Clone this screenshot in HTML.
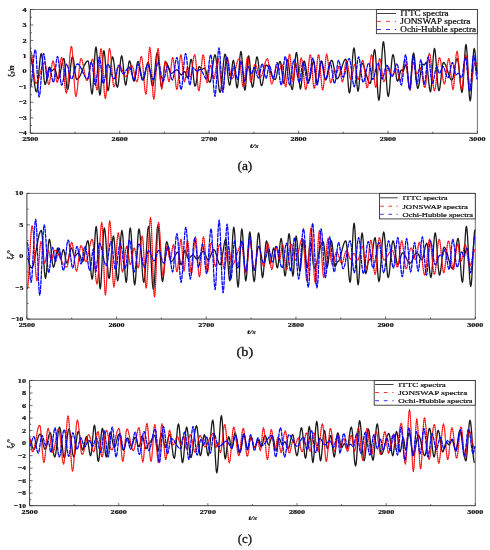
<!DOCTYPE html>
<html><head><meta charset="utf-8"><title>Figure</title>
<style>
html,body{margin:0;padding:0;background:#fff}
svg{display:block}
text{font-family:"Liberation Serif","DejaVu Serif",serif;fill:#111}
.tk{font-size:7px;font-weight:bold;stroke:#111;stroke-width:0.22px}
.al{font-size:6.1px;font-weight:bold;font-style:italic;stroke:#111;stroke-width:0.15px}
.lg{stroke:#111;stroke-width:0.22px}
.cap{font-size:12.8px;fill:#111;stroke:#111;stroke-width:0.3px}
</style></head><body>
<svg width="490" height="550" viewBox="0 0 490 550">
<rect width="490" height="550" fill="#fff"/>
<g fill="none" stroke-linejoin="round">
<path d="M30.3 56.9 L30.8 57.5 L31.3 59.3 L31.8 62.0 L32.4 65.6 L32.9 69.9 L33.4 74.4 L33.9 78.9 L34.4 83.1 L34.9 86.7 L35.4 89.5 L35.9 91.3 L36.5 91.9 L37.0 90.7 L37.5 87.4 L38.1 82.3 L38.6 76.0 L39.1 69.4 L39.7 63.1 L40.2 58.0 L40.8 54.7 L41.3 53.5 L41.8 55.1 L42.4 59.4 L42.9 65.6 L43.5 72.5 L44.0 78.7 L44.6 83.0 L45.1 84.5 L45.7 83.9 L46.2 82.0 L46.7 79.1 L47.3 75.8 L47.8 72.5 L48.4 69.6 L48.9 67.7 L49.4 67.1 L50.0 67.6 L50.5 69.0 L51.1 70.4 L51.7 71.0 L52.2 70.8 L52.8 70.2 L53.4 69.5 L53.9 69.0 L54.5 68.8 L55.0 69.3 L55.6 70.7 L56.1 72.7 L56.6 75.0 L57.1 77.0 L57.7 78.4 L58.2 78.9 L58.7 78.5 L59.2 77.3 L59.7 75.4 L60.3 73.0 L60.8 70.2 L61.3 67.3 L61.8 64.5 L62.3 62.1 L62.8 60.2 L63.3 59.0 L63.9 58.6 L64.4 60.1 L64.9 64.4 L65.4 70.7 L65.9 77.6 L66.4 83.8 L66.9 88.1 L67.5 89.6 L68.0 88.8 L68.5 86.5 L69.0 82.9 L69.5 78.3 L70.0 73.3 L70.5 68.2 L71.0 63.6 L71.5 60.0 L72.0 57.7 L72.5 56.9 L73.1 57.8 L73.6 60.2 L74.1 63.9 L74.6 68.2 L75.1 72.5 L75.7 76.2 L76.2 78.6 L76.7 79.5 L77.2 79.4 L77.7 79.1 L78.3 78.6 L78.8 78.0 L79.3 77.2 L79.8 76.3 L80.3 75.2 L80.8 74.0 L81.4 72.8 L81.9 71.5 L82.4 70.2 L82.9 68.8 L83.4 67.5 L83.9 66.3 L84.5 65.1 L85.0 64.1 L85.5 63.1 L86.0 62.3 L86.5 61.7 L87.0 61.2 L87.6 61.0 L88.1 60.9 L88.6 62.5 L89.2 67.1 L89.8 73.8 L90.3 81.2 L90.9 87.9 L91.5 92.5 L92.0 94.1 L92.6 91.8 L93.1 85.2 L93.7 75.7 L94.3 65.2 L94.8 55.7 L95.4 49.1 L96.0 46.8 L96.5 49.2 L97.1 55.9 L97.7 65.6 L98.2 76.4 L98.8 86.1 L99.3 92.8 L99.9 95.2 L100.5 93.0 L101.0 86.9 L101.6 77.9 L102.2 68.0 L102.7 59.1 L103.3 52.9 L103.9 50.7 L104.4 52.2 L104.9 56.6 L105.4 63.1 L105.9 70.7 L106.5 78.4 L107.0 84.9 L107.5 89.2 L108.0 90.7 L108.5 89.7 L109.0 86.8 L109.5 82.3 L110.0 76.8 L110.5 70.9 L111.0 65.4 L111.5 60.9 L112.0 57.9 L112.5 56.9 L113.1 57.8 L113.6 60.5 L114.2 64.5 L114.7 69.5 L115.2 74.8 L115.8 79.7 L116.3 83.8 L116.9 86.4 L117.4 87.3 L117.9 86.1 L118.5 82.7 L119.0 77.6 L119.5 71.6 L120.1 65.5 L120.6 60.4 L121.1 57.0 L121.7 55.8 L122.2 57.2 L122.8 61.3 L123.4 67.2 L123.9 73.7 L124.5 79.6 L125.1 83.6 L125.6 85.1 L126.2 83.9 L126.7 80.5 L127.3 75.7 L127.8 70.3 L128.4 65.4 L128.9 62.1 L129.4 60.9 L130.0 61.5 L130.5 63.2 L131.0 65.9 L131.5 69.2 L132.0 72.8 L132.5 76.1 L133.0 78.8 L133.5 80.5 L134.0 81.2 L134.5 80.4 L135.0 78.3 L135.5 75.1 L136.0 71.3 L136.5 67.5 L137.0 64.3 L137.5 62.2 L138.0 61.4 L138.5 61.9 L139.0 63.2 L139.5 65.3 L140.0 67.8 L140.5 70.7 L141.0 73.6 L141.5 76.2 L142.1 78.2 L142.6 79.6 L143.1 80.0 L143.6 79.6 L144.1 78.4 L144.6 76.4 L145.1 74.0 L145.6 71.3 L146.1 68.6 L146.6 66.2 L147.1 64.2 L147.6 63.0 L148.2 62.5 L148.7 63.3 L149.2 65.3 L149.7 68.5 L150.2 72.3 L150.7 76.4 L151.2 80.3 L151.7 83.5 L152.2 85.5 L152.7 86.2 L153.2 85.2 L153.7 82.3 L154.2 77.9 L154.7 72.5 L155.2 66.7 L155.7 61.3 L156.2 56.9 L156.7 54.0 L157.2 53.0 L157.7 54.0 L158.2 56.9 L158.7 61.4 L159.2 66.9 L159.7 72.8 L160.2 78.3 L160.7 82.8 L161.2 85.8 L161.7 86.8 L162.2 85.6 L162.8 82.1 L163.4 77.1 L163.9 71.6 L164.5 66.7 L165.1 63.2 L165.6 62.0 L166.1 62.2 L166.6 62.9 L167.2 63.9 L167.7 65.3 L168.2 66.8 L168.7 68.4 L169.2 70.0 L169.7 71.3 L170.2 72.4 L170.7 73.0 L171.3 73.3 L171.8 73.2 L172.3 73.0 L172.8 72.7 L173.3 72.3 L173.8 71.8 L174.3 71.3 L174.8 70.9 L175.4 70.5 L175.9 70.1 L176.4 69.9 L176.9 69.9 L177.4 70.0 L177.9 70.5 L178.4 71.1 L178.9 72.0 L179.4 72.9 L179.9 73.7 L180.4 74.4 L180.9 74.8 L181.4 75.0 L182.0 74.7 L182.5 74.1 L183.1 73.3 L183.7 72.4 L184.2 71.8 L184.8 71.6 L185.4 72.2 L185.9 73.7 L186.5 75.6 L187.0 77.2 L187.6 77.8 L188.1 76.8 L188.6 74.3 L189.2 70.5 L189.7 66.4 L190.2 62.7 L190.7 60.1 L191.2 59.2 L191.8 60.5 L192.3 64.3 L192.8 69.7 L193.4 75.7 L193.9 81.1 L194.5 84.9 L195.0 86.2 L195.6 85.5 L196.1 83.3 L196.6 80.1 L197.1 76.4 L197.6 72.6 L198.2 69.4 L198.7 67.2 L199.2 66.5 L199.8 66.8 L200.3 67.5 L200.9 68.3 L201.5 69.0 L202.0 69.3 L202.6 69.1 L203.1 68.7 L203.7 68.3 L204.3 68.2 L204.8 68.5 L205.3 69.3 L205.8 70.6 L206.3 72.3 L206.8 74.2 L207.3 76.2 L207.9 78.2 L208.4 79.8 L208.9 81.2 L209.4 82.0 L209.9 82.3 L210.4 81.6 L210.9 79.6 L211.4 76.6 L211.9 72.7 L212.4 68.5 L213.0 64.2 L213.5 60.4 L214.0 57.3 L214.5 55.3 L215.0 54.7 L215.5 55.6 L216.0 58.3 L216.5 62.4 L217.0 67.7 L217.5 73.5 L218.0 79.4 L218.5 84.6 L219.0 88.8 L219.6 91.5 L220.1 92.4 L220.6 91.5 L221.1 88.8 L221.6 84.5 L222.1 79.2 L222.6 73.3 L223.1 67.3 L223.6 62.0 L224.1 57.8 L224.6 55.0 L225.1 54.1 L225.6 55.0 L226.1 57.7 L226.6 61.8 L227.1 66.9 L227.6 72.3 L228.1 77.3 L228.6 81.5 L229.1 84.2 L229.6 85.1 L230.2 83.9 L230.7 80.4 L231.2 75.5 L231.8 69.9 L232.3 65.0 L232.8 61.5 L233.4 60.3 L233.9 61.7 L234.5 65.5 L235.0 71.0 L235.5 77.2 L236.1 82.7 L236.6 86.5 L237.2 87.9 L237.7 86.1 L238.3 81.0 L238.8 73.7 L239.3 65.5 L239.8 58.2 L240.4 53.1 L240.9 51.3 L241.5 53.2 L242.0 58.6 L242.6 66.4 L243.2 75.0 L243.7 82.8 L244.3 88.2 L244.9 90.2 L245.4 88.5 L245.9 83.7 L246.4 76.8 L247.0 69.1 L247.5 62.3 L248.0 57.5 L248.6 55.8 L249.1 57.3 L249.7 61.7 L250.3 68.1 L250.8 75.1 L251.4 81.4 L251.9 85.8 L252.5 87.3 L253.0 86.4 L253.5 83.8 L254.0 79.7 L254.5 74.8 L255.0 69.5 L255.5 64.5 L256.0 60.5 L256.5 57.8 L257.0 56.9 L257.5 57.8 L258.0 60.3 L258.5 64.1 L259.0 68.8 L259.5 73.8 L260.0 78.5 L260.5 82.3 L261.0 84.8 L261.5 85.7 L262.1 85.0 L262.6 83.2 L263.1 80.5 L263.6 77.1 L264.2 73.6 L264.7 70.2 L265.2 67.4 L265.7 65.7 L266.3 65.0 L266.8 65.2 L267.3 65.5 L267.8 66.1 L268.3 66.9 L268.8 67.9 L269.4 69.0 L269.9 70.3 L270.4 71.6 L270.9 72.9 L271.4 74.2 L272.0 75.5 L272.5 76.6 L273.0 77.6 L273.5 78.4 L274.0 79.0 L274.5 79.3 L275.1 79.5 L275.6 79.0 L276.1 77.7 L276.6 75.7 L277.1 73.2 L277.6 70.4 L278.1 67.7 L278.6 65.1 L279.1 63.1 L279.6 61.9 L280.1 61.4 L280.7 62.5 L281.2 65.6 L281.7 70.0 L282.3 74.9 L282.8 79.3 L283.3 82.3 L283.9 83.4 L284.4 82.2 L284.9 78.9 L285.4 74.2 L285.9 68.9 L286.4 64.2 L286.9 60.9 L287.5 59.7 L288.0 60.6 L288.5 63.2 L289.0 67.2 L289.6 72.1 L290.1 77.3 L290.6 82.1 L291.1 86.1 L291.7 88.7 L292.2 89.6 L292.7 88.2 L293.3 84.2 L293.8 78.1 L294.3 71.0 L294.9 63.9 L295.4 57.8 L295.9 53.8 L296.5 52.4 L297.0 54.2 L297.6 59.3 L298.2 66.6 L298.7 74.8 L299.3 82.1 L299.9 87.2 L300.4 89.0 L300.9 87.6 L301.5 83.7 L302.0 78.1 L302.5 71.8 L303.1 66.2 L303.6 62.3 L304.1 60.9 L304.6 61.5 L305.1 63.2 L305.6 65.9 L306.1 69.2 L306.6 72.8 L307.1 76.1 L307.6 78.8 L308.1 80.5 L308.6 81.2 L309.1 80.7 L309.7 79.3 L310.2 77.1 L310.7 74.3 L311.2 71.3 L311.7 68.2 L312.2 65.5 L312.7 63.3 L313.2 61.9 L313.7 61.4 L314.3 62.9 L314.8 66.9 L315.4 72.4 L316.0 77.9 L316.5 81.9 L317.1 83.4 L317.6 82.7 L318.1 80.8 L318.6 77.8 L319.1 74.1 L319.6 70.2 L320.1 66.5 L320.6 63.5 L321.1 61.5 L321.6 60.9 L322.2 61.8 L322.7 64.5 L323.3 68.3 L323.9 72.6 L324.4 76.4 L325.0 79.1 L325.6 80.0 L326.1 79.7 L326.6 78.7 L327.1 77.1 L327.6 75.1 L328.1 72.7 L328.6 70.2 L329.2 67.6 L329.7 65.2 L330.2 63.2 L330.7 61.6 L331.2 60.6 L331.8 60.3 L332.3 60.7 L332.8 62.1 L333.3 64.1 L333.8 66.7 L334.3 69.6 L334.8 72.5 L335.3 75.1 L335.8 77.1 L336.3 78.4 L336.8 78.9 L337.3 78.8 L337.8 78.3 L338.3 77.6 L338.8 76.6 L339.3 75.4 L339.8 74.0 L340.3 72.4 L340.8 70.7 L341.3 69.0 L341.8 67.3 L342.3 65.7 L342.8 64.1 L343.3 62.7 L343.8 61.5 L344.3 60.5 L344.8 59.8 L345.3 59.3 L345.8 59.2 L346.4 60.8 L346.9 65.5 L347.4 72.3 L347.9 79.8 L348.4 86.6 L348.9 91.3 L349.4 93.0 L350.0 91.6 L350.5 87.7 L351.0 81.7 L351.5 74.4 L352.0 66.5 L352.5 59.2 L353.0 53.2 L353.5 49.2 L354.0 47.9 L354.5 49.5 L355.0 54.2 L355.5 61.3 L356.0 69.6 L356.5 77.9 L357.0 84.9 L357.5 89.6 L358.0 91.3 L358.5 89.9 L359.0 86.0 L359.5 80.3 L360.1 74.1 L360.6 68.4 L361.1 64.5 L361.6 63.1 L362.1 63.3 L362.6 63.8 L363.1 64.6 L363.6 65.8 L364.1 67.1 L364.6 68.7 L365.1 70.5 L365.6 72.3 L366.1 74.2 L366.7 76.0 L367.2 77.8 L367.7 79.4 L368.2 80.8 L368.7 81.9 L369.2 82.7 L369.7 83.2 L370.2 83.4 L370.7 82.4 L371.2 79.4 L371.7 74.9 L372.2 69.4 L372.7 63.6 L373.2 58.0 L373.7 53.5 L374.2 50.6 L374.7 49.6 L375.2 51.5 L375.7 57.0 L376.3 65.2 L376.8 74.9 L377.3 84.7 L377.8 92.9 L378.3 98.4 L378.9 100.3 L379.4 98.6 L379.9 93.5 L380.4 85.7 L380.9 76.1 L381.4 65.9 L381.9 56.3 L382.4 48.5 L382.9 43.5 L383.4 41.7 L383.9 43.3 L384.4 48.1 L385.0 55.4 L385.5 64.3 L386.1 73.8 L386.6 82.7 L387.1 90.0 L387.7 94.7 L388.2 96.4 L388.7 95.1 L389.3 91.5 L389.8 85.9 L390.3 79.1 L390.8 71.9 L391.4 65.1 L391.9 59.5 L392.4 55.9 L392.9 54.7 L393.5 55.5 L394.0 57.8 L394.5 61.3 L395.0 65.6 L395.5 70.2 L396.0 74.5 L396.5 78.1 L397.0 80.4 L397.5 81.2 L398.0 80.6 L398.6 79.0 L399.1 76.8 L399.7 74.3 L400.3 72.0 L400.8 70.4 L401.4 69.9 L402.0 70.1 L402.5 70.5 L403.1 70.7 L403.7 70.1 L404.2 68.6 L404.8 66.8 L405.3 65.4 L405.9 64.8 L406.4 66.0 L407.0 69.3 L407.5 74.0 L408.0 79.3 L408.6 84.0 L409.1 87.3 L409.6 88.5 L410.2 86.7 L410.8 81.8 L411.3 74.7 L411.9 66.8 L412.4 59.7 L413.0 54.7 L413.6 53.0 L414.1 54.3 L414.6 58.2 L415.1 63.9 L415.6 70.7 L416.2 77.5 L416.7 83.3 L417.2 87.1 L417.7 88.5 L418.3 87.7 L418.8 85.6 L419.4 82.4 L419.9 78.5 L420.4 74.3 L421.0 70.3 L421.5 67.1 L422.0 65.0 L422.6 64.2 L423.1 64.4 L423.7 64.8 L424.3 65.0 L424.8 64.4 L425.4 63.2 L426.0 62.5 L426.5 63.4 L427.0 66.0 L427.5 69.9 L428.0 74.7 L428.5 79.7 L429.0 84.5 L429.5 88.4 L430.0 91.0 L430.5 91.9 L431.0 89.7 L431.6 83.7 L432.2 75.0 L432.7 65.3 L433.3 56.6 L433.9 50.6 L434.4 48.5 L434.9 49.7 L435.4 53.4 L435.9 59.0 L436.4 65.9 L436.9 73.3 L437.4 80.2 L437.9 85.8 L438.4 89.5 L438.9 90.7 L439.4 89.9 L439.9 87.4 L440.4 83.7 L440.9 79.1 L441.4 74.2 L441.9 69.6 L442.4 65.8 L442.9 63.4 L443.4 62.5 L444.0 62.7 L444.5 63.2 L445.0 64.0 L445.6 65.1 L446.1 66.4 L446.6 67.9 L447.1 69.6 L447.7 71.3 L448.2 73.0 L448.7 74.6 L449.3 76.1 L449.8 77.5 L450.3 78.5 L450.8 79.4 L451.4 79.9 L451.9 80.0 L452.4 79.5 L453.0 78.0 L453.5 75.6 L454.0 72.6 L454.5 69.3 L455.1 66.0 L455.6 63.0 L456.1 60.6 L456.7 59.1 L457.2 58.6 L457.7 59.6 L458.3 62.6 L458.8 67.1 L459.3 72.6 L459.9 78.4 L460.4 84.0 L461.0 88.5 L461.5 91.4 L462.0 92.4 L462.6 90.0 L463.2 83.4 L463.7 73.8 L464.3 63.1 L464.9 53.5 L465.4 46.9 L466.0 44.5 L466.5 46.7 L467.0 52.8 L467.6 61.9 L468.1 72.7 L468.6 83.5 L469.1 92.6 L469.6 98.7 L470.2 100.9 L470.7 98.9 L471.2 93.2 L471.7 84.7 L472.2 74.7 L472.7 64.6 L473.2 56.1 L473.7 50.5 L474.2 48.5 L474.8 50.2 L475.3 54.8 L475.8 61.1 L476.3 67.5 L476.9 72.1 L477.4 73.8" stroke="#1a1a1a" stroke-width="1.3"/>
<path d="M30.5 50.7 L31.0 51.5 L31.6 53.8 L32.1 57.4 L32.6 62.0 L33.2 67.1 L33.7 72.1 L34.3 76.7 L34.8 80.3 L35.3 82.6 L35.9 83.4 L36.4 83.2 L36.9 82.7 L37.4 81.8 L38.0 80.7 L38.5 79.3 L39.0 77.6 L39.5 75.8 L40.0 73.9 L40.5 72.0 L41.1 70.1 L41.6 68.3 L42.1 66.7 L42.6 65.3 L43.1 64.1 L43.7 63.3 L44.2 62.7 L44.7 62.5 L45.2 63.4 L45.7 65.8 L46.3 69.3 L46.8 73.5 L47.3 77.7 L47.8 81.3 L48.3 83.7 L48.9 84.5 L49.4 83.6 L49.9 81.1 L50.4 77.2 L50.9 72.7 L51.5 68.2 L52.0 64.3 L52.5 61.8 L53.0 60.9 L53.5 61.7 L54.0 64.0 L54.6 67.5 L55.1 71.6 L55.6 75.7 L56.1 79.1 L56.6 81.5 L57.1 82.3 L57.6 81.5 L58.1 79.4 L58.6 76.1 L59.1 72.0 L59.6 67.7 L60.1 63.7 L60.6 60.4 L61.1 58.2 L61.6 57.5 L62.1 58.5 L62.7 61.6 L63.2 66.3 L63.7 72.1 L64.2 78.3 L64.8 84.1 L65.3 88.8 L65.8 91.9 L66.3 93.0 L66.8 91.8 L67.3 88.5 L67.9 83.3 L68.4 76.8 L68.9 69.6 L69.4 62.4 L69.9 55.8 L70.4 50.7 L70.9 47.3 L71.4 46.2 L71.9 47.7 L72.4 52.1 L72.9 58.7 L73.4 66.9 L73.9 75.6 L74.4 83.8 L74.9 90.5 L75.4 94.9 L75.9 96.4 L76.4 95.4 L76.9 92.8 L77.4 88.6 L77.9 83.3 L78.4 77.5 L79.0 71.6 L79.5 66.4 L80.0 62.2 L80.5 59.5 L81.0 58.6 L81.5 59.0 L82.1 60.3 L82.6 62.4 L83.2 65.0 L83.7 68.0 L84.2 71.2 L84.8 74.2 L85.3 76.8 L85.9 78.8 L86.4 80.1 L87.0 80.6 L87.5 80.2 L88.0 78.9 L88.5 76.9 L89.0 74.3 L89.5 71.4 L90.0 68.4 L90.5 65.4 L91.0 62.9 L91.6 60.9 L92.1 59.6 L92.6 59.2 L93.1 60.1 L93.6 62.8 L94.1 66.9 L94.6 72.0 L95.1 77.4 L95.6 82.4 L96.1 86.5 L96.6 89.2 L97.1 90.2 L97.7 88.1 L98.2 82.3 L98.8 74.0 L99.3 64.7 L99.9 56.3 L100.5 50.5 L101.0 48.5 L101.6 50.4 L102.1 55.8 L102.6 63.9 L103.2 73.5 L103.7 83.1 L104.2 91.3 L104.8 96.7 L105.3 98.6 L105.8 96.7 L106.4 91.3 L106.9 83.1 L107.4 73.5 L107.9 63.9 L108.4 55.8 L109.0 50.4 L109.5 48.5 L110.0 49.6 L110.5 52.9 L111.0 58.0 L111.5 64.3 L112.0 71.0 L112.5 77.2 L113.0 82.3 L113.5 85.6 L114.0 86.8 L114.5 86.3 L115.0 84.7 L115.5 82.3 L116.0 79.2 L116.5 75.8 L117.0 72.4 L117.6 69.3 L118.1 66.9 L118.6 65.3 L119.1 64.8 L119.6 65.0 L120.1 65.5 L120.6 66.3 L121.2 67.4 L121.7 68.6 L122.2 70.0 L122.7 71.4 L123.2 72.8 L123.8 74.1 L124.3 75.2 L124.8 76.0 L125.3 76.5 L125.8 76.6 L126.4 76.4 L126.9 75.7 L127.4 74.7 L128.0 73.3 L128.5 71.8 L129.0 70.2 L129.6 68.7 L130.1 67.3 L130.6 66.3 L131.2 65.6 L131.7 65.4 L132.2 65.8 L132.7 66.9 L133.3 68.7 L133.8 71.0 L134.3 73.5 L134.8 76.1 L135.3 78.3 L135.9 80.1 L136.4 81.3 L136.9 81.7 L137.5 80.7 L138.0 78.0 L138.6 73.9 L139.1 69.0 L139.7 64.2 L140.3 60.1 L140.8 57.3 L141.4 56.4 L141.9 57.5 L142.4 60.8 L142.9 65.8 L143.4 72.0 L143.9 78.5 L144.4 84.7 L144.9 89.7 L145.4 93.0 L145.9 94.1 L146.5 91.8 L147.0 85.3 L147.6 75.9 L148.1 65.5 L148.7 56.1 L149.3 49.6 L149.8 47.3 L150.4 49.9 L151.0 57.1 L151.5 67.5 L152.1 79.0 L152.7 89.4 L153.2 96.6 L153.8 99.2 L154.3 97.3 L154.9 91.8 L155.4 83.5 L155.9 73.8 L156.5 64.1 L157.0 55.9 L157.5 50.4 L158.1 48.5 L158.6 50.5 L159.1 56.1 L159.6 64.2 L160.1 73.3 L160.6 81.4 L161.2 87.0 L161.7 89.0 L162.2 87.6 L162.7 83.7 L163.2 78.1 L163.7 71.8 L164.3 66.2 L164.8 62.3 L165.3 60.9 L165.8 61.9 L166.3 64.8 L166.9 69.0 L167.4 73.6 L167.9 77.8 L168.5 80.7 L169.0 81.7 L169.5 80.5 L170.1 77.1 L170.6 72.3 L171.1 66.9 L171.7 62.0 L172.2 58.7 L172.7 57.5 L173.2 58.7 L173.8 62.2 L174.3 67.4 L174.8 73.5 L175.3 79.7 L175.9 84.9 L176.4 88.4 L176.9 89.6 L177.5 87.9 L178.0 83.0 L178.6 76.0 L179.2 68.2 L179.7 61.2 L180.3 56.4 L180.8 54.7 L181.4 56.0 L181.9 59.8 L182.4 65.2 L182.9 71.2 L183.4 76.6 L183.9 80.4 L184.4 81.7 L185.0 80.7 L185.5 78.0 L186.0 74.4 L186.6 70.7 L187.1 68.0 L187.6 67.1 L188.2 68.5 L188.9 72.1 L189.5 75.7 L190.1 77.2 L190.6 76.5 L191.1 74.6 L191.6 71.6 L192.1 67.9 L192.6 64.0 L193.2 60.3 L193.7 57.3 L194.2 55.3 L194.7 54.7 L195.2 56.0 L195.7 59.9 L196.3 65.8 L196.8 72.7 L197.3 79.6 L197.8 85.4 L198.3 89.4 L198.9 90.7 L199.4 89.4 L199.9 85.4 L200.5 79.6 L201.0 72.7 L201.5 65.8 L202.1 59.9 L202.6 56.0 L203.2 54.7 L203.7 56.1 L204.3 60.0 L204.8 65.6 L205.4 71.9 L206.0 77.5 L206.5 81.4 L207.1 82.8 L207.7 81.7 L208.2 78.5 L208.8 74.1 L209.3 69.7 L209.9 66.5 L210.5 65.4 L211.0 66.3 L211.6 68.8 L212.2 72.1 L212.7 75.5 L213.3 78.0 L213.9 78.9 L214.4 78.1 L214.9 75.9 L215.4 72.6 L215.9 68.8 L216.5 64.9 L217.0 61.6 L217.5 59.4 L218.0 58.6 L218.5 59.5 L219.0 62.2 L219.5 66.4 L220.0 71.4 L220.5 76.8 L221.0 81.9 L221.5 86.0 L222.0 88.7 L222.5 89.6 L223.1 88.4 L223.6 84.8 L224.1 79.5 L224.7 73.3 L225.2 67.0 L225.8 61.7 L226.3 58.2 L226.8 56.9 L227.3 57.4 L227.8 59.0 L228.3 61.4 L228.9 64.5 L229.4 67.9 L229.9 71.3 L230.4 74.4 L230.9 76.8 L231.4 78.4 L231.9 78.9 L232.4 78.6 L232.9 77.9 L233.5 76.7 L234.0 75.1 L234.5 73.2 L235.0 71.0 L235.6 68.8 L236.1 66.5 L236.6 64.3 L237.1 62.4 L237.7 60.8 L238.2 59.6 L238.7 58.9 L239.2 58.6 L239.8 60.0 L240.3 63.9 L240.9 69.6 L241.5 75.8 L242.0 81.5 L242.6 85.4 L243.2 86.8 L243.7 85.9 L244.2 83.3 L244.7 79.3 L245.2 74.4 L245.7 69.3 L246.2 64.4 L246.7 60.4 L247.2 57.8 L247.7 56.9 L248.2 58.6 L248.7 63.3 L249.2 69.6 L249.8 75.9 L250.3 80.6 L250.8 82.3 L251.3 81.6 L251.9 79.6 L252.4 76.7 L252.9 73.3 L253.4 69.8 L253.9 66.9 L254.5 64.9 L255.0 64.2 L255.5 64.6 L256.1 65.5 L256.6 66.9 L257.2 68.7 L257.7 70.7 L258.2 72.7 L258.8 74.5 L259.3 76.0 L259.9 76.9 L260.4 77.2 L260.9 76.9 L261.5 76.1 L262.0 74.9 L262.6 73.2 L263.1 71.2 L263.6 69.0 L264.2 66.8 L264.7 64.6 L265.2 62.6 L265.8 60.9 L266.3 59.7 L266.9 58.9 L267.4 58.6 L267.9 59.6 L268.5 62.3 L269.0 66.4 L269.5 71.3 L270.1 76.1 L270.6 80.3 L271.1 83.0 L271.7 84.0 L272.2 83.6 L272.7 82.4 L273.2 80.5 L273.7 78.1 L274.2 75.5 L274.7 72.9 L275.2 70.5 L275.7 68.7 L276.2 67.5 L276.8 67.1 L277.3 67.6 L277.9 68.8 L278.4 69.9 L279.0 70.4 L279.6 69.8 L280.1 68.3 L280.7 66.4 L281.3 64.8 L281.8 64.2 L282.4 65.4 L282.9 68.5 L283.5 73.0 L284.1 78.0 L284.6 82.5 L285.2 85.7 L285.8 86.8 L286.3 85.2 L286.8 80.6 L287.4 74.1 L287.9 66.8 L288.4 60.2 L289.0 55.7 L289.5 54.1 L290.0 55.5 L290.5 59.3 L291.0 64.8 L291.6 71.0 L292.1 76.5 L292.6 80.3 L293.1 81.7 L293.7 79.9 L294.2 75.3 L294.8 69.5 L295.3 64.9 L295.9 63.1 L296.5 65.2 L297.0 70.2 L297.6 75.1 L298.2 77.2 L298.7 75.9 L299.2 72.4 L299.7 67.6 L300.2 62.8 L300.7 59.3 L301.2 58.0 L301.7 59.0 L302.2 61.7 L302.7 65.9 L303.3 71.1 L303.8 76.6 L304.3 81.7 L304.8 85.9 L305.3 88.7 L305.8 89.6 L306.3 88.6 L306.8 85.5 L307.3 80.9 L307.8 75.2 L308.3 69.1 L308.8 63.4 L309.3 58.7 L309.8 55.7 L310.3 54.7 L310.9 56.3 L311.5 61.0 L312.0 67.8 L312.6 75.3 L313.1 82.1 L313.7 86.8 L314.3 88.5 L314.8 87.2 L315.3 83.5 L315.9 78.0 L316.4 71.6 L317.0 65.1 L317.5 59.6 L318.0 55.9 L318.6 54.7 L319.1 56.0 L319.6 59.9 L320.1 65.6 L320.6 72.4 L321.2 79.2 L321.7 85.0 L322.2 88.8 L322.7 90.2 L323.3 88.4 L323.9 83.4 L324.4 76.1 L325.0 68.1 L325.6 60.9 L326.1 55.9 L326.7 54.1 L327.2 55.5 L327.8 59.5 L328.4 65.3 L328.9 71.7 L329.5 77.4 L330.1 81.4 L330.6 82.8 L331.2 82.2 L331.7 80.4 L332.3 77.8 L332.9 74.9 L333.4 72.3 L334.0 70.5 L334.6 69.9 L335.1 70.3 L335.7 71.3 L336.3 72.3 L336.8 72.7 L337.4 71.7 L337.9 69.3 L338.5 66.9 L339.1 65.9 L339.6 67.0 L340.2 69.9 L340.8 73.8 L341.3 77.8 L341.9 80.7 L342.5 81.7 L343.0 80.7 L343.6 77.9 L344.1 73.8 L344.7 69.3 L345.3 65.2 L345.8 62.4 L346.4 61.4 L346.9 62.0 L347.4 63.5 L347.9 65.9 L348.4 68.9 L348.9 72.0 L349.4 74.9 L349.9 77.3 L350.4 78.9 L350.9 79.5 L351.5 78.7 L352.0 76.6 L352.6 73.5 L353.2 70.2 L353.7 67.1 L354.3 65.0 L354.9 64.2 L355.4 65.3 L356.0 68.0 L356.5 71.8 L357.1 75.7 L357.7 78.4 L358.2 79.5 L358.7 78.9 L359.2 77.2 L359.7 74.7 L360.2 71.5 L360.7 68.2 L361.2 65.1 L361.7 62.5 L362.2 60.9 L362.7 60.3 L363.2 61.1 L363.7 63.5 L364.2 67.2 L364.7 71.7 L365.2 76.5 L365.7 81.0 L366.2 84.7 L366.7 87.1 L367.2 87.9 L367.8 86.6 L368.3 83.0 L368.8 77.6 L369.4 71.3 L369.9 64.9 L370.5 59.5 L371.0 55.9 L371.5 54.7 L372.1 55.9 L372.6 59.4 L373.1 64.8 L373.7 71.0 L374.2 77.3 L374.7 82.6 L375.3 86.1 L375.8 87.3 L376.4 85.9 L376.9 81.9 L377.5 76.2 L378.0 69.8 L378.6 64.0 L379.1 60.0 L379.6 58.6 L380.2 59.5 L380.7 62.0 L381.3 65.7 L381.8 70.2 L382.3 74.6 L382.9 78.3 L383.4 80.8 L383.9 81.7 L384.4 81.3 L384.9 80.0 L385.4 78.0 L385.9 75.7 L386.4 73.1 L386.9 70.7 L387.4 68.8 L387.9 67.5 L388.4 67.1 L389.0 67.5 L389.6 68.8 L390.1 70.6 L390.7 72.6 L391.3 74.4 L391.8 75.6 L392.4 76.1 L393.0 75.7 L393.5 74.7 L394.1 73.2 L394.6 71.6 L395.2 70.1 L395.8 69.1 L396.3 68.8 L396.9 69.3 L397.5 71.0 L398.0 73.4 L398.6 76.0 L399.2 78.4 L399.7 80.0 L400.3 80.6 L400.8 80.0 L401.4 78.1 L401.9 75.4 L402.4 72.0 L403.0 68.3 L403.5 64.9 L404.1 62.2 L404.6 60.4 L405.1 59.7 L405.7 60.6 L406.2 63.3 L406.8 67.3 L407.3 72.3 L407.9 77.6 L408.4 82.6 L409.0 86.6 L409.5 89.3 L410.1 90.2 L410.7 87.5 L411.3 80.6 L411.8 72.1 L412.4 65.2 L413.0 62.5 L413.6 63.1 L414.1 64.7 L414.7 66.9 L415.3 69.4 L415.8 71.7 L416.4 73.3 L416.9 73.8 L417.5 73.4 L418.1 72.3 L418.6 70.7 L419.2 69.2 L419.8 68.0 L420.3 67.6 L420.8 68.2 L421.3 69.9 L421.8 72.6 L422.3 75.8 L422.8 79.2 L423.3 82.4 L423.8 85.0 L424.3 86.8 L424.8 87.3 L425.3 86.3 L425.8 83.4 L426.3 78.9 L426.8 73.4 L427.3 67.5 L427.8 62.0 L428.3 57.5 L428.8 54.5 L429.4 53.5 L429.9 54.4 L430.4 57.1 L430.9 61.2 L431.4 66.4 L431.9 72.1 L432.4 77.9 L432.9 83.1 L433.4 87.2 L433.9 89.8 L434.4 90.7 L434.9 89.9 L435.4 87.6 L435.9 83.9 L436.4 79.2 L437.0 74.1 L437.5 69.0 L438.0 64.3 L438.5 60.6 L439.0 58.3 L439.5 57.5 L440.0 58.3 L440.6 60.6 L441.1 64.1 L441.6 68.4 L442.2 73.0 L442.7 77.3 L443.3 80.9 L443.8 83.2 L444.3 84.0 L444.8 83.2 L445.3 81.0 L445.8 77.6 L446.3 73.5 L446.8 69.1 L447.3 64.9 L447.8 61.6 L448.3 59.4 L448.9 58.6 L449.4 59.8 L449.9 63.1 L450.4 68.2 L450.9 74.1 L451.5 80.0 L452.0 85.1 L452.5 88.4 L453.0 89.6 L453.6 87.7 L454.1 82.4 L454.7 74.7 L455.3 66.2 L455.8 58.5 L456.4 53.2 L457.0 51.3 L457.5 52.4 L458.0 55.8 L458.5 60.9 L459.1 67.1 L459.6 73.8 L460.1 80.0 L460.6 85.1 L461.2 88.5 L461.7 89.6 L462.2 88.3 L462.7 84.5 L463.2 78.8 L463.7 72.1 L464.2 65.4 L464.7 59.8 L465.3 56.0 L465.8 54.7 L466.3 55.9 L466.9 59.4 L467.4 64.8 L468.0 71.0 L468.5 77.3 L469.1 82.6 L469.6 86.1 L470.2 87.3 L470.7 86.6 L471.2 84.4 L471.8 81.1 L472.3 77.1 L472.9 72.8 L473.4 68.8 L473.9 65.5 L474.5 63.3 L475.0 62.5 L475.6 62.8 L476.2 63.4 L476.8 64.0 L477.4 64.2" stroke="#f00" stroke-width="1.1" opacity="0.45"/>
<path d="M30.5 50.7 L31.0 51.5 L31.6 53.8 L32.1 57.4 L32.6 62.0 L33.2 67.1 L33.7 72.1 L34.3 76.7 L34.8 80.3 L35.3 82.6 L35.9 83.4 L36.4 83.2 L36.9 82.7 L37.4 81.8 L38.0 80.7 L38.5 79.3 L39.0 77.6 L39.5 75.8 L40.0 73.9 L40.5 72.0 L41.1 70.1 L41.6 68.3 L42.1 66.7 L42.6 65.3 L43.1 64.1 L43.7 63.3 L44.2 62.7 L44.7 62.5 L45.2 63.4 L45.7 65.8 L46.3 69.3 L46.8 73.5 L47.3 77.7 L47.8 81.3 L48.3 83.7 L48.9 84.5 L49.4 83.6 L49.9 81.1 L50.4 77.2 L50.9 72.7 L51.5 68.2 L52.0 64.3 L52.5 61.8 L53.0 60.9 L53.5 61.7 L54.0 64.0 L54.6 67.5 L55.1 71.6 L55.6 75.7 L56.1 79.1 L56.6 81.5 L57.1 82.3 L57.6 81.5 L58.1 79.4 L58.6 76.1 L59.1 72.0 L59.6 67.7 L60.1 63.7 L60.6 60.4 L61.1 58.2 L61.6 57.5 L62.1 58.5 L62.7 61.6 L63.2 66.3 L63.7 72.1 L64.2 78.3 L64.8 84.1 L65.3 88.8 L65.8 91.9 L66.3 93.0 L66.8 91.8 L67.3 88.5 L67.9 83.3 L68.4 76.8 L68.9 69.6 L69.4 62.4 L69.9 55.8 L70.4 50.7 L70.9 47.3 L71.4 46.2 L71.9 47.7 L72.4 52.1 L72.9 58.7 L73.4 66.9 L73.9 75.6 L74.4 83.8 L74.9 90.5 L75.4 94.9 L75.9 96.4 L76.4 95.4 L76.9 92.8 L77.4 88.6 L77.9 83.3 L78.4 77.5 L79.0 71.6 L79.5 66.4 L80.0 62.2 L80.5 59.5 L81.0 58.6 L81.5 59.0 L82.1 60.3 L82.6 62.4 L83.2 65.0 L83.7 68.0 L84.2 71.2 L84.8 74.2 L85.3 76.8 L85.9 78.8 L86.4 80.1 L87.0 80.6 L87.5 80.2 L88.0 78.9 L88.5 76.9 L89.0 74.3 L89.5 71.4 L90.0 68.4 L90.5 65.4 L91.0 62.9 L91.6 60.9 L92.1 59.6 L92.6 59.2 L93.1 60.1 L93.6 62.8 L94.1 66.9 L94.6 72.0 L95.1 77.4 L95.6 82.4 L96.1 86.5 L96.6 89.2 L97.1 90.2 L97.7 88.1 L98.2 82.3 L98.8 74.0 L99.3 64.7 L99.9 56.3 L100.5 50.5 L101.0 48.5 L101.6 50.4 L102.1 55.8 L102.6 63.9 L103.2 73.5 L103.7 83.1 L104.2 91.3 L104.8 96.7 L105.3 98.6 L105.8 96.7 L106.4 91.3 L106.9 83.1 L107.4 73.5 L107.9 63.9 L108.4 55.8 L109.0 50.4 L109.5 48.5 L110.0 49.6 L110.5 52.9 L111.0 58.0 L111.5 64.3 L112.0 71.0 L112.5 77.2 L113.0 82.3 L113.5 85.6 L114.0 86.8 L114.5 86.3 L115.0 84.7 L115.5 82.3 L116.0 79.2 L116.5 75.8 L117.0 72.4 L117.6 69.3 L118.1 66.9 L118.6 65.3 L119.1 64.8 L119.6 65.0 L120.1 65.5 L120.6 66.3 L121.2 67.4 L121.7 68.6 L122.2 70.0 L122.7 71.4 L123.2 72.8 L123.8 74.1 L124.3 75.2 L124.8 76.0 L125.3 76.5 L125.8 76.6 L126.4 76.4 L126.9 75.7 L127.4 74.7 L128.0 73.3 L128.5 71.8 L129.0 70.2 L129.6 68.7 L130.1 67.3 L130.6 66.3 L131.2 65.6 L131.7 65.4 L132.2 65.8 L132.7 66.9 L133.3 68.7 L133.8 71.0 L134.3 73.5 L134.8 76.1 L135.3 78.3 L135.9 80.1 L136.4 81.3 L136.9 81.7 L137.5 80.7 L138.0 78.0 L138.6 73.9 L139.1 69.0 L139.7 64.2 L140.3 60.1 L140.8 57.3 L141.4 56.4 L141.9 57.5 L142.4 60.8 L142.9 65.8 L143.4 72.0 L143.9 78.5 L144.4 84.7 L144.9 89.7 L145.4 93.0 L145.9 94.1 L146.5 91.8 L147.0 85.3 L147.6 75.9 L148.1 65.5 L148.7 56.1 L149.3 49.6 L149.8 47.3 L150.4 49.9 L151.0 57.1 L151.5 67.5 L152.1 79.0 L152.7 89.4 L153.2 96.6 L153.8 99.2 L154.3 97.3 L154.9 91.8 L155.4 83.5 L155.9 73.8 L156.5 64.1 L157.0 55.9 L157.5 50.4 L158.1 48.5 L158.6 50.5 L159.1 56.1 L159.6 64.2 L160.1 73.3 L160.6 81.4 L161.2 87.0 L161.7 89.0 L162.2 87.6 L162.7 83.7 L163.2 78.1 L163.7 71.8 L164.3 66.2 L164.8 62.3 L165.3 60.9 L165.8 61.9 L166.3 64.8 L166.9 69.0 L167.4 73.6 L167.9 77.8 L168.5 80.7 L169.0 81.7 L169.5 80.5 L170.1 77.1 L170.6 72.3 L171.1 66.9 L171.7 62.0 L172.2 58.7 L172.7 57.5 L173.2 58.7 L173.8 62.2 L174.3 67.4 L174.8 73.5 L175.3 79.7 L175.9 84.9 L176.4 88.4 L176.9 89.6 L177.5 87.9 L178.0 83.0 L178.6 76.0 L179.2 68.2 L179.7 61.2 L180.3 56.4 L180.8 54.7 L181.4 56.0 L181.9 59.8 L182.4 65.2 L182.9 71.2 L183.4 76.6 L183.9 80.4 L184.4 81.7 L185.0 80.7 L185.5 78.0 L186.0 74.4 L186.6 70.7 L187.1 68.0 L187.6 67.1 L188.2 68.5 L188.9 72.1 L189.5 75.7 L190.1 77.2 L190.6 76.5 L191.1 74.6 L191.6 71.6 L192.1 67.9 L192.6 64.0 L193.2 60.3 L193.7 57.3 L194.2 55.3 L194.7 54.7 L195.2 56.0 L195.7 59.9 L196.3 65.8 L196.8 72.7 L197.3 79.6 L197.8 85.4 L198.3 89.4 L198.9 90.7 L199.4 89.4 L199.9 85.4 L200.5 79.6 L201.0 72.7 L201.5 65.8 L202.1 59.9 L202.6 56.0 L203.2 54.7 L203.7 56.1 L204.3 60.0 L204.8 65.6 L205.4 71.9 L206.0 77.5 L206.5 81.4 L207.1 82.8 L207.7 81.7 L208.2 78.5 L208.8 74.1 L209.3 69.7 L209.9 66.5 L210.5 65.4 L211.0 66.3 L211.6 68.8 L212.2 72.1 L212.7 75.5 L213.3 78.0 L213.9 78.9 L214.4 78.1 L214.9 75.9 L215.4 72.6 L215.9 68.8 L216.5 64.9 L217.0 61.6 L217.5 59.4 L218.0 58.6 L218.5 59.5 L219.0 62.2 L219.5 66.4 L220.0 71.4 L220.5 76.8 L221.0 81.9 L221.5 86.0 L222.0 88.7 L222.5 89.6 L223.1 88.4 L223.6 84.8 L224.1 79.5 L224.7 73.3 L225.2 67.0 L225.8 61.7 L226.3 58.2 L226.8 56.9 L227.3 57.4 L227.8 59.0 L228.3 61.4 L228.9 64.5 L229.4 67.9 L229.9 71.3 L230.4 74.4 L230.9 76.8 L231.4 78.4 L231.9 78.9 L232.4 78.6 L232.9 77.9 L233.5 76.7 L234.0 75.1 L234.5 73.2 L235.0 71.0 L235.6 68.8 L236.1 66.5 L236.6 64.3 L237.1 62.4 L237.7 60.8 L238.2 59.6 L238.7 58.9 L239.2 58.6 L239.8 60.0 L240.3 63.9 L240.9 69.6 L241.5 75.8 L242.0 81.5 L242.6 85.4 L243.2 86.8 L243.7 85.9 L244.2 83.3 L244.7 79.3 L245.2 74.4 L245.7 69.3 L246.2 64.4 L246.7 60.4 L247.2 57.8 L247.7 56.9 L248.2 58.6 L248.7 63.3 L249.2 69.6 L249.8 75.9 L250.3 80.6 L250.8 82.3 L251.3 81.6 L251.9 79.6 L252.4 76.7 L252.9 73.3 L253.4 69.8 L253.9 66.9 L254.5 64.9 L255.0 64.2 L255.5 64.6 L256.1 65.5 L256.6 66.9 L257.2 68.7 L257.7 70.7 L258.2 72.7 L258.8 74.5 L259.3 76.0 L259.9 76.9 L260.4 77.2 L260.9 76.9 L261.5 76.1 L262.0 74.9 L262.6 73.2 L263.1 71.2 L263.6 69.0 L264.2 66.8 L264.7 64.6 L265.2 62.6 L265.8 60.9 L266.3 59.7 L266.9 58.9 L267.4 58.6 L267.9 59.6 L268.5 62.3 L269.0 66.4 L269.5 71.3 L270.1 76.1 L270.6 80.3 L271.1 83.0 L271.7 84.0 L272.2 83.6 L272.7 82.4 L273.2 80.5 L273.7 78.1 L274.2 75.5 L274.7 72.9 L275.2 70.5 L275.7 68.7 L276.2 67.5 L276.8 67.1 L277.3 67.6 L277.9 68.8 L278.4 69.9 L279.0 70.4 L279.6 69.8 L280.1 68.3 L280.7 66.4 L281.3 64.8 L281.8 64.2 L282.4 65.4 L282.9 68.5 L283.5 73.0 L284.1 78.0 L284.6 82.5 L285.2 85.7 L285.8 86.8 L286.3 85.2 L286.8 80.6 L287.4 74.1 L287.9 66.8 L288.4 60.2 L289.0 55.7 L289.5 54.1 L290.0 55.5 L290.5 59.3 L291.0 64.8 L291.6 71.0 L292.1 76.5 L292.6 80.3 L293.1 81.7 L293.7 79.9 L294.2 75.3 L294.8 69.5 L295.3 64.9 L295.9 63.1 L296.5 65.2 L297.0 70.2 L297.6 75.1 L298.2 77.2 L298.7 75.9 L299.2 72.4 L299.7 67.6 L300.2 62.8 L300.7 59.3 L301.2 58.0 L301.7 59.0 L302.2 61.7 L302.7 65.9 L303.3 71.1 L303.8 76.6 L304.3 81.7 L304.8 85.9 L305.3 88.7 L305.8 89.6 L306.3 88.6 L306.8 85.5 L307.3 80.9 L307.8 75.2 L308.3 69.1 L308.8 63.4 L309.3 58.7 L309.8 55.7 L310.3 54.7 L310.9 56.3 L311.5 61.0 L312.0 67.8 L312.6 75.3 L313.1 82.1 L313.7 86.8 L314.3 88.5 L314.8 87.2 L315.3 83.5 L315.9 78.0 L316.4 71.6 L317.0 65.1 L317.5 59.6 L318.0 55.9 L318.6 54.7 L319.1 56.0 L319.6 59.9 L320.1 65.6 L320.6 72.4 L321.2 79.2 L321.7 85.0 L322.2 88.8 L322.7 90.2 L323.3 88.4 L323.9 83.4 L324.4 76.1 L325.0 68.1 L325.6 60.9 L326.1 55.9 L326.7 54.1 L327.2 55.5 L327.8 59.5 L328.4 65.3 L328.9 71.7 L329.5 77.4 L330.1 81.4 L330.6 82.8 L331.2 82.2 L331.7 80.4 L332.3 77.8 L332.9 74.9 L333.4 72.3 L334.0 70.5 L334.6 69.9 L335.1 70.3 L335.7 71.3 L336.3 72.3 L336.8 72.7 L337.4 71.7 L337.9 69.3 L338.5 66.9 L339.1 65.9 L339.6 67.0 L340.2 69.9 L340.8 73.8 L341.3 77.8 L341.9 80.7 L342.5 81.7 L343.0 80.7 L343.6 77.9 L344.1 73.8 L344.7 69.3 L345.3 65.2 L345.8 62.4 L346.4 61.4 L346.9 62.0 L347.4 63.5 L347.9 65.9 L348.4 68.9 L348.9 72.0 L349.4 74.9 L349.9 77.3 L350.4 78.9 L350.9 79.5 L351.5 78.7 L352.0 76.6 L352.6 73.5 L353.2 70.2 L353.7 67.1 L354.3 65.0 L354.9 64.2 L355.4 65.3 L356.0 68.0 L356.5 71.8 L357.1 75.7 L357.7 78.4 L358.2 79.5 L358.7 78.9 L359.2 77.2 L359.7 74.7 L360.2 71.5 L360.7 68.2 L361.2 65.1 L361.7 62.5 L362.2 60.9 L362.7 60.3 L363.2 61.1 L363.7 63.5 L364.2 67.2 L364.7 71.7 L365.2 76.5 L365.7 81.0 L366.2 84.7 L366.7 87.1 L367.2 87.9 L367.8 86.6 L368.3 83.0 L368.8 77.6 L369.4 71.3 L369.9 64.9 L370.5 59.5 L371.0 55.9 L371.5 54.7 L372.1 55.9 L372.6 59.4 L373.1 64.8 L373.7 71.0 L374.2 77.3 L374.7 82.6 L375.3 86.1 L375.8 87.3 L376.4 85.9 L376.9 81.9 L377.5 76.2 L378.0 69.8 L378.6 64.0 L379.1 60.0 L379.6 58.6 L380.2 59.5 L380.7 62.0 L381.3 65.7 L381.8 70.2 L382.3 74.6 L382.9 78.3 L383.4 80.8 L383.9 81.7 L384.4 81.3 L384.9 80.0 L385.4 78.0 L385.9 75.7 L386.4 73.1 L386.9 70.7 L387.4 68.8 L387.9 67.5 L388.4 67.1 L389.0 67.5 L389.6 68.8 L390.1 70.6 L390.7 72.6 L391.3 74.4 L391.8 75.6 L392.4 76.1 L393.0 75.7 L393.5 74.7 L394.1 73.2 L394.6 71.6 L395.2 70.1 L395.8 69.1 L396.3 68.8 L396.9 69.3 L397.5 71.0 L398.0 73.4 L398.6 76.0 L399.2 78.4 L399.7 80.0 L400.3 80.6 L400.8 80.0 L401.4 78.1 L401.9 75.4 L402.4 72.0 L403.0 68.3 L403.5 64.9 L404.1 62.2 L404.6 60.4 L405.1 59.7 L405.7 60.6 L406.2 63.3 L406.8 67.3 L407.3 72.3 L407.9 77.6 L408.4 82.6 L409.0 86.6 L409.5 89.3 L410.1 90.2 L410.7 87.5 L411.3 80.6 L411.8 72.1 L412.4 65.2 L413.0 62.5 L413.6 63.1 L414.1 64.7 L414.7 66.9 L415.3 69.4 L415.8 71.7 L416.4 73.3 L416.9 73.8 L417.5 73.4 L418.1 72.3 L418.6 70.7 L419.2 69.2 L419.8 68.0 L420.3 67.6 L420.8 68.2 L421.3 69.9 L421.8 72.6 L422.3 75.8 L422.8 79.2 L423.3 82.4 L423.8 85.0 L424.3 86.8 L424.8 87.3 L425.3 86.3 L425.8 83.4 L426.3 78.9 L426.8 73.4 L427.3 67.5 L427.8 62.0 L428.3 57.5 L428.8 54.5 L429.4 53.5 L429.9 54.4 L430.4 57.1 L430.9 61.2 L431.4 66.4 L431.9 72.1 L432.4 77.9 L432.9 83.1 L433.4 87.2 L433.9 89.8 L434.4 90.7 L434.9 89.9 L435.4 87.6 L435.9 83.9 L436.4 79.2 L437.0 74.1 L437.5 69.0 L438.0 64.3 L438.5 60.6 L439.0 58.3 L439.5 57.5 L440.0 58.3 L440.6 60.6 L441.1 64.1 L441.6 68.4 L442.2 73.0 L442.7 77.3 L443.3 80.9 L443.8 83.2 L444.3 84.0 L444.8 83.2 L445.3 81.0 L445.8 77.6 L446.3 73.5 L446.8 69.1 L447.3 64.9 L447.8 61.6 L448.3 59.4 L448.9 58.6 L449.4 59.8 L449.9 63.1 L450.4 68.2 L450.9 74.1 L451.5 80.0 L452.0 85.1 L452.5 88.4 L453.0 89.6 L453.6 87.7 L454.1 82.4 L454.7 74.7 L455.3 66.2 L455.8 58.5 L456.4 53.2 L457.0 51.3 L457.5 52.4 L458.0 55.8 L458.5 60.9 L459.1 67.1 L459.6 73.8 L460.1 80.0 L460.6 85.1 L461.2 88.5 L461.7 89.6 L462.2 88.3 L462.7 84.5 L463.2 78.8 L463.7 72.1 L464.2 65.4 L464.7 59.8 L465.3 56.0 L465.8 54.7 L466.3 55.9 L466.9 59.4 L467.4 64.8 L468.0 71.0 L468.5 77.3 L469.1 82.6 L469.6 86.1 L470.2 87.3 L470.7 86.6 L471.2 84.4 L471.8 81.1 L472.3 77.1 L472.9 72.8 L473.4 68.8 L473.9 65.5 L474.5 63.3 L475.0 62.5 L475.6 62.8 L476.2 63.4 L476.8 64.0 L477.4 64.2" stroke="#f00" stroke-width="1.1" stroke-dasharray="1.5 0.5"/>
<path d="M30.3 87.3 L30.8 86.4 L31.3 83.7 L31.8 79.6 L32.3 74.3 L32.8 68.5 L33.3 62.6 L33.8 57.4 L34.3 53.2 L34.8 50.5 L35.3 49.6 L35.9 51.9 L36.4 58.5 L36.9 68.0 L37.5 78.5 L38.0 88.0 L38.5 94.6 L39.0 96.9 L39.6 95.6 L40.1 91.9 L40.6 86.1 L41.1 79.0 L41.6 71.5 L42.1 64.4 L42.6 58.6 L43.1 54.8 L43.6 53.5 L44.1 54.8 L44.7 58.3 L45.2 63.4 L45.7 69.0 L46.3 74.1 L46.8 77.6 L47.4 78.9 L48.0 77.3 L48.5 73.5 L49.1 69.7 L49.6 68.2 L50.2 68.9 L50.7 70.8 L51.2 73.7 L51.8 76.8 L52.3 79.6 L52.8 81.6 L53.4 82.3 L53.9 81.3 L54.4 78.5 L54.9 74.3 L55.5 69.3 L56.0 64.4 L56.5 60.1 L57.0 57.3 L57.5 56.4 L58.0 57.4 L58.6 60.6 L59.1 65.2 L59.6 70.7 L60.1 76.2 L60.6 80.9 L61.1 84.0 L61.6 85.1 L62.2 84.5 L62.7 82.7 L63.3 79.9 L63.8 76.5 L64.4 72.9 L64.9 69.5 L65.5 66.7 L66.0 64.9 L66.6 64.2 L67.1 64.7 L67.6 66.0 L68.2 67.9 L68.7 70.3 L69.2 72.8 L69.8 75.2 L70.3 77.2 L70.9 78.5 L71.4 78.9 L71.9 78.6 L72.5 77.7 L73.0 76.3 L73.6 74.5 L74.1 72.5 L74.7 70.3 L75.2 68.3 L75.7 66.5 L76.3 65.1 L76.8 64.2 L77.4 63.9 L77.9 64.0 L78.4 64.3 L78.9 64.7 L79.4 65.3 L79.9 66.1 L80.4 67.0 L80.9 68.0 L81.4 69.1 L81.9 70.2 L82.4 71.4 L83.0 72.6 L83.5 73.7 L84.0 74.8 L84.5 75.8 L85.0 76.7 L85.5 77.5 L86.0 78.1 L86.5 78.5 L87.0 78.8 L87.5 78.9 L88.1 78.1 L88.6 75.7 L89.2 72.3 L89.8 68.6 L90.3 65.2 L90.9 62.8 L91.5 62.0 L92.0 63.1 L92.6 66.3 L93.1 71.0 L93.7 76.1 L94.3 80.7 L94.8 84.0 L95.4 85.1 L96.0 83.7 L96.5 79.8 L97.1 74.1 L97.7 67.9 L98.2 62.2 L98.8 58.3 L99.3 56.9 L99.9 58.2 L100.5 61.9 L101.0 67.2 L101.6 73.1 L102.2 78.4 L102.7 82.1 L103.3 83.4 L103.8 82.8 L104.3 81.2 L104.8 78.6 L105.3 75.5 L105.8 72.2 L106.3 69.0 L106.8 66.5 L107.3 64.8 L107.8 64.2 L108.3 64.5 L108.8 65.2 L109.3 66.4 L109.9 67.9 L110.4 69.7 L110.9 71.6 L111.4 73.5 L111.9 75.2 L112.5 76.8 L113.0 77.9 L113.5 78.7 L114.0 78.9 L114.5 78.5 L115.1 77.3 L115.6 75.5 L116.2 73.3 L116.7 71.0 L117.2 68.8 L117.8 67.0 L118.3 65.8 L118.8 65.4 L119.4 65.7 L119.9 66.6 L120.4 68.0 L120.9 69.6 L121.5 71.2 L122.0 72.6 L122.5 73.5 L123.0 73.8 L123.5 73.7 L124.1 73.4 L124.6 72.8 L125.1 72.1 L125.6 71.3 L126.1 70.4 L126.6 69.6 L127.2 68.8 L127.7 68.0 L128.2 67.5 L128.7 67.2 L129.2 67.1 L129.7 67.4 L130.2 68.3 L130.7 69.7 L131.3 71.5 L131.8 73.5 L132.3 75.5 L132.8 77.3 L133.3 78.8 L133.8 79.7 L134.3 80.0 L134.8 79.2 L135.4 77.0 L135.9 73.9 L136.4 70.4 L136.9 67.2 L137.5 65.0 L138.0 64.2 L138.5 64.7 L139.0 66.1 L139.5 68.2 L140.0 70.8 L140.5 73.5 L141.0 76.1 L141.5 78.2 L142.0 79.5 L142.5 80.0 L143.0 79.6 L143.5 78.6 L144.0 76.9 L144.5 74.8 L145.0 72.4 L145.6 70.1 L146.1 67.9 L146.6 66.3 L147.1 65.2 L147.6 64.8 L148.1 65.1 L148.6 66.0 L149.1 67.3 L149.6 69.1 L150.1 71.1 L150.7 73.2 L151.2 75.2 L151.7 76.9 L152.2 78.3 L152.7 79.2 L153.2 79.5 L153.7 79.0 L154.2 77.8 L154.7 75.9 L155.2 73.4 L155.8 70.7 L156.3 68.0 L156.8 65.6 L157.3 63.6 L157.8 62.4 L158.3 62.0 L158.8 62.6 L159.3 64.2 L159.9 66.8 L160.4 69.9 L160.9 73.2 L161.4 76.4 L162.0 78.9 L162.5 80.6 L163.0 81.2 L163.6 80.7 L164.1 79.4 L164.6 77.3 L165.2 74.9 L165.7 72.2 L166.3 69.7 L166.8 67.7 L167.3 66.4 L167.9 65.9 L168.4 66.4 L168.9 67.6 L169.4 69.5 L169.9 71.8 L170.4 74.2 L170.9 76.5 L171.4 78.4 L171.9 79.6 L172.4 80.0 L172.9 79.3 L173.4 77.4 L173.9 74.4 L174.4 70.7 L174.9 66.8 L175.4 63.1 L175.9 60.1 L176.4 58.1 L176.9 57.5 L177.4 58.7 L177.9 62.2 L178.5 67.4 L179.0 73.5 L179.5 79.7 L180.0 84.9 L180.5 88.4 L181.1 89.6 L181.6 88.5 L182.1 85.4 L182.6 80.6 L183.1 74.7 L183.6 68.4 L184.1 62.6 L184.6 57.8 L185.1 54.6 L185.6 53.5 L186.1 54.7 L186.7 58.2 L187.2 63.3 L187.7 69.3 L188.3 75.4 L188.8 80.5 L189.3 83.9 L189.9 85.1 L190.4 83.9 L190.9 80.7 L191.4 76.4 L192.0 72.0 L192.5 68.8 L193.0 67.6 L193.6 67.8 L194.1 68.3 L194.7 68.9 L195.3 69.7 L195.8 70.4 L196.4 70.8 L196.9 71.0 L197.5 70.9 L198.1 70.6 L198.6 70.3 L199.2 69.9 L199.8 69.6 L200.3 69.5 L200.8 69.7 L201.4 70.2 L201.9 70.9 L202.4 71.9 L202.9 73.0 L203.4 74.2 L203.9 75.4 L204.5 76.6 L205.0 77.5 L205.5 78.3 L206.0 78.7 L206.5 78.9 L207.1 78.0 L207.6 75.4 L208.1 71.4 L208.7 66.8 L209.2 62.1 L209.7 58.2 L210.3 55.6 L210.8 54.7 L211.3 56.2 L211.9 60.8 L212.4 67.5 L212.9 75.5 L213.4 83.5 L213.9 90.3 L214.5 94.8 L215.0 96.4 L215.5 94.0 L216.1 87.2 L216.7 77.5 L217.2 66.7 L217.8 57.0 L218.4 50.3 L218.9 47.9 L219.5 50.1 L220.1 56.3 L220.6 65.2 L221.2 75.1 L221.8 84.0 L222.3 90.2 L222.9 92.4 L223.4 90.7 L223.9 85.7 L224.5 78.6 L225.0 70.7 L225.5 63.6 L226.1 58.7 L226.6 56.9 L227.1 57.7 L227.6 60.1 L228.2 63.7 L228.7 67.9 L229.2 72.1 L229.7 75.7 L230.2 78.1 L230.8 78.9 L231.3 78.0 L231.9 75.7 L232.5 72.4 L233.0 69.2 L233.6 66.8 L234.2 65.9 L234.7 66.8 L235.3 69.3 L235.8 72.7 L236.4 76.1 L237.0 78.6 L237.5 79.5 L238.1 78.2 L238.7 74.8 L239.2 70.2 L239.8 65.5 L240.3 62.1 L240.9 60.9 L241.4 61.9 L242.0 64.7 L242.5 68.7 L243.0 73.3 L243.6 77.3 L244.1 80.1 L244.6 81.2 L245.2 80.2 L245.8 77.5 L246.3 73.8 L246.9 70.2 L247.4 67.5 L248.0 66.5 L248.6 67.0 L249.1 68.3 L249.7 70.2 L250.3 72.0 L250.8 73.3 L251.4 73.8 L251.9 73.2 L252.5 71.7 L253.1 69.8 L253.6 68.2 L254.2 67.6 L254.7 67.9 L255.2 68.9 L255.7 70.3 L256.2 72.0 L256.7 73.9 L257.2 75.7 L257.7 77.1 L258.2 78.0 L258.7 78.3 L259.3 77.3 L259.8 74.7 L260.4 71.0 L261.0 67.3 L261.5 64.7 L262.1 63.7 L262.7 64.4 L263.2 66.4 L263.8 69.4 L264.3 72.6 L264.9 75.6 L265.5 77.6 L266.0 78.3 L266.6 77.5 L267.2 75.1 L267.7 71.9 L268.3 68.6 L268.9 66.2 L269.4 65.4 L270.0 66.0 L270.5 67.9 L271.1 70.6 L271.7 73.6 L272.2 76.4 L272.8 78.2 L273.4 78.9 L273.9 78.1 L274.4 75.8 L275.0 72.5 L275.5 68.9 L276.0 65.6 L276.6 63.4 L277.1 62.5 L277.6 63.4 L278.1 65.9 L278.7 69.5 L279.2 73.8 L279.7 78.1 L280.2 81.8 L280.7 84.2 L281.3 85.1 L281.8 83.7 L282.4 79.7 L282.9 73.9 L283.5 67.5 L284.1 61.8 L284.6 57.8 L285.2 56.4 L285.7 57.2 L286.2 59.7 L286.7 63.5 L287.2 68.2 L287.7 73.2 L288.2 77.9 L288.7 81.7 L289.2 84.2 L289.7 85.1 L290.2 84.1 L290.8 81.4 L291.3 77.3 L291.9 72.4 L292.4 67.6 L292.9 63.4 L293.5 60.7 L294.0 59.7 L294.5 60.3 L295.1 61.9 L295.6 64.4 L296.1 67.5 L296.6 71.0 L297.2 74.5 L297.7 77.6 L298.2 80.1 L298.8 81.7 L299.3 82.3 L299.8 81.3 L300.4 78.6 L300.9 74.6 L301.4 70.2 L301.9 66.3 L302.5 63.5 L303.0 62.5 L303.5 63.1 L304.0 64.5 L304.5 66.8 L305.0 69.8 L305.5 73.0 L306.0 76.2 L306.5 79.1 L307.1 81.4 L307.6 82.9 L308.1 83.4 L308.6 82.6 L309.1 80.4 L309.7 77.1 L310.2 72.9 L310.8 68.5 L311.3 64.4 L311.8 61.0 L312.4 58.8 L312.9 58.0 L313.4 59.1 L314.0 62.0 L314.5 66.4 L315.0 71.6 L315.5 76.7 L316.0 81.1 L316.6 84.1 L317.1 85.1 L317.7 83.9 L318.2 80.6 L318.8 75.9 L319.3 70.6 L319.9 65.9 L320.5 62.6 L321.0 61.4 L321.5 61.9 L322.0 63.5 L322.5 65.8 L323.0 68.6 L323.5 71.7 L324.0 74.5 L324.5 76.9 L325.0 78.4 L325.6 78.9 L326.1 78.4 L326.6 77.0 L327.1 74.8 L327.6 72.1 L328.1 69.3 L328.6 66.6 L329.1 64.5 L329.6 63.0 L330.1 62.5 L330.6 63.2 L331.1 65.0 L331.6 67.8 L332.1 71.2 L332.6 74.8 L333.1 78.2 L333.6 81.0 L334.1 82.8 L334.6 83.4 L335.1 82.3 L335.7 79.0 L336.3 74.4 L336.8 69.3 L337.4 64.6 L337.9 61.4 L338.5 60.3 L339.0 60.8 L339.5 62.3 L340.0 64.5 L340.5 67.3 L341.0 70.2 L341.5 73.0 L342.0 75.2 L342.5 76.7 L343.0 77.2 L343.5 76.9 L344.1 76.0 L344.6 74.5 L345.1 72.5 L345.6 70.3 L346.1 67.9 L346.6 65.5 L347.2 63.2 L347.7 61.3 L348.2 59.8 L348.7 58.9 L349.2 58.6 L349.7 59.3 L350.2 61.3 L350.7 64.4 L351.3 68.3 L351.8 72.7 L352.3 77.1 L352.8 81.0 L353.3 84.1 L353.8 86.1 L354.3 86.8 L354.8 85.7 L355.4 82.4 L355.9 77.6 L356.4 71.9 L357.0 66.1 L357.5 61.3 L358.0 58.0 L358.6 56.9 L359.1 57.7 L359.6 59.9 L360.1 63.3 L360.6 67.4 L361.1 71.8 L361.6 75.9 L362.1 79.3 L362.6 81.5 L363.1 82.3 L363.6 81.9 L364.1 80.8 L364.6 79.0 L365.1 76.7 L365.6 74.1 L366.1 71.3 L366.7 68.7 L367.2 66.4 L367.7 64.6 L368.2 63.5 L368.7 63.1 L369.3 63.9 L369.8 66.2 L370.4 69.5 L371.0 73.1 L371.5 76.4 L372.1 78.7 L372.7 79.5 L373.2 79.1 L373.7 77.9 L374.3 76.1 L374.8 73.8 L375.4 71.3 L375.9 68.8 L376.4 66.5 L377.0 64.7 L377.5 63.5 L378.1 63.1 L378.6 63.7 L379.1 65.4 L379.6 68.0 L380.2 71.0 L380.7 74.0 L381.2 76.6 L381.7 78.3 L382.2 78.9 L382.7 78.5 L383.2 77.3 L383.7 75.5 L384.2 73.3 L384.7 71.0 L385.2 68.8 L385.7 67.0 L386.2 65.8 L386.8 65.4 L387.3 65.6 L387.8 66.4 L388.3 67.7 L388.8 69.3 L389.3 71.0 L389.8 72.7 L390.3 74.3 L390.8 75.6 L391.3 76.4 L391.8 76.6 L392.3 76.3 L392.8 75.4 L393.3 74.0 L393.9 72.2 L394.4 70.2 L394.9 68.2 L395.4 66.4 L395.9 64.9 L396.4 64.0 L396.9 63.7 L397.4 64.3 L397.9 66.2 L398.4 69.0 L398.9 72.5 L399.4 76.2 L399.9 79.7 L400.4 82.6 L400.9 84.5 L401.4 85.1 L401.9 83.9 L402.4 80.6 L403.0 75.7 L403.5 69.9 L404.0 64.1 L404.5 59.1 L405.1 55.8 L405.6 54.7 L406.1 56.0 L406.6 59.8 L407.2 65.4 L407.7 72.1 L408.3 78.8 L408.8 84.5 L409.3 88.3 L409.9 89.6 L410.4 87.3 L410.9 81.2 L411.4 72.7 L412.0 64.2 L412.5 58.0 L413.0 55.8 L413.6 57.2 L414.1 61.1 L414.7 66.7 L415.3 73.0 L415.8 78.7 L416.4 82.6 L416.9 84.0 L417.5 82.8 L418.1 79.4 L418.6 74.5 L419.2 69.2 L419.8 64.3 L420.3 60.9 L420.9 59.7 L421.5 61.4 L422.0 65.9 L422.6 72.1 L423.1 78.3 L423.7 82.9 L424.3 84.5 L424.8 83.2 L425.4 79.3 L426.0 73.8 L426.5 67.6 L427.1 62.1 L427.7 58.3 L428.2 56.9 L428.7 57.9 L429.3 60.8 L429.8 65.1 L430.3 70.2 L430.8 75.2 L431.3 79.5 L431.9 82.4 L432.4 83.4 L432.9 82.8 L433.5 81.0 L434.0 78.4 L434.5 75.2 L435.1 72.1 L435.6 69.5 L436.1 67.7 L436.7 67.1 L437.2 67.7 L437.8 69.2 L438.4 71.1 L438.9 72.7 L439.5 73.3 L440.1 72.8 L440.6 71.6 L441.2 69.9 L441.8 68.2 L442.3 66.9 L442.9 66.5 L443.4 66.8 L443.9 67.6 L444.4 68.8 L444.9 70.4 L445.4 72.1 L445.9 73.9 L446.4 75.4 L446.9 76.7 L447.4 77.5 L447.9 77.8 L448.5 77.3 L449.0 76.0 L449.5 74.0 L450.0 71.5 L450.5 68.8 L451.0 66.4 L451.5 64.3 L452.0 63.0 L452.5 62.5 L453.0 63.4 L453.6 65.6 L454.1 68.8 L454.7 71.8 L455.3 74.1 L455.8 75.0 L456.4 74.7 L457.0 74.1 L457.5 73.5 L458.1 73.3 L458.7 73.6 L459.2 74.4 L459.8 75.5 L460.4 76.6 L460.9 77.5 L461.5 77.8 L462.0 76.8 L462.6 73.9 L463.2 69.9 L463.7 65.4 L464.3 61.3 L464.9 58.5 L465.4 57.5 L466.0 58.8 L466.5 62.4 L467.0 67.9 L467.6 74.4 L468.1 80.9 L468.6 86.3 L469.2 90.0 L469.7 91.3 L470.3 89.5 L470.8 84.5 L471.4 77.3 L472.0 69.2 L472.5 62.0 L473.1 57.0 L473.7 55.2 L474.2 56.4 L474.7 59.8 L475.3 64.6 L475.8 70.0 L476.3 74.9 L476.9 78.3 L477.4 79.5" stroke="#00f" stroke-width="1.1" opacity="0.45"/>
<path d="M30.3 87.3 L30.8 86.4 L31.3 83.7 L31.8 79.6 L32.3 74.3 L32.8 68.5 L33.3 62.6 L33.8 57.4 L34.3 53.2 L34.8 50.5 L35.3 49.6 L35.9 51.9 L36.4 58.5 L36.9 68.0 L37.5 78.5 L38.0 88.0 L38.5 94.6 L39.0 96.9 L39.6 95.6 L40.1 91.9 L40.6 86.1 L41.1 79.0 L41.6 71.5 L42.1 64.4 L42.6 58.6 L43.1 54.8 L43.6 53.5 L44.1 54.8 L44.7 58.3 L45.2 63.4 L45.7 69.0 L46.3 74.1 L46.8 77.6 L47.4 78.9 L48.0 77.3 L48.5 73.5 L49.1 69.7 L49.6 68.2 L50.2 68.9 L50.7 70.8 L51.2 73.7 L51.8 76.8 L52.3 79.6 L52.8 81.6 L53.4 82.3 L53.9 81.3 L54.4 78.5 L54.9 74.3 L55.5 69.3 L56.0 64.4 L56.5 60.1 L57.0 57.3 L57.5 56.4 L58.0 57.4 L58.6 60.6 L59.1 65.2 L59.6 70.7 L60.1 76.2 L60.6 80.9 L61.1 84.0 L61.6 85.1 L62.2 84.5 L62.7 82.7 L63.3 79.9 L63.8 76.5 L64.4 72.9 L64.9 69.5 L65.5 66.7 L66.0 64.9 L66.6 64.2 L67.1 64.7 L67.6 66.0 L68.2 67.9 L68.7 70.3 L69.2 72.8 L69.8 75.2 L70.3 77.2 L70.9 78.5 L71.4 78.9 L71.9 78.6 L72.5 77.7 L73.0 76.3 L73.6 74.5 L74.1 72.5 L74.7 70.3 L75.2 68.3 L75.7 66.5 L76.3 65.1 L76.8 64.2 L77.4 63.9 L77.9 64.0 L78.4 64.3 L78.9 64.7 L79.4 65.3 L79.9 66.1 L80.4 67.0 L80.9 68.0 L81.4 69.1 L81.9 70.2 L82.4 71.4 L83.0 72.6 L83.5 73.7 L84.0 74.8 L84.5 75.8 L85.0 76.7 L85.5 77.5 L86.0 78.1 L86.5 78.5 L87.0 78.8 L87.5 78.9 L88.1 78.1 L88.6 75.7 L89.2 72.3 L89.8 68.6 L90.3 65.2 L90.9 62.8 L91.5 62.0 L92.0 63.1 L92.6 66.3 L93.1 71.0 L93.7 76.1 L94.3 80.7 L94.8 84.0 L95.4 85.1 L96.0 83.7 L96.5 79.8 L97.1 74.1 L97.7 67.9 L98.2 62.2 L98.8 58.3 L99.3 56.9 L99.9 58.2 L100.5 61.9 L101.0 67.2 L101.6 73.1 L102.2 78.4 L102.7 82.1 L103.3 83.4 L103.8 82.8 L104.3 81.2 L104.8 78.6 L105.3 75.5 L105.8 72.2 L106.3 69.0 L106.8 66.5 L107.3 64.8 L107.8 64.2 L108.3 64.5 L108.8 65.2 L109.3 66.4 L109.9 67.9 L110.4 69.7 L110.9 71.6 L111.4 73.5 L111.9 75.2 L112.5 76.8 L113.0 77.9 L113.5 78.7 L114.0 78.9 L114.5 78.5 L115.1 77.3 L115.6 75.5 L116.2 73.3 L116.7 71.0 L117.2 68.8 L117.8 67.0 L118.3 65.8 L118.8 65.4 L119.4 65.7 L119.9 66.6 L120.4 68.0 L120.9 69.6 L121.5 71.2 L122.0 72.6 L122.5 73.5 L123.0 73.8 L123.5 73.7 L124.1 73.4 L124.6 72.8 L125.1 72.1 L125.6 71.3 L126.1 70.4 L126.6 69.6 L127.2 68.8 L127.7 68.0 L128.2 67.5 L128.7 67.2 L129.2 67.1 L129.7 67.4 L130.2 68.3 L130.7 69.7 L131.3 71.5 L131.8 73.5 L132.3 75.5 L132.8 77.3 L133.3 78.8 L133.8 79.7 L134.3 80.0 L134.8 79.2 L135.4 77.0 L135.9 73.9 L136.4 70.4 L136.9 67.2 L137.5 65.0 L138.0 64.2 L138.5 64.7 L139.0 66.1 L139.5 68.2 L140.0 70.8 L140.5 73.5 L141.0 76.1 L141.5 78.2 L142.0 79.5 L142.5 80.0 L143.0 79.6 L143.5 78.6 L144.0 76.9 L144.5 74.8 L145.0 72.4 L145.6 70.1 L146.1 67.9 L146.6 66.3 L147.1 65.2 L147.6 64.8 L148.1 65.1 L148.6 66.0 L149.1 67.3 L149.6 69.1 L150.1 71.1 L150.7 73.2 L151.2 75.2 L151.7 76.9 L152.2 78.3 L152.7 79.2 L153.2 79.5 L153.7 79.0 L154.2 77.8 L154.7 75.9 L155.2 73.4 L155.8 70.7 L156.3 68.0 L156.8 65.6 L157.3 63.6 L157.8 62.4 L158.3 62.0 L158.8 62.6 L159.3 64.2 L159.9 66.8 L160.4 69.9 L160.9 73.2 L161.4 76.4 L162.0 78.9 L162.5 80.6 L163.0 81.2 L163.6 80.7 L164.1 79.4 L164.6 77.3 L165.2 74.9 L165.7 72.2 L166.3 69.7 L166.8 67.7 L167.3 66.4 L167.9 65.9 L168.4 66.4 L168.9 67.6 L169.4 69.5 L169.9 71.8 L170.4 74.2 L170.9 76.5 L171.4 78.4 L171.9 79.6 L172.4 80.0 L172.9 79.3 L173.4 77.4 L173.9 74.4 L174.4 70.7 L174.9 66.8 L175.4 63.1 L175.9 60.1 L176.4 58.1 L176.9 57.5 L177.4 58.7 L177.9 62.2 L178.5 67.4 L179.0 73.5 L179.5 79.7 L180.0 84.9 L180.5 88.4 L181.1 89.6 L181.6 88.5 L182.1 85.4 L182.6 80.6 L183.1 74.7 L183.6 68.4 L184.1 62.6 L184.6 57.8 L185.1 54.6 L185.6 53.5 L186.1 54.7 L186.7 58.2 L187.2 63.3 L187.7 69.3 L188.3 75.4 L188.8 80.5 L189.3 83.9 L189.9 85.1 L190.4 83.9 L190.9 80.7 L191.4 76.4 L192.0 72.0 L192.5 68.8 L193.0 67.6 L193.6 67.8 L194.1 68.3 L194.7 68.9 L195.3 69.7 L195.8 70.4 L196.4 70.8 L196.9 71.0 L197.5 70.9 L198.1 70.6 L198.6 70.3 L199.2 69.9 L199.8 69.6 L200.3 69.5 L200.8 69.7 L201.4 70.2 L201.9 70.9 L202.4 71.9 L202.9 73.0 L203.4 74.2 L203.9 75.4 L204.5 76.6 L205.0 77.5 L205.5 78.3 L206.0 78.7 L206.5 78.9 L207.1 78.0 L207.6 75.4 L208.1 71.4 L208.7 66.8 L209.2 62.1 L209.7 58.2 L210.3 55.6 L210.8 54.7 L211.3 56.2 L211.9 60.8 L212.4 67.5 L212.9 75.5 L213.4 83.5 L213.9 90.3 L214.5 94.8 L215.0 96.4 L215.5 94.0 L216.1 87.2 L216.7 77.5 L217.2 66.7 L217.8 57.0 L218.4 50.3 L218.9 47.9 L219.5 50.1 L220.1 56.3 L220.6 65.2 L221.2 75.1 L221.8 84.0 L222.3 90.2 L222.9 92.4 L223.4 90.7 L223.9 85.7 L224.5 78.6 L225.0 70.7 L225.5 63.6 L226.1 58.7 L226.6 56.9 L227.1 57.7 L227.6 60.1 L228.2 63.7 L228.7 67.9 L229.2 72.1 L229.7 75.7 L230.2 78.1 L230.8 78.9 L231.3 78.0 L231.9 75.7 L232.5 72.4 L233.0 69.2 L233.6 66.8 L234.2 65.9 L234.7 66.8 L235.3 69.3 L235.8 72.7 L236.4 76.1 L237.0 78.6 L237.5 79.5 L238.1 78.2 L238.7 74.8 L239.2 70.2 L239.8 65.5 L240.3 62.1 L240.9 60.9 L241.4 61.9 L242.0 64.7 L242.5 68.7 L243.0 73.3 L243.6 77.3 L244.1 80.1 L244.6 81.2 L245.2 80.2 L245.8 77.5 L246.3 73.8 L246.9 70.2 L247.4 67.5 L248.0 66.5 L248.6 67.0 L249.1 68.3 L249.7 70.2 L250.3 72.0 L250.8 73.3 L251.4 73.8 L251.9 73.2 L252.5 71.7 L253.1 69.8 L253.6 68.2 L254.2 67.6 L254.7 67.9 L255.2 68.9 L255.7 70.3 L256.2 72.0 L256.7 73.9 L257.2 75.7 L257.7 77.1 L258.2 78.0 L258.7 78.3 L259.3 77.3 L259.8 74.7 L260.4 71.0 L261.0 67.3 L261.5 64.7 L262.1 63.7 L262.7 64.4 L263.2 66.4 L263.8 69.4 L264.3 72.6 L264.9 75.6 L265.5 77.6 L266.0 78.3 L266.6 77.5 L267.2 75.1 L267.7 71.9 L268.3 68.6 L268.9 66.2 L269.4 65.4 L270.0 66.0 L270.5 67.9 L271.1 70.6 L271.7 73.6 L272.2 76.4 L272.8 78.2 L273.4 78.9 L273.9 78.1 L274.4 75.8 L275.0 72.5 L275.5 68.9 L276.0 65.6 L276.6 63.4 L277.1 62.5 L277.6 63.4 L278.1 65.9 L278.7 69.5 L279.2 73.8 L279.7 78.1 L280.2 81.8 L280.7 84.2 L281.3 85.1 L281.8 83.7 L282.4 79.7 L282.9 73.9 L283.5 67.5 L284.1 61.8 L284.6 57.8 L285.2 56.4 L285.7 57.2 L286.2 59.7 L286.7 63.5 L287.2 68.2 L287.7 73.2 L288.2 77.9 L288.7 81.7 L289.2 84.2 L289.7 85.1 L290.2 84.1 L290.8 81.4 L291.3 77.3 L291.9 72.4 L292.4 67.6 L292.9 63.4 L293.5 60.7 L294.0 59.7 L294.5 60.3 L295.1 61.9 L295.6 64.4 L296.1 67.5 L296.6 71.0 L297.2 74.5 L297.7 77.6 L298.2 80.1 L298.8 81.7 L299.3 82.3 L299.8 81.3 L300.4 78.6 L300.9 74.6 L301.4 70.2 L301.9 66.3 L302.5 63.5 L303.0 62.5 L303.5 63.1 L304.0 64.5 L304.5 66.8 L305.0 69.8 L305.5 73.0 L306.0 76.2 L306.5 79.1 L307.1 81.4 L307.6 82.9 L308.1 83.4 L308.6 82.6 L309.1 80.4 L309.7 77.1 L310.2 72.9 L310.8 68.5 L311.3 64.4 L311.8 61.0 L312.4 58.8 L312.9 58.0 L313.4 59.1 L314.0 62.0 L314.5 66.4 L315.0 71.6 L315.5 76.7 L316.0 81.1 L316.6 84.1 L317.1 85.1 L317.7 83.9 L318.2 80.6 L318.8 75.9 L319.3 70.6 L319.9 65.9 L320.5 62.6 L321.0 61.4 L321.5 61.9 L322.0 63.5 L322.5 65.8 L323.0 68.6 L323.5 71.7 L324.0 74.5 L324.5 76.9 L325.0 78.4 L325.6 78.9 L326.1 78.4 L326.6 77.0 L327.1 74.8 L327.6 72.1 L328.1 69.3 L328.6 66.6 L329.1 64.5 L329.6 63.0 L330.1 62.5 L330.6 63.2 L331.1 65.0 L331.6 67.8 L332.1 71.2 L332.6 74.8 L333.1 78.2 L333.6 81.0 L334.1 82.8 L334.6 83.4 L335.1 82.3 L335.7 79.0 L336.3 74.4 L336.8 69.3 L337.4 64.6 L337.9 61.4 L338.5 60.3 L339.0 60.8 L339.5 62.3 L340.0 64.5 L340.5 67.3 L341.0 70.2 L341.5 73.0 L342.0 75.2 L342.5 76.7 L343.0 77.2 L343.5 76.9 L344.1 76.0 L344.6 74.5 L345.1 72.5 L345.6 70.3 L346.1 67.9 L346.6 65.5 L347.2 63.2 L347.7 61.3 L348.2 59.8 L348.7 58.9 L349.2 58.6 L349.7 59.3 L350.2 61.3 L350.7 64.4 L351.3 68.3 L351.8 72.7 L352.3 77.1 L352.8 81.0 L353.3 84.1 L353.8 86.1 L354.3 86.8 L354.8 85.7 L355.4 82.4 L355.9 77.6 L356.4 71.9 L357.0 66.1 L357.5 61.3 L358.0 58.0 L358.6 56.9 L359.1 57.7 L359.6 59.9 L360.1 63.3 L360.6 67.4 L361.1 71.8 L361.6 75.9 L362.1 79.3 L362.6 81.5 L363.1 82.3 L363.6 81.9 L364.1 80.8 L364.6 79.0 L365.1 76.7 L365.6 74.1 L366.1 71.3 L366.7 68.7 L367.2 66.4 L367.7 64.6 L368.2 63.5 L368.7 63.1 L369.3 63.9 L369.8 66.2 L370.4 69.5 L371.0 73.1 L371.5 76.4 L372.1 78.7 L372.7 79.5 L373.2 79.1 L373.7 77.9 L374.3 76.1 L374.8 73.8 L375.4 71.3 L375.9 68.8 L376.4 66.5 L377.0 64.7 L377.5 63.5 L378.1 63.1 L378.6 63.7 L379.1 65.4 L379.6 68.0 L380.2 71.0 L380.7 74.0 L381.2 76.6 L381.7 78.3 L382.2 78.9 L382.7 78.5 L383.2 77.3 L383.7 75.5 L384.2 73.3 L384.7 71.0 L385.2 68.8 L385.7 67.0 L386.2 65.8 L386.8 65.4 L387.3 65.6 L387.8 66.4 L388.3 67.7 L388.8 69.3 L389.3 71.0 L389.8 72.7 L390.3 74.3 L390.8 75.6 L391.3 76.4 L391.8 76.6 L392.3 76.3 L392.8 75.4 L393.3 74.0 L393.9 72.2 L394.4 70.2 L394.9 68.2 L395.4 66.4 L395.9 64.9 L396.4 64.0 L396.9 63.7 L397.4 64.3 L397.9 66.2 L398.4 69.0 L398.9 72.5 L399.4 76.2 L399.9 79.7 L400.4 82.6 L400.9 84.5 L401.4 85.1 L401.9 83.9 L402.4 80.6 L403.0 75.7 L403.5 69.9 L404.0 64.1 L404.5 59.1 L405.1 55.8 L405.6 54.7 L406.1 56.0 L406.6 59.8 L407.2 65.4 L407.7 72.1 L408.3 78.8 L408.8 84.5 L409.3 88.3 L409.9 89.6 L410.4 87.3 L410.9 81.2 L411.4 72.7 L412.0 64.2 L412.5 58.0 L413.0 55.8 L413.6 57.2 L414.1 61.1 L414.7 66.7 L415.3 73.0 L415.8 78.7 L416.4 82.6 L416.9 84.0 L417.5 82.8 L418.1 79.4 L418.6 74.5 L419.2 69.2 L419.8 64.3 L420.3 60.9 L420.9 59.7 L421.5 61.4 L422.0 65.9 L422.6 72.1 L423.1 78.3 L423.7 82.9 L424.3 84.5 L424.8 83.2 L425.4 79.3 L426.0 73.8 L426.5 67.6 L427.1 62.1 L427.7 58.3 L428.2 56.9 L428.7 57.9 L429.3 60.8 L429.8 65.1 L430.3 70.2 L430.8 75.2 L431.3 79.5 L431.9 82.4 L432.4 83.4 L432.9 82.8 L433.5 81.0 L434.0 78.4 L434.5 75.2 L435.1 72.1 L435.6 69.5 L436.1 67.7 L436.7 67.1 L437.2 67.7 L437.8 69.2 L438.4 71.1 L438.9 72.7 L439.5 73.3 L440.1 72.8 L440.6 71.6 L441.2 69.9 L441.8 68.2 L442.3 66.9 L442.9 66.5 L443.4 66.8 L443.9 67.6 L444.4 68.8 L444.9 70.4 L445.4 72.1 L445.9 73.9 L446.4 75.4 L446.9 76.7 L447.4 77.5 L447.9 77.8 L448.5 77.3 L449.0 76.0 L449.5 74.0 L450.0 71.5 L450.5 68.8 L451.0 66.4 L451.5 64.3 L452.0 63.0 L452.5 62.5 L453.0 63.4 L453.6 65.6 L454.1 68.8 L454.7 71.8 L455.3 74.1 L455.8 75.0 L456.4 74.7 L457.0 74.1 L457.5 73.5 L458.1 73.3 L458.7 73.6 L459.2 74.4 L459.8 75.5 L460.4 76.6 L460.9 77.5 L461.5 77.8 L462.0 76.8 L462.6 73.9 L463.2 69.9 L463.7 65.4 L464.3 61.3 L464.9 58.5 L465.4 57.5 L466.0 58.8 L466.5 62.4 L467.0 67.9 L467.6 74.4 L468.1 80.9 L468.6 86.3 L469.2 90.0 L469.7 91.3 L470.3 89.5 L470.8 84.5 L471.4 77.3 L472.0 69.2 L472.5 62.0 L473.1 57.0 L473.7 55.2 L474.2 56.4 L474.7 59.8 L475.3 64.6 L475.8 70.0 L476.3 74.9 L476.9 78.3 L477.4 79.5" stroke="#00f" stroke-width="1.1" stroke-dasharray="3.8 1.1"/>
</g>
<path d="M30.3 9.2V133.3H477.4" fill="none" stroke="#333" stroke-width="0.95"/>
<path d="M30.3 9.5H477.4V133.3" fill="none" stroke="#333" stroke-width="0.7"/>
<text x="18.9" y="135.35" class="tk" textLength="7.8" lengthAdjust="spacingAndGlyphs">−4</text>
<text x="18.9" y="119.88" class="tk" textLength="7.8" lengthAdjust="spacingAndGlyphs">−3</text>
<text x="18.9" y="104.4" class="tk" textLength="7.8" lengthAdjust="spacingAndGlyphs">−2</text>
<text x="18.9" y="88.92" class="tk" textLength="7.8" lengthAdjust="spacingAndGlyphs">−1</text>
<text x="22.6" y="73.45" class="tk" textLength="4.1" lengthAdjust="spacingAndGlyphs">0</text>
<text x="22.6" y="57.98" class="tk" textLength="4.1" lengthAdjust="spacingAndGlyphs">1</text>
<text x="22.6" y="42.5" class="tk" textLength="4.1" lengthAdjust="spacingAndGlyphs">2</text>
<text x="22.6" y="27.02" class="tk" textLength="4.1" lengthAdjust="spacingAndGlyphs">3</text>
<text x="22.6" y="11.55" class="tk" textLength="4.1" lengthAdjust="spacingAndGlyphs">4</text>
<text x="30.3" y="141.2" text-anchor="middle" class="tk" textLength="16.2" lengthAdjust="spacingAndGlyphs">2500</text>
<text x="119.72" y="141.2" text-anchor="middle" class="tk" textLength="16.2" lengthAdjust="spacingAndGlyphs">2600</text>
<text x="209.14" y="141.2" text-anchor="middle" class="tk" textLength="16.2" lengthAdjust="spacingAndGlyphs">2700</text>
<text x="298.56" y="141.2" text-anchor="middle" class="tk" textLength="16.2" lengthAdjust="spacingAndGlyphs">2800</text>
<text x="387.98" y="141.2" text-anchor="middle" class="tk" textLength="16.2" lengthAdjust="spacingAndGlyphs">2900</text>
<text x="477.4" y="141.2" text-anchor="middle" class="tk" textLength="16.2" lengthAdjust="spacingAndGlyphs">3000</text>
<path d="M30.3 133.3 h3.0M30.3 117.83 h3.0M30.3 102.35 h3.0M30.3 86.88 h3.0M30.3 71.4 h3.0M30.3 55.93 h3.0M30.3 40.45 h3.0M30.3 24.97 h3.0M30.3 9.5 h3.0M30.3 125.56 h1.7M30.3 110.09 h1.7M30.3 94.61 h1.7M30.3 79.14 h1.7M30.3 63.66 h1.7M30.3 48.19 h1.7M30.3 32.71 h1.7M30.3 17.24 h1.7M30.3 133.3 v-2.6M75.01 133.3 v-1.6M119.72 133.3 v-2.6M164.43 133.3 v-1.6M209.14 133.3 v-2.6M253.85 133.3 v-1.6M298.56 133.3 v-2.6M343.27 133.3 v-1.6M387.98 133.3 v-2.6M432.69 133.3 v-1.6M477.4 133.3 v-2.6" stroke="#333" stroke-width="0.7" fill="none"/>
<text x="249.95" y="147.9" class="al" textLength="8.6" lengthAdjust="spacingAndGlyphs">t/s</text>
<text transform="translate(13.7 71.2) rotate(-90) scale(1 1.25)" text-anchor="middle" class="al">ξ<tspan dy="1.3" font-size="4.6px">3</tspan><tspan dy="-1.3">/m</tspan></text>
<rect x="376.4" y="9.5" width="101" height="24.2" fill="#fff" stroke="#333" stroke-width="0.9"/>
<path d="M377.1 13.5 H396" stroke="#111" stroke-width="0.8"/>
<text x="400.3" y="16" class="lg" font-size="7.2px" textLength="48.3" lengthAdjust="spacingAndGlyphs">ITTC spectra</text>
<path d="M377.1 21.4 H396" stroke="#f00" stroke-width="0.8" stroke-dasharray="3.97 4.91 3.97 4.82 1.23 30"/>
<text x="400.3" y="23.9" class="lg" font-size="7.2px" textLength="70.2" lengthAdjust="spacingAndGlyphs">JONSWAP spectra</text>
<path d="M377.1 29.5 H396" stroke="#00f" stroke-width="0.8" stroke-dasharray="3.97 4.91 3.97 4.82 1.23 30"/>
<text x="400.3" y="32" class="lg" font-size="7.2px" textLength="75.7" lengthAdjust="spacingAndGlyphs">Ochi-Hubble spectra</text>
<text x="237.45" y="169.6" class="cap" textLength="14.9" lengthAdjust="spacingAndGlyphs">(a)</text>
<g fill="none" stroke-linejoin="round">
<path d="M27.2 258.4 L27.8 258.8 L28.3 259.8 L28.8 261.4 L29.3 263.2 L29.8 265.0 L30.4 266.6 L30.9 267.6 L31.4 268.0 L31.9 267.7 L32.4 267.0 L33.0 265.7 L33.5 264.0 L34.0 261.9 L34.5 259.5 L35.1 256.8 L35.6 253.8 L36.1 250.8 L36.6 247.6 L37.1 244.6 L37.7 241.6 L38.2 238.9 L38.7 236.5 L39.2 234.4 L39.8 232.7 L40.3 231.4 L40.8 230.7 L41.3 230.4 L41.8 232.2 L42.4 237.4 L42.9 245.2 L43.4 254.4 L43.9 263.6 L44.4 271.4 L45.0 276.6 L45.5 278.4 L46.0 276.5 L46.6 271.0 L47.1 263.2 L47.7 254.4 L48.2 246.6 L48.8 241.1 L49.3 239.2 L49.8 240.3 L50.4 243.3 L50.9 247.8 L51.4 253.2 L51.9 258.6 L52.4 263.1 L53.0 266.1 L53.5 267.2 L54.0 266.5 L54.6 264.4 L55.1 261.3 L55.6 257.6 L56.2 253.9 L56.7 250.8 L57.3 248.7 L57.8 248.0 L58.3 249.0 L58.9 251.6 L59.4 254.8 L60.0 257.4 L60.5 258.4 L61.1 257.6 L61.7 255.4 L62.2 252.6 L62.8 250.4 L63.4 249.6 L63.9 250.3 L64.4 252.2 L64.9 254.9 L65.4 257.9 L65.9 260.6 L66.4 262.5 L66.9 263.2 L67.5 262.6 L68.0 261.0 L68.6 258.5 L69.2 255.6 L69.7 252.7 L70.3 250.2 L70.8 248.6 L71.4 248.0 L71.9 248.5 L72.5 250.0 L73.0 252.0 L73.5 254.0 L74.1 255.5 L74.6 256.0 L75.1 255.9 L75.6 255.5 L76.1 255.0 L76.6 254.4 L77.1 253.8 L77.6 253.3 L78.1 252.9 L78.6 252.8 L79.1 253.1 L79.6 254.1 L80.1 255.5 L80.6 257.2 L81.1 258.9 L81.6 260.3 L82.1 261.3 L82.6 261.6 L83.1 261.1 L83.7 259.6 L84.2 257.3 L84.7 254.4 L85.2 251.2 L85.8 248.0 L86.3 245.1 L86.8 242.8 L87.4 241.3 L87.9 240.8 L88.4 242.3 L89.0 246.4 L89.5 252.7 L90.0 260.0 L90.6 267.3 L91.1 273.6 L91.7 277.7 L92.2 279.2 L92.7 277.2 L93.2 271.5 L93.7 262.9 L94.2 252.8 L94.7 242.7 L95.2 234.1 L95.7 228.4 L96.2 226.4 L96.7 228.8 L97.2 235.5 L97.7 245.7 L98.2 257.6 L98.7 269.5 L99.2 279.7 L99.7 286.4 L100.2 288.8 L100.7 286.5 L101.2 279.9 L101.7 270.0 L102.2 258.4 L102.8 246.8 L103.3 236.9 L103.8 230.3 L104.3 228.0 L104.8 229.5 L105.3 233.9 L105.9 240.6 L106.4 248.8 L106.9 257.6 L107.5 265.8 L108.0 272.5 L108.5 276.9 L109.1 278.4 L109.6 276.8 L110.2 272.2 L110.7 265.3 L111.2 257.2 L111.8 249.1 L112.3 242.2 L112.9 237.6 L113.4 236.0 L113.9 237.7 L114.5 242.6 L115.0 249.8 L115.6 258.4 L116.1 267.0 L116.6 274.2 L117.2 279.1 L117.7 280.8 L118.2 278.9 L118.8 273.4 L119.3 265.2 L119.8 255.6 L120.3 246.0 L120.8 237.8 L121.4 232.3 L121.9 230.4 L122.4 232.4 L123.0 238.0 L123.5 246.5 L124.0 256.4 L124.6 266.3 L125.1 274.8 L125.7 280.4 L126.2 282.4 L126.8 279.7 L127.3 272.2 L127.9 261.3 L128.5 249.1 L129.1 238.2 L129.6 230.7 L130.2 228.0 L130.8 230.2 L131.3 236.3 L131.9 245.5 L132.4 256.4 L133.0 267.3 L133.6 276.5 L134.1 282.6 L134.7 284.8 L135.2 282.7 L135.8 276.6 L136.3 267.5 L136.8 256.8 L137.4 246.1 L137.9 237.0 L138.5 230.9 L139.0 228.8 L139.5 230.4 L140.1 235.1 L140.6 242.2 L141.1 250.9 L141.7 260.3 L142.2 269.0 L142.7 276.1 L143.3 280.8 L143.8 282.4 L144.3 280.7 L144.9 275.8 L145.4 268.4 L145.9 259.3 L146.5 249.5 L147.0 240.4 L147.5 233.0 L148.1 228.1 L148.6 226.4 L149.1 228.3 L149.7 233.8 L150.2 242.2 L150.7 252.5 L151.3 263.5 L151.8 273.8 L152.3 282.2 L152.9 287.7 L153.4 289.6 L154.0 287.2 L154.5 280.2 L155.1 269.8 L155.6 257.6 L156.2 245.4 L156.8 235.0 L157.3 228.0 L157.9 225.6 L158.4 227.3 L158.9 232.2 L159.4 239.6 L159.9 248.7 L160.5 258.5 L161.0 267.6 L161.5 275.0 L162.0 279.9 L162.5 281.6 L163.0 280.1 L163.6 275.7 L164.1 269.3 L164.6 261.6 L165.1 253.9 L165.6 247.5 L166.2 243.1 L166.7 241.6 L167.2 242.4 L167.8 244.5 L168.3 247.8 L168.8 251.6 L169.4 255.4 L169.9 258.7 L170.5 260.8 L171.0 261.6 L171.5 261.5 L172.0 261.1 L172.5 260.6 L173.1 259.8 L173.6 258.9 L174.1 257.9 L174.6 256.8 L175.1 255.7 L175.6 254.7 L176.1 253.8 L176.7 253.0 L177.2 252.5 L177.7 252.1 L178.2 252.0 L178.8 253.2 L179.3 256.4 L179.9 260.4 L180.4 263.6 L181.0 264.8 L181.5 264.3 L182.0 262.7 L182.5 260.4 L183.0 257.6 L183.5 254.8 L184.0 252.5 L184.5 250.9 L185.0 250.4 L185.5 250.9 L186.1 252.4 L186.6 254.4 L187.1 256.4 L187.7 257.9 L188.2 258.4 L188.7 258.3 L189.3 258.0 L189.8 257.6 L190.3 257.1 L190.9 256.5 L191.4 256.0 L191.9 255.6 L192.5 255.3 L193.0 255.2 L193.5 255.4 L194.0 255.8 L194.5 256.4 L195.0 257.2 L195.5 258.0 L196.0 258.6 L196.5 259.0 L197.0 259.2 L197.5 259.1 L198.1 258.7 L198.6 258.0 L199.1 257.2 L199.7 256.2 L200.2 255.2 L200.7 254.2 L201.3 253.2 L201.8 252.4 L202.3 251.7 L202.9 251.3 L203.4 251.2 L203.9 251.5 L204.5 252.2 L205.0 253.4 L205.5 254.8 L206.1 256.4 L206.6 257.8 L207.1 259.0 L207.7 259.7 L208.2 260.0 L208.7 259.8 L209.2 259.2 L209.7 258.2 L210.2 257.0 L210.7 255.5 L211.3 254.1 L211.8 252.6 L212.3 251.4 L212.8 250.4 L213.3 249.8 L213.8 249.6 L214.3 249.9 L214.9 250.6 L215.4 251.8 L215.9 253.4 L216.5 255.2 L217.0 257.2 L217.5 259.2 L218.1 261.0 L218.6 262.6 L219.1 263.8 L219.7 264.5 L220.2 264.8 L220.7 264.3 L221.2 262.8 L221.7 260.4 L222.2 257.3 L222.7 253.8 L223.3 250.2 L223.8 246.7 L224.3 243.6 L224.8 241.2 L225.3 239.7 L225.8 239.2 L226.3 240.8 L226.8 245.3 L227.3 252.0 L227.8 260.0 L228.3 268.0 L228.8 274.7 L229.3 279.2 L229.8 280.8 L230.3 278.8 L230.8 273.0 L231.3 264.3 L231.8 254.0 L232.3 243.7 L232.8 235.0 L233.3 229.2 L233.8 227.2 L234.3 229.5 L234.9 236.0 L235.4 245.7 L236.0 257.2 L236.5 268.7 L237.0 278.4 L237.6 284.9 L238.1 287.2 L238.6 284.3 L239.2 276.2 L239.7 264.5 L240.2 251.5 L240.7 239.8 L241.3 231.7 L241.8 228.8 L242.3 230.8 L242.8 236.4 L243.3 244.9 L243.8 254.8 L244.3 264.7 L244.8 273.2 L245.3 278.8 L245.8 280.8 L246.3 278.9 L246.8 273.7 L247.3 265.7 L247.8 256.4 L248.3 247.1 L248.8 239.1 L249.3 233.9 L249.8 232.0 L250.3 233.9 L250.9 239.3 L251.4 247.3 L252.0 256.8 L252.5 266.3 L253.0 274.3 L253.6 279.7 L254.1 281.6 L254.7 279.7 L255.2 274.5 L255.8 266.5 L256.4 257.2 L256.9 247.9 L257.5 239.9 L258.0 234.7 L258.6 232.8 L259.2 235.0 L259.7 241.2 L260.3 250.2 L260.8 260.2 L261.4 269.2 L262.0 275.4 L262.5 277.6 L263.0 276.2 L263.5 272.2 L264.0 266.2 L264.5 259.2 L265.0 252.2 L265.5 246.2 L266.0 242.2 L266.5 240.8 L267.0 241.9 L267.6 245.2 L268.1 249.8 L268.6 255.0 L269.1 259.6 L269.7 262.9 L270.2 264.0 L270.7 263.2 L271.2 261.0 L271.7 257.8 L272.2 254.2 L272.7 251.0 L273.2 248.8 L273.7 248.0 L274.2 249.0 L274.8 251.8 L275.3 255.8 L275.8 260.2 L276.3 264.2 L276.9 267.0 L277.4 268.0 L277.9 266.5 L278.5 262.4 L279.0 256.5 L279.5 249.9 L280.0 244.0 L280.6 239.9 L281.1 238.4 L281.6 239.8 L282.1 243.9 L282.6 250.0 L283.1 257.2 L283.6 264.4 L284.1 270.5 L284.6 274.6 L285.1 276.0 L285.6 274.4 L286.1 269.8 L286.6 262.9 L287.1 254.8 L287.6 246.7 L288.1 239.8 L288.6 235.2 L289.1 233.6 L289.6 235.7 L290.2 241.6 L290.7 250.1 L291.3 259.5 L291.8 268.0 L292.4 273.9 L292.9 276.0 L293.5 273.3 L294.0 266.0 L294.5 256.0 L295.1 246.0 L295.6 238.7 L296.1 236.0 L296.6 237.7 L297.2 242.6 L297.7 249.7 L298.2 257.5 L298.7 264.6 L299.3 269.5 L299.8 271.2 L300.3 269.7 L300.9 265.3 L301.4 259.1 L301.9 252.1 L302.4 245.9 L303.0 241.5 L303.5 240.0 L304.0 241.4 L304.5 245.3 L305.0 250.9 L305.5 257.1 L306.0 262.7 L306.5 266.6 L307.0 268.0 L307.5 266.7 L308.0 263.2 L308.5 258.0 L309.0 252.4 L309.5 247.2 L310.0 243.7 L310.5 242.4 L311.0 243.7 L311.6 247.2 L312.1 252.4 L312.6 258.0 L313.1 263.2 L313.7 266.7 L314.2 268.0 L314.7 267.8 L315.2 267.1 L315.8 266.0 L316.3 264.6 L316.8 262.8 L317.3 260.7 L317.8 258.4 L318.3 256.0 L318.9 253.6 L319.4 251.2 L319.9 248.9 L320.4 246.8 L320.9 245.0 L321.4 243.6 L322.0 242.5 L322.5 241.8 L323.0 241.6 L323.5 242.6 L324.0 245.3 L324.5 249.5 L325.0 254.4 L325.5 259.3 L326.0 263.5 L326.5 266.2 L327.0 267.2 L327.5 266.2 L328.1 263.3 L328.6 259.1 L329.2 254.0 L329.7 248.9 L330.2 244.7 L330.8 241.8 L331.3 240.8 L331.8 242.1 L332.4 245.6 L332.9 250.8 L333.4 256.4 L333.9 261.6 L334.5 265.1 L335.0 266.4 L335.6 265.9 L336.1 264.7 L336.7 263.3 L337.2 262.1 L337.8 261.6 L338.3 261.4 L338.8 260.8 L339.3 259.8 L339.8 258.6 L340.3 257.0 L340.8 255.2 L341.3 253.2 L341.8 251.2 L342.3 249.2 L342.8 247.2 L343.3 245.4 L343.8 243.8 L344.3 242.6 L344.8 241.6 L345.3 241.0 L345.8 240.8 L346.3 242.4 L346.9 246.9 L347.4 253.6 L348.0 261.6 L348.5 269.6 L349.0 276.3 L349.6 280.8 L350.1 282.4 L350.6 280.1 L351.1 273.7 L351.6 264.1 L352.1 252.8 L352.6 241.5 L353.1 231.9 L353.6 225.5 L354.1 223.2 L354.6 225.5 L355.1 232.2 L355.6 242.2 L356.1 254.0 L356.6 265.8 L357.1 275.8 L357.6 282.5 L358.1 284.8 L358.6 282.8 L359.1 277.2 L359.6 268.7 L360.1 258.8 L360.6 248.9 L361.1 240.4 L361.6 234.8 L362.1 232.8 L362.6 234.8 L363.2 240.5 L363.7 248.7 L364.2 257.7 L364.7 265.9 L365.3 271.6 L365.8 273.6 L366.3 272.7 L366.9 270.2 L367.4 266.8 L367.9 263.4 L368.5 260.9 L369.0 260.0 L369.6 259.7 L370.3 259.0 L370.9 258.7 L371.4 257.9 L372.0 255.6 L372.5 252.2 L373.0 248.2 L373.5 244.1 L374.0 240.7 L374.6 238.4 L375.1 237.6 L375.6 239.8 L376.2 245.9 L376.7 254.7 L377.3 264.5 L377.8 273.3 L378.4 279.4 L378.9 281.6 L379.5 280.1 L380.0 275.8 L380.5 269.2 L381.1 261.1 L381.6 252.5 L382.1 244.4 L382.7 237.8 L383.2 233.5 L383.7 232.0 L384.3 233.7 L384.8 238.7 L385.4 246.1 L386.0 254.8 L386.5 263.5 L387.1 270.9 L387.6 275.9 L388.2 277.6 L388.7 276.5 L389.3 273.3 L389.8 268.4 L390.3 262.4 L390.9 256.0 L391.4 250.0 L391.9 245.1 L392.5 241.9 L393.0 240.8 L393.5 241.5 L394.1 243.6 L394.6 246.8 L395.1 250.7 L395.7 254.9 L396.2 258.8 L396.7 262.0 L397.3 264.1 L397.8 264.8 L398.3 264.4 L398.9 263.4 L399.4 261.8 L399.9 259.8 L400.5 257.8 L401.0 255.8 L401.5 254.2 L402.1 253.2 L402.6 252.8 L403.1 252.9 L403.6 253.3 L404.1 253.9 L404.7 254.8 L405.2 255.7 L405.7 256.8 L406.2 258.0 L406.7 259.2 L407.2 260.3 L407.7 261.2 L408.3 262.1 L408.8 262.7 L409.3 263.1 L409.8 263.2 L410.3 263.1 L410.8 262.7 L411.3 262.1 L411.8 261.2 L412.3 260.3 L412.8 259.2 L413.3 258.0 L413.8 256.8 L414.3 255.7 L414.8 254.8 L415.3 253.9 L415.8 253.3 L416.3 252.9 L416.8 252.8 L417.3 253.0 L417.8 253.5 L418.3 254.2 L418.8 255.2 L419.4 256.2 L419.9 257.3 L420.4 258.3 L420.9 259.0 L421.4 259.5 L421.9 259.7 L422.5 259.2 L423.0 257.8 L423.5 255.6 L424.1 252.9 L424.6 250.0 L425.1 247.3 L425.7 245.1 L426.2 243.7 L426.7 243.2 L427.2 244.5 L427.8 248.2 L428.3 253.8 L428.8 260.4 L429.3 267.0 L429.8 272.6 L430.4 276.3 L430.9 277.6 L431.4 275.9 L432.0 271.0 L432.5 263.8 L433.0 255.2 L433.6 246.6 L434.1 239.4 L434.7 234.5 L435.2 232.8 L435.7 234.4 L436.3 239.0 L436.8 245.9 L437.4 254.0 L437.9 262.1 L438.4 269.0 L439.0 273.6 L439.5 275.2 L440.1 274.1 L440.6 271.1 L441.2 266.6 L441.8 261.2 L442.3 255.8 L442.9 251.3 L443.4 248.3 L444.0 247.2 L444.5 247.4 L445.0 247.9 L445.6 248.8 L446.1 250.0 L446.6 251.5 L447.1 253.2 L447.6 255.0 L448.1 257.0 L448.7 259.0 L449.2 261.0 L449.7 262.8 L450.2 264.5 L450.7 266.0 L451.2 267.2 L451.8 268.1 L452.3 268.6 L452.8 268.8 L453.3 268.1 L453.9 265.9 L454.4 262.5 L454.9 258.3 L455.4 253.6 L456.0 248.9 L456.5 244.7 L457.0 241.3 L457.6 239.1 L458.1 238.4 L458.6 240.1 L459.2 244.8 L459.7 252.0 L460.2 260.4 L460.8 268.8 L461.3 276.0 L461.9 280.7 L462.4 282.4 L462.9 280.3 L463.4 274.2 L463.9 265.1 L464.4 254.4 L464.9 243.7 L465.4 234.6 L465.9 228.5 L466.4 226.4 L466.9 228.7 L467.5 235.2 L468.0 244.9 L468.6 256.4 L469.1 267.9 L469.6 277.6 L470.2 284.1 L470.7 286.4 L471.3 284.2 L471.8 278.1 L472.3 268.9 L472.9 258.0 L473.4 247.1 L474.0 237.9 L474.5 231.8 L475.0 229.6" stroke="#1a1a1a" stroke-width="1.3"/>
<path d="M27.2 288.8 L27.8 286.9 L28.3 281.4 L28.9 273.0 L29.4 262.7 L30.0 251.7 L30.5 241.4 L31.1 233.0 L31.6 227.5 L32.2 225.6 L32.7 227.3 L33.3 232.1 L33.8 239.4 L34.3 248.4 L34.9 258.0 L35.4 267.0 L35.9 274.3 L36.5 279.1 L37.0 280.8 L37.5 279.3 L38.0 275.1 L38.5 268.7 L39.0 261.2 L39.5 253.7 L40.0 247.3 L40.5 243.1 L41.0 241.6 L41.5 242.7 L42.0 245.7 L42.5 250.0 L43.0 254.8 L43.5 259.1 L44.0 262.1 L44.5 263.2 L45.0 262.6 L45.6 260.8 L46.1 258.2 L46.6 255.4 L47.1 252.8 L47.7 251.0 L48.2 250.4 L48.7 251.0 L49.3 252.8 L49.8 255.2 L50.3 257.6 L50.9 259.4 L51.4 260.0 L51.9 259.4 L52.5 257.6 L53.0 255.2 L53.5 252.8 L54.1 251.0 L54.6 250.4 L55.1 250.5 L55.6 250.7 L56.2 251.1 L56.7 251.6 L57.2 252.3 L57.7 253.1 L58.3 254.0 L58.8 254.9 L59.3 256.0 L59.8 257.1 L60.3 258.2 L60.9 259.4 L61.4 260.5 L61.9 261.6 L62.4 262.7 L62.9 263.6 L63.5 264.5 L64.0 265.3 L64.5 266.0 L65.0 266.5 L65.6 266.9 L66.1 267.1 L66.6 267.2 L67.1 266.6 L67.6 264.8 L68.1 262.1 L68.6 258.6 L69.2 254.8 L69.7 251.0 L70.2 247.5 L70.7 244.8 L71.2 243.0 L71.7 242.4 L72.3 243.3 L72.8 245.8 L73.3 249.6 L73.9 254.3 L74.4 259.3 L74.9 264.0 L75.5 267.8 L76.0 270.3 L76.5 271.2 L77.1 270.2 L77.6 267.5 L78.2 263.3 L78.8 258.4 L79.3 253.5 L79.9 249.3 L80.4 246.6 L81.0 245.6 L81.5 246.1 L82.1 247.5 L82.6 249.6 L83.1 252.2 L83.7 255.0 L84.2 257.6 L84.7 259.7 L85.3 261.1 L85.8 261.6 L86.3 261.2 L86.9 260.1 L87.4 258.3 L87.9 256.0 L88.5 253.3 L89.0 250.4 L89.5 247.5 L90.1 244.8 L90.6 242.5 L91.1 240.7 L91.7 239.6 L92.2 239.2 L92.7 240.6 L93.3 244.4 L93.8 250.4 L94.3 257.7 L94.9 265.5 L95.4 272.8 L95.9 278.8 L96.5 282.6 L97.0 284.0 L97.5 282.1 L98.1 276.8 L98.6 268.6 L99.1 258.5 L99.7 247.9 L100.2 237.8 L100.7 229.6 L101.3 224.3 L101.8 222.4 L102.3 226.0 L102.8 236.1 L103.3 250.7 L103.9 266.9 L104.4 281.5 L104.9 291.6 L105.4 295.2 L105.9 292.4 L106.5 284.3 L107.0 272.2 L107.6 258.0 L108.1 243.8 L108.6 231.7 L109.2 223.6 L109.7 220.8 L110.2 223.3 L110.8 230.5 L111.3 241.3 L111.8 254.0 L112.3 266.7 L112.8 277.5 L113.4 284.7 L113.9 287.2 L114.4 285.1 L115.0 279.2 L115.5 270.4 L116.0 260.0 L116.6 249.6 L117.1 240.8 L117.7 234.9 L118.2 232.8 L118.7 234.3 L119.3 238.5 L119.8 244.9 L120.4 252.4 L120.9 259.9 L121.4 266.3 L122.0 270.5 L122.5 272.0 L123.0 271.0 L123.6 268.3 L124.1 264.1 L124.6 259.2 L125.1 254.3 L125.6 250.1 L126.2 247.4 L126.7 246.4 L127.2 247.3 L127.8 249.9 L128.3 253.6 L128.9 257.6 L129.4 261.3 L130.0 263.9 L130.5 264.8 L131.0 264.0 L131.6 261.6 L132.1 258.3 L132.6 254.5 L133.1 251.2 L133.7 248.8 L134.2 248.0 L134.7 248.8 L135.2 250.9 L135.7 254.2 L136.2 258.0 L136.7 261.8 L137.2 265.1 L137.7 267.2 L138.2 268.0 L138.7 266.8 L139.2 263.3 L139.7 258.1 L140.2 252.0 L140.7 245.9 L141.2 240.7 L141.7 237.2 L142.2 236.0 L142.7 238.0 L143.2 243.6 L143.7 252.1 L144.2 262.0 L144.7 271.9 L145.2 280.4 L145.7 286.0 L146.2 288.0 L146.7 285.3 L147.3 277.7 L147.8 266.3 L148.4 252.8 L148.9 239.3 L149.4 227.9 L150.0 220.3 L150.5 217.6 L151.0 220.6 L151.5 229.2 L152.0 242.0 L152.5 257.2 L153.0 272.4 L153.5 285.2 L154.0 293.8 L154.5 296.8 L155.0 294.0 L155.5 285.9 L156.0 273.8 L156.5 259.6 L157.0 245.4 L157.5 233.3 L158.0 225.2 L158.5 222.4 L159.1 224.4 L159.6 230.2 L160.2 238.9 L160.8 249.2 L161.3 259.5 L161.9 268.2 L162.4 274.0 L163.0 276.0 L163.5 274.9 L164.0 271.7 L164.5 266.9 L165.0 261.2 L165.5 255.5 L166.0 250.7 L166.5 247.5 L167.0 246.4 L167.5 247.3 L168.1 249.8 L168.6 253.2 L169.1 256.6 L169.7 259.1 L170.2 260.0 L170.7 259.0 L171.3 256.2 L171.8 252.4 L172.3 248.6 L172.9 245.8 L173.4 244.8 L173.9 246.1 L174.4 249.9 L174.9 255.4 L175.4 261.4 L175.9 266.9 L176.4 270.7 L176.9 272.0 L177.4 270.8 L177.9 267.2 L178.4 261.9 L179.0 255.6 L179.5 249.3 L180.0 244.0 L180.5 240.4 L181.0 239.2 L181.6 242.3 L182.2 250.3 L182.7 260.1 L183.3 268.1 L183.9 271.2 L184.4 269.7 L184.9 265.5 L185.4 259.4 L185.9 252.6 L186.4 246.5 L186.9 242.3 L187.4 240.8 L187.9 242.0 L188.4 245.6 L188.9 250.9 L189.4 257.2 L189.9 263.5 L190.4 268.8 L190.9 272.4 L191.4 273.6 L191.9 272.2 L192.4 268.2 L192.9 262.2 L193.4 255.2 L193.9 248.2 L194.4 242.2 L194.9 238.2 L195.4 236.8 L195.9 238.3 L196.4 242.7 L196.9 249.1 L197.4 256.8 L197.9 264.5 L198.4 270.9 L198.9 275.3 L199.4 276.8 L199.9 275.3 L200.4 270.9 L200.9 264.5 L201.4 256.8 L201.9 249.1 L202.4 242.7 L202.9 238.3 L203.4 236.8 L203.9 238.1 L204.4 242.0 L204.9 247.7 L205.4 254.4 L205.9 261.1 L206.4 266.8 L206.9 270.7 L207.4 272.0 L207.9 270.9 L208.4 267.7 L208.9 262.9 L209.4 257.2 L209.9 251.5 L210.4 246.7 L210.9 243.5 L211.4 242.4 L211.9 243.3 L212.4 245.9 L212.9 249.8 L213.4 254.4 L213.9 259.0 L214.4 262.9 L214.9 265.5 L215.4 266.4 L215.9 265.5 L216.5 263.1 L217.0 259.5 L217.6 255.2 L218.1 250.9 L218.6 247.3 L219.2 244.9 L219.7 244.0 L220.3 244.9 L220.8 247.6 L221.4 251.7 L222.0 256.4 L222.5 261.1 L223.1 265.2 L223.6 267.9 L224.2 268.8 L224.7 267.9 L225.2 265.5 L225.7 261.9 L226.2 257.6 L226.7 253.3 L227.2 249.7 L227.7 247.3 L228.2 246.4 L228.7 247.1 L229.2 249.1 L229.7 252.1 L230.2 255.6 L230.7 259.1 L231.2 262.1 L231.7 264.1 L232.2 264.8 L232.7 264.6 L233.2 264.2 L233.7 263.5 L234.3 262.5 L234.8 261.2 L235.3 259.8 L235.8 258.2 L236.3 256.5 L236.8 254.8 L237.4 253.1 L237.9 251.4 L238.4 249.8 L238.9 248.4 L239.4 247.1 L239.9 246.1 L240.4 245.4 L241.0 245.0 L241.5 244.8 L242.0 245.9 L242.6 248.9 L243.1 253.4 L243.6 258.8 L244.2 264.2 L244.7 268.7 L245.3 271.7 L245.8 272.8 L246.3 271.6 L246.9 268.2 L247.4 263.2 L248.0 257.2 L248.5 251.2 L249.0 246.2 L249.6 242.8 L250.1 241.6 L250.6 242.7 L251.1 245.8 L251.6 250.5 L252.1 256.0 L252.6 261.5 L253.1 266.2 L253.6 269.3 L254.1 270.4 L254.7 269.5 L255.2 266.9 L255.8 263.0 L256.4 258.4 L256.9 253.8 L257.5 249.9 L258.0 247.3 L258.6 246.4 L259.1 246.9 L259.6 248.3 L260.2 250.5 L260.7 253.3 L261.2 256.4 L261.7 259.5 L262.2 262.3 L262.8 264.5 L263.3 265.9 L263.8 266.4 L264.3 265.5 L264.8 263.0 L265.3 259.2 L265.8 254.8 L266.3 250.4 L266.8 246.6 L267.3 244.1 L267.8 243.2 L268.3 244.2 L268.8 247.1 L269.3 251.3 L269.8 256.4 L270.3 261.5 L270.8 265.7 L271.3 268.6 L271.8 269.6 L272.3 268.7 L272.8 266.2 L273.3 262.4 L273.8 258.0 L274.3 253.6 L274.8 249.8 L275.3 247.3 L275.8 246.4 L276.3 247.1 L276.9 249.0 L277.4 251.7 L277.9 254.7 L278.4 257.4 L279.0 259.3 L279.5 260.0 L280.0 259.0 L280.5 256.2 L281.1 252.4 L281.6 248.6 L282.1 245.8 L282.7 244.8 L283.2 246.0 L283.8 249.5 L284.3 254.4 L284.9 260.0 L285.4 264.9 L286.0 268.4 L286.5 269.6 L287.1 268.6 L287.6 265.9 L288.2 261.7 L288.8 256.8 L289.3 251.9 L289.9 247.7 L290.4 245.0 L291.0 244.0 L291.6 244.6 L292.1 246.3 L292.7 248.9 L293.2 252.0 L293.8 255.1 L294.4 257.7 L294.9 259.4 L295.5 260.0 L296.0 259.7 L296.5 258.9 L297.0 257.6 L297.5 255.9 L298.0 253.9 L298.5 251.6 L299.0 249.2 L299.5 246.8 L300.0 244.5 L300.5 242.5 L301.0 240.8 L301.5 239.5 L302.0 238.7 L302.5 238.4 L303.1 240.0 L303.6 244.6 L304.2 251.5 L304.8 259.6 L305.3 267.7 L305.9 274.6 L306.4 279.2 L307.0 280.8 L307.5 278.8 L308.0 273.1 L308.5 264.5 L309.0 254.4 L309.5 244.3 L310.0 235.7 L310.5 230.0 L311.0 228.0 L311.5 230.1 L312.1 236.1 L312.6 245.0 L313.2 255.6 L313.7 266.2 L314.2 275.1 L314.8 281.1 L315.3 283.2 L315.8 281.2 L316.4 275.5 L316.9 266.9 L317.4 256.8 L317.9 246.7 L318.4 238.1 L319.0 232.4 L319.5 230.4 L320.0 232.2 L320.6 237.3 L321.1 245.0 L321.6 254.0 L322.2 263.0 L322.7 270.7 L323.3 275.8 L323.8 277.6 L324.3 276.1 L324.9 271.9 L325.4 265.5 L326.0 258.0 L326.5 250.5 L327.0 244.1 L327.6 239.9 L328.1 238.4 L328.6 239.4 L329.2 242.3 L329.7 246.5 L330.2 251.6 L330.7 256.7 L331.2 260.9 L331.8 263.8 L332.3 264.8 L332.8 264.3 L333.4 262.9 L333.9 260.8 L334.4 258.4 L335.0 256.0 L335.5 253.9 L336.1 252.5 L336.6 252.0 L337.1 252.3 L337.6 253.1 L338.2 254.3 L338.7 255.9 L339.2 257.6 L339.7 259.3 L340.2 260.9 L340.8 262.1 L341.3 262.9 L341.8 263.2 L342.3 262.8 L342.9 261.7 L343.4 260.0 L343.9 257.9 L344.5 255.7 L345.0 253.6 L345.5 251.9 L346.1 250.8 L346.6 250.4 L347.1 250.7 L347.6 251.7 L348.1 253.1 L348.6 254.8 L349.1 256.5 L349.6 257.9 L350.1 258.9 L350.6 259.2 L351.1 258.8 L351.7 257.8 L352.2 256.4 L352.7 255.0 L353.3 254.0 L353.8 253.6 L354.3 253.8 L354.8 254.5 L355.3 255.6 L355.8 256.8 L356.3 258.0 L356.8 259.1 L357.3 259.8 L357.8 260.0 L358.4 259.5 L358.9 258.0 L359.5 255.8 L360.0 253.2 L360.6 250.6 L361.2 248.4 L361.7 246.9 L362.3 246.4 L362.8 247.2 L363.4 249.6 L363.9 253.1 L364.4 257.2 L365.0 261.3 L365.5 264.8 L366.1 267.2 L366.6 268.0 L367.1 266.9 L367.7 263.9 L368.2 259.4 L368.8 254.0 L369.3 248.6 L369.8 244.1 L370.4 241.1 L370.9 240.0 L371.4 241.3 L372.0 245.0 L372.5 250.6 L373.0 257.2 L373.5 263.8 L374.0 269.4 L374.6 273.1 L375.1 274.4 L375.6 273.0 L376.2 269.0 L376.7 263.0 L377.2 256.0 L377.8 249.0 L378.3 243.0 L378.9 239.0 L379.4 237.6 L379.9 238.5 L380.5 240.9 L381.0 244.5 L381.6 248.8 L382.1 253.1 L382.6 256.7 L383.2 259.1 L383.7 260.0 L384.2 259.9 L384.8 259.6 L385.3 259.2 L385.8 258.6 L386.4 257.9 L386.9 257.0 L387.4 256.1 L388.0 255.2 L388.5 254.3 L389.0 253.4 L389.6 252.5 L390.1 251.8 L390.6 251.2 L391.1 250.8 L391.7 250.5 L392.2 250.4 L392.7 250.8 L393.3 252.0 L393.8 253.9 L394.3 256.2 L394.8 258.8 L395.4 261.4 L395.9 263.7 L396.4 265.6 L397.0 266.8 L397.5 267.2 L398.0 266.2 L398.6 263.3 L399.1 259.1 L399.6 254.0 L400.2 248.9 L400.7 244.7 L401.3 241.8 L401.8 240.8 L402.3 241.9 L402.9 244.9 L403.4 249.4 L404.0 254.8 L404.5 260.2 L405.0 264.7 L405.6 267.7 L406.1 268.8 L406.7 268.2 L407.2 266.4 L407.7 263.6 L408.3 260.2 L408.8 256.6 L409.3 253.2 L409.9 250.4 L410.4 248.6 L410.9 248.0 L411.4 248.3 L411.9 249.1 L412.4 250.5 L413.0 252.1 L413.5 254.0 L414.0 255.9 L414.5 257.5 L415.0 258.9 L415.5 259.7 L416.0 260.0 L416.5 258.8 L417.1 255.6 L417.6 251.2 L418.1 246.8 L418.7 243.6 L419.2 242.4 L419.7 243.1 L420.2 245.0 L420.7 248.1 L421.2 252.0 L421.7 256.5 L422.3 261.1 L422.8 265.6 L423.3 269.5 L423.8 272.6 L424.3 274.5 L424.8 275.2 L425.3 274.1 L425.9 271.0 L426.4 266.2 L426.9 260.3 L427.5 254.1 L428.0 248.2 L428.5 243.4 L429.1 240.3 L429.6 239.2 L430.1 240.3 L430.7 243.3 L431.2 248.0 L431.7 253.7 L432.3 259.9 L432.8 265.6 L433.3 270.3 L433.9 273.3 L434.4 274.4 L434.9 273.3 L435.5 270.3 L436.0 265.6 L436.5 259.9 L437.1 253.7 L437.6 248.0 L438.1 243.3 L438.7 240.3 L439.2 239.2 L439.8 240.5 L440.3 244.1 L440.9 249.6 L441.4 256.0 L442.0 262.4 L442.6 267.9 L443.1 271.5 L443.7 272.8 L444.2 271.8 L444.7 269.1 L445.3 264.8 L445.8 259.6 L446.3 254.0 L446.9 248.8 L447.4 244.5 L447.9 241.8 L448.5 240.8 L449.0 241.7 L449.5 244.2 L450.1 248.0 L450.6 252.7 L451.1 257.7 L451.7 262.4 L452.2 266.2 L452.7 268.7 L453.3 269.6 L453.8 268.6 L454.4 265.9 L454.9 261.7 L455.4 256.8 L456.0 251.9 L456.5 247.7 L457.1 245.0 L457.6 244.0 L458.1 245.2 L458.7 248.4 L459.2 252.8 L459.7 257.2 L460.3 260.4 L460.8 261.6 L461.3 261.0 L461.9 259.1 L462.4 256.4 L463.0 253.2 L463.5 250.0 L464.0 247.3 L464.6 245.4 L465.1 244.8 L465.7 245.6 L466.2 248.0 L466.8 251.5 L467.4 255.6 L467.9 259.7 L468.5 263.2 L469.0 265.6 L469.6 266.4 L470.1 266.0 L470.7 264.8 L471.2 262.9 L471.8 260.6 L472.3 258.0 L472.9 255.4 L473.4 253.1 L474.0 251.2 L474.5 250.0 L475.0 249.6" stroke="#f00" stroke-width="1.1" opacity="0.45"/>
<path d="M27.2 288.8 L27.8 286.9 L28.3 281.4 L28.9 273.0 L29.4 262.7 L30.0 251.7 L30.5 241.4 L31.1 233.0 L31.6 227.5 L32.2 225.6 L32.7 227.3 L33.3 232.1 L33.8 239.4 L34.3 248.4 L34.9 258.0 L35.4 267.0 L35.9 274.3 L36.5 279.1 L37.0 280.8 L37.5 279.3 L38.0 275.1 L38.5 268.7 L39.0 261.2 L39.5 253.7 L40.0 247.3 L40.5 243.1 L41.0 241.6 L41.5 242.7 L42.0 245.7 L42.5 250.0 L43.0 254.8 L43.5 259.1 L44.0 262.1 L44.5 263.2 L45.0 262.6 L45.6 260.8 L46.1 258.2 L46.6 255.4 L47.1 252.8 L47.7 251.0 L48.2 250.4 L48.7 251.0 L49.3 252.8 L49.8 255.2 L50.3 257.6 L50.9 259.4 L51.4 260.0 L51.9 259.4 L52.5 257.6 L53.0 255.2 L53.5 252.8 L54.1 251.0 L54.6 250.4 L55.1 250.5 L55.6 250.7 L56.2 251.1 L56.7 251.6 L57.2 252.3 L57.7 253.1 L58.3 254.0 L58.8 254.9 L59.3 256.0 L59.8 257.1 L60.3 258.2 L60.9 259.4 L61.4 260.5 L61.9 261.6 L62.4 262.7 L62.9 263.6 L63.5 264.5 L64.0 265.3 L64.5 266.0 L65.0 266.5 L65.6 266.9 L66.1 267.1 L66.6 267.2 L67.1 266.6 L67.6 264.8 L68.1 262.1 L68.6 258.6 L69.2 254.8 L69.7 251.0 L70.2 247.5 L70.7 244.8 L71.2 243.0 L71.7 242.4 L72.3 243.3 L72.8 245.8 L73.3 249.6 L73.9 254.3 L74.4 259.3 L74.9 264.0 L75.5 267.8 L76.0 270.3 L76.5 271.2 L77.1 270.2 L77.6 267.5 L78.2 263.3 L78.8 258.4 L79.3 253.5 L79.9 249.3 L80.4 246.6 L81.0 245.6 L81.5 246.1 L82.1 247.5 L82.6 249.6 L83.1 252.2 L83.7 255.0 L84.2 257.6 L84.7 259.7 L85.3 261.1 L85.8 261.6 L86.3 261.2 L86.9 260.1 L87.4 258.3 L87.9 256.0 L88.5 253.3 L89.0 250.4 L89.5 247.5 L90.1 244.8 L90.6 242.5 L91.1 240.7 L91.7 239.6 L92.2 239.2 L92.7 240.6 L93.3 244.4 L93.8 250.4 L94.3 257.7 L94.9 265.5 L95.4 272.8 L95.9 278.8 L96.5 282.6 L97.0 284.0 L97.5 282.1 L98.1 276.8 L98.6 268.6 L99.1 258.5 L99.7 247.9 L100.2 237.8 L100.7 229.6 L101.3 224.3 L101.8 222.4 L102.3 226.0 L102.8 236.1 L103.3 250.7 L103.9 266.9 L104.4 281.5 L104.9 291.6 L105.4 295.2 L105.9 292.4 L106.5 284.3 L107.0 272.2 L107.6 258.0 L108.1 243.8 L108.6 231.7 L109.2 223.6 L109.7 220.8 L110.2 223.3 L110.8 230.5 L111.3 241.3 L111.8 254.0 L112.3 266.7 L112.8 277.5 L113.4 284.7 L113.9 287.2 L114.4 285.1 L115.0 279.2 L115.5 270.4 L116.0 260.0 L116.6 249.6 L117.1 240.8 L117.7 234.9 L118.2 232.8 L118.7 234.3 L119.3 238.5 L119.8 244.9 L120.4 252.4 L120.9 259.9 L121.4 266.3 L122.0 270.5 L122.5 272.0 L123.0 271.0 L123.6 268.3 L124.1 264.1 L124.6 259.2 L125.1 254.3 L125.6 250.1 L126.2 247.4 L126.7 246.4 L127.2 247.3 L127.8 249.9 L128.3 253.6 L128.9 257.6 L129.4 261.3 L130.0 263.9 L130.5 264.8 L131.0 264.0 L131.6 261.6 L132.1 258.3 L132.6 254.5 L133.1 251.2 L133.7 248.8 L134.2 248.0 L134.7 248.8 L135.2 250.9 L135.7 254.2 L136.2 258.0 L136.7 261.8 L137.2 265.1 L137.7 267.2 L138.2 268.0 L138.7 266.8 L139.2 263.3 L139.7 258.1 L140.2 252.0 L140.7 245.9 L141.2 240.7 L141.7 237.2 L142.2 236.0 L142.7 238.0 L143.2 243.6 L143.7 252.1 L144.2 262.0 L144.7 271.9 L145.2 280.4 L145.7 286.0 L146.2 288.0 L146.7 285.3 L147.3 277.7 L147.8 266.3 L148.4 252.8 L148.9 239.3 L149.4 227.9 L150.0 220.3 L150.5 217.6 L151.0 220.6 L151.5 229.2 L152.0 242.0 L152.5 257.2 L153.0 272.4 L153.5 285.2 L154.0 293.8 L154.5 296.8 L155.0 294.0 L155.5 285.9 L156.0 273.8 L156.5 259.6 L157.0 245.4 L157.5 233.3 L158.0 225.2 L158.5 222.4 L159.1 224.4 L159.6 230.2 L160.2 238.9 L160.8 249.2 L161.3 259.5 L161.9 268.2 L162.4 274.0 L163.0 276.0 L163.5 274.9 L164.0 271.7 L164.5 266.9 L165.0 261.2 L165.5 255.5 L166.0 250.7 L166.5 247.5 L167.0 246.4 L167.5 247.3 L168.1 249.8 L168.6 253.2 L169.1 256.6 L169.7 259.1 L170.2 260.0 L170.7 259.0 L171.3 256.2 L171.8 252.4 L172.3 248.6 L172.9 245.8 L173.4 244.8 L173.9 246.1 L174.4 249.9 L174.9 255.4 L175.4 261.4 L175.9 266.9 L176.4 270.7 L176.9 272.0 L177.4 270.8 L177.9 267.2 L178.4 261.9 L179.0 255.6 L179.5 249.3 L180.0 244.0 L180.5 240.4 L181.0 239.2 L181.6 242.3 L182.2 250.3 L182.7 260.1 L183.3 268.1 L183.9 271.2 L184.4 269.7 L184.9 265.5 L185.4 259.4 L185.9 252.6 L186.4 246.5 L186.9 242.3 L187.4 240.8 L187.9 242.0 L188.4 245.6 L188.9 250.9 L189.4 257.2 L189.9 263.5 L190.4 268.8 L190.9 272.4 L191.4 273.6 L191.9 272.2 L192.4 268.2 L192.9 262.2 L193.4 255.2 L193.9 248.2 L194.4 242.2 L194.9 238.2 L195.4 236.8 L195.9 238.3 L196.4 242.7 L196.9 249.1 L197.4 256.8 L197.9 264.5 L198.4 270.9 L198.9 275.3 L199.4 276.8 L199.9 275.3 L200.4 270.9 L200.9 264.5 L201.4 256.8 L201.9 249.1 L202.4 242.7 L202.9 238.3 L203.4 236.8 L203.9 238.1 L204.4 242.0 L204.9 247.7 L205.4 254.4 L205.9 261.1 L206.4 266.8 L206.9 270.7 L207.4 272.0 L207.9 270.9 L208.4 267.7 L208.9 262.9 L209.4 257.2 L209.9 251.5 L210.4 246.7 L210.9 243.5 L211.4 242.4 L211.9 243.3 L212.4 245.9 L212.9 249.8 L213.4 254.4 L213.9 259.0 L214.4 262.9 L214.9 265.5 L215.4 266.4 L215.9 265.5 L216.5 263.1 L217.0 259.5 L217.6 255.2 L218.1 250.9 L218.6 247.3 L219.2 244.9 L219.7 244.0 L220.3 244.9 L220.8 247.6 L221.4 251.7 L222.0 256.4 L222.5 261.1 L223.1 265.2 L223.6 267.9 L224.2 268.8 L224.7 267.9 L225.2 265.5 L225.7 261.9 L226.2 257.6 L226.7 253.3 L227.2 249.7 L227.7 247.3 L228.2 246.4 L228.7 247.1 L229.2 249.1 L229.7 252.1 L230.2 255.6 L230.7 259.1 L231.2 262.1 L231.7 264.1 L232.2 264.8 L232.7 264.6 L233.2 264.2 L233.7 263.5 L234.3 262.5 L234.8 261.2 L235.3 259.8 L235.8 258.2 L236.3 256.5 L236.8 254.8 L237.4 253.1 L237.9 251.4 L238.4 249.8 L238.9 248.4 L239.4 247.1 L239.9 246.1 L240.4 245.4 L241.0 245.0 L241.5 244.8 L242.0 245.9 L242.6 248.9 L243.1 253.4 L243.6 258.8 L244.2 264.2 L244.7 268.7 L245.3 271.7 L245.8 272.8 L246.3 271.6 L246.9 268.2 L247.4 263.2 L248.0 257.2 L248.5 251.2 L249.0 246.2 L249.6 242.8 L250.1 241.6 L250.6 242.7 L251.1 245.8 L251.6 250.5 L252.1 256.0 L252.6 261.5 L253.1 266.2 L253.6 269.3 L254.1 270.4 L254.7 269.5 L255.2 266.9 L255.8 263.0 L256.4 258.4 L256.9 253.8 L257.5 249.9 L258.0 247.3 L258.6 246.4 L259.1 246.9 L259.6 248.3 L260.2 250.5 L260.7 253.3 L261.2 256.4 L261.7 259.5 L262.2 262.3 L262.8 264.5 L263.3 265.9 L263.8 266.4 L264.3 265.5 L264.8 263.0 L265.3 259.2 L265.8 254.8 L266.3 250.4 L266.8 246.6 L267.3 244.1 L267.8 243.2 L268.3 244.2 L268.8 247.1 L269.3 251.3 L269.8 256.4 L270.3 261.5 L270.8 265.7 L271.3 268.6 L271.8 269.6 L272.3 268.7 L272.8 266.2 L273.3 262.4 L273.8 258.0 L274.3 253.6 L274.8 249.8 L275.3 247.3 L275.8 246.4 L276.3 247.1 L276.9 249.0 L277.4 251.7 L277.9 254.7 L278.4 257.4 L279.0 259.3 L279.5 260.0 L280.0 259.0 L280.5 256.2 L281.1 252.4 L281.6 248.6 L282.1 245.8 L282.7 244.8 L283.2 246.0 L283.8 249.5 L284.3 254.4 L284.9 260.0 L285.4 264.9 L286.0 268.4 L286.5 269.6 L287.1 268.6 L287.6 265.9 L288.2 261.7 L288.8 256.8 L289.3 251.9 L289.9 247.7 L290.4 245.0 L291.0 244.0 L291.6 244.6 L292.1 246.3 L292.7 248.9 L293.2 252.0 L293.8 255.1 L294.4 257.7 L294.9 259.4 L295.5 260.0 L296.0 259.7 L296.5 258.9 L297.0 257.6 L297.5 255.9 L298.0 253.9 L298.5 251.6 L299.0 249.2 L299.5 246.8 L300.0 244.5 L300.5 242.5 L301.0 240.8 L301.5 239.5 L302.0 238.7 L302.5 238.4 L303.1 240.0 L303.6 244.6 L304.2 251.5 L304.8 259.6 L305.3 267.7 L305.9 274.6 L306.4 279.2 L307.0 280.8 L307.5 278.8 L308.0 273.1 L308.5 264.5 L309.0 254.4 L309.5 244.3 L310.0 235.7 L310.5 230.0 L311.0 228.0 L311.5 230.1 L312.1 236.1 L312.6 245.0 L313.2 255.6 L313.7 266.2 L314.2 275.1 L314.8 281.1 L315.3 283.2 L315.8 281.2 L316.4 275.5 L316.9 266.9 L317.4 256.8 L317.9 246.7 L318.4 238.1 L319.0 232.4 L319.5 230.4 L320.0 232.2 L320.6 237.3 L321.1 245.0 L321.6 254.0 L322.2 263.0 L322.7 270.7 L323.3 275.8 L323.8 277.6 L324.3 276.1 L324.9 271.9 L325.4 265.5 L326.0 258.0 L326.5 250.5 L327.0 244.1 L327.6 239.9 L328.1 238.4 L328.6 239.4 L329.2 242.3 L329.7 246.5 L330.2 251.6 L330.7 256.7 L331.2 260.9 L331.8 263.8 L332.3 264.8 L332.8 264.3 L333.4 262.9 L333.9 260.8 L334.4 258.4 L335.0 256.0 L335.5 253.9 L336.1 252.5 L336.6 252.0 L337.1 252.3 L337.6 253.1 L338.2 254.3 L338.7 255.9 L339.2 257.6 L339.7 259.3 L340.2 260.9 L340.8 262.1 L341.3 262.9 L341.8 263.2 L342.3 262.8 L342.9 261.7 L343.4 260.0 L343.9 257.9 L344.5 255.7 L345.0 253.6 L345.5 251.9 L346.1 250.8 L346.6 250.4 L347.1 250.7 L347.6 251.7 L348.1 253.1 L348.6 254.8 L349.1 256.5 L349.6 257.9 L350.1 258.9 L350.6 259.2 L351.1 258.8 L351.7 257.8 L352.2 256.4 L352.7 255.0 L353.3 254.0 L353.8 253.6 L354.3 253.8 L354.8 254.5 L355.3 255.6 L355.8 256.8 L356.3 258.0 L356.8 259.1 L357.3 259.8 L357.8 260.0 L358.4 259.5 L358.9 258.0 L359.5 255.8 L360.0 253.2 L360.6 250.6 L361.2 248.4 L361.7 246.9 L362.3 246.4 L362.8 247.2 L363.4 249.6 L363.9 253.1 L364.4 257.2 L365.0 261.3 L365.5 264.8 L366.1 267.2 L366.6 268.0 L367.1 266.9 L367.7 263.9 L368.2 259.4 L368.8 254.0 L369.3 248.6 L369.8 244.1 L370.4 241.1 L370.9 240.0 L371.4 241.3 L372.0 245.0 L372.5 250.6 L373.0 257.2 L373.5 263.8 L374.0 269.4 L374.6 273.1 L375.1 274.4 L375.6 273.0 L376.2 269.0 L376.7 263.0 L377.2 256.0 L377.8 249.0 L378.3 243.0 L378.9 239.0 L379.4 237.6 L379.9 238.5 L380.5 240.9 L381.0 244.5 L381.6 248.8 L382.1 253.1 L382.6 256.7 L383.2 259.1 L383.7 260.0 L384.2 259.9 L384.8 259.6 L385.3 259.2 L385.8 258.6 L386.4 257.9 L386.9 257.0 L387.4 256.1 L388.0 255.2 L388.5 254.3 L389.0 253.4 L389.6 252.5 L390.1 251.8 L390.6 251.2 L391.1 250.8 L391.7 250.5 L392.2 250.4 L392.7 250.8 L393.3 252.0 L393.8 253.9 L394.3 256.2 L394.8 258.8 L395.4 261.4 L395.9 263.7 L396.4 265.6 L397.0 266.8 L397.5 267.2 L398.0 266.2 L398.6 263.3 L399.1 259.1 L399.6 254.0 L400.2 248.9 L400.7 244.7 L401.3 241.8 L401.8 240.8 L402.3 241.9 L402.9 244.9 L403.4 249.4 L404.0 254.8 L404.5 260.2 L405.0 264.7 L405.6 267.7 L406.1 268.8 L406.7 268.2 L407.2 266.4 L407.7 263.6 L408.3 260.2 L408.8 256.6 L409.3 253.2 L409.9 250.4 L410.4 248.6 L410.9 248.0 L411.4 248.3 L411.9 249.1 L412.4 250.5 L413.0 252.1 L413.5 254.0 L414.0 255.9 L414.5 257.5 L415.0 258.9 L415.5 259.7 L416.0 260.0 L416.5 258.8 L417.1 255.6 L417.6 251.2 L418.1 246.8 L418.7 243.6 L419.2 242.4 L419.7 243.1 L420.2 245.0 L420.7 248.1 L421.2 252.0 L421.7 256.5 L422.3 261.1 L422.8 265.6 L423.3 269.5 L423.8 272.6 L424.3 274.5 L424.8 275.2 L425.3 274.1 L425.9 271.0 L426.4 266.2 L426.9 260.3 L427.5 254.1 L428.0 248.2 L428.5 243.4 L429.1 240.3 L429.6 239.2 L430.1 240.3 L430.7 243.3 L431.2 248.0 L431.7 253.7 L432.3 259.9 L432.8 265.6 L433.3 270.3 L433.9 273.3 L434.4 274.4 L434.9 273.3 L435.5 270.3 L436.0 265.6 L436.5 259.9 L437.1 253.7 L437.6 248.0 L438.1 243.3 L438.7 240.3 L439.2 239.2 L439.8 240.5 L440.3 244.1 L440.9 249.6 L441.4 256.0 L442.0 262.4 L442.6 267.9 L443.1 271.5 L443.7 272.8 L444.2 271.8 L444.7 269.1 L445.3 264.8 L445.8 259.6 L446.3 254.0 L446.9 248.8 L447.4 244.5 L447.9 241.8 L448.5 240.8 L449.0 241.7 L449.5 244.2 L450.1 248.0 L450.6 252.7 L451.1 257.7 L451.7 262.4 L452.2 266.2 L452.7 268.7 L453.3 269.6 L453.8 268.6 L454.4 265.9 L454.9 261.7 L455.4 256.8 L456.0 251.9 L456.5 247.7 L457.1 245.0 L457.6 244.0 L458.1 245.2 L458.7 248.4 L459.2 252.8 L459.7 257.2 L460.3 260.4 L460.8 261.6 L461.3 261.0 L461.9 259.1 L462.4 256.4 L463.0 253.2 L463.5 250.0 L464.0 247.3 L464.6 245.4 L465.1 244.8 L465.7 245.6 L466.2 248.0 L466.8 251.5 L467.4 255.6 L467.9 259.7 L468.5 263.2 L469.0 265.6 L469.6 266.4 L470.1 266.0 L470.7 264.8 L471.2 262.9 L471.8 260.6 L472.3 258.0 L472.9 255.4 L473.4 253.1 L474.0 251.2 L474.5 250.0 L475.0 249.6" stroke="#f00" stroke-width="1.1" stroke-dasharray="1.5 0.5"/>
<path d="M27.2 242.4 L27.8 244.4 L28.3 249.9 L28.9 257.9 L29.4 266.9 L30.0 274.9 L30.5 280.4 L31.1 282.4 L31.6 280.5 L32.1 275.0 L32.6 266.6 L33.1 256.3 L33.7 245.3 L34.2 235.0 L34.7 226.6 L35.2 221.1 L35.7 219.2 L36.2 222.1 L36.7 230.3 L37.2 242.7 L37.7 257.2 L38.2 271.7 L38.7 284.1 L39.2 292.3 L39.7 295.2 L40.3 292.5 L40.8 284.9 L41.4 273.5 L42.0 260.0 L42.5 246.5 L43.1 235.1 L43.6 227.5 L44.2 224.8 L44.8 226.6 L45.3 231.8 L45.9 239.6 L46.4 248.8 L47.0 258.0 L47.6 265.8 L48.1 271.0 L48.7 272.8 L49.2 271.5 L49.8 268.0 L50.3 262.8 L50.9 257.2 L51.4 252.0 L52.0 248.5 L52.5 247.2 L53.1 248.6 L53.7 252.2 L54.2 256.6 L54.8 260.2 L55.4 261.6 L55.9 260.9 L56.4 259.0 L56.9 256.3 L57.4 253.3 L57.9 250.6 L58.4 248.7 L58.9 248.0 L59.5 248.9 L60.0 251.3 L60.6 254.9 L61.2 259.2 L61.7 263.5 L62.3 267.1 L62.8 269.5 L63.4 270.4 L63.9 269.5 L64.5 266.8 L65.0 262.8 L65.5 257.8 L66.1 252.6 L66.6 247.6 L67.1 243.6 L67.7 240.9 L68.2 240.0 L68.8 241.1 L69.3 244.1 L69.9 248.6 L70.4 254.0 L71.0 259.4 L71.6 263.9 L72.1 266.9 L72.7 268.0 L73.2 267.2 L73.8 264.8 L74.3 261.3 L74.8 257.2 L75.4 253.1 L75.9 249.6 L76.5 247.2 L77.0 246.4 L77.5 247.1 L78.0 249.0 L78.5 251.8 L79.0 255.2 L79.5 258.6 L80.0 261.4 L80.5 263.3 L81.0 264.0 L81.5 263.3 L82.0 261.4 L82.5 258.6 L83.0 255.2 L83.5 251.8 L84.0 249.0 L84.5 247.1 L85.0 246.4 L85.5 247.1 L86.1 249.2 L86.6 252.4 L87.1 256.3 L87.7 260.5 L88.2 264.4 L88.7 267.6 L89.3 269.7 L89.8 270.4 L90.3 269.3 L90.9 266.3 L91.4 262.0 L91.9 257.2 L92.4 252.9 L93.0 249.9 L93.5 248.8 L94.0 252.2 L94.6 260.4 L95.2 268.6 L95.7 272.0 L96.2 270.6 L96.8 266.6 L97.3 260.8 L97.8 254.4 L98.3 248.6 L98.9 244.6 L99.4 243.2 L99.9 243.5 L100.4 244.5 L101.0 246.0 L101.5 248.0 L102.0 250.4 L102.5 253.0 L103.1 255.8 L103.6 258.4 L104.1 260.8 L104.6 262.8 L105.2 264.3 L105.7 265.3 L106.2 265.6 L106.7 264.9 L107.3 262.8 L107.8 259.6 L108.3 255.7 L108.9 251.5 L109.4 247.6 L109.9 244.4 L110.5 242.3 L111.0 241.6 L111.6 242.7 L112.1 245.7 L112.7 250.2 L113.2 255.6 L113.8 261.0 L114.4 265.5 L114.9 268.5 L115.5 269.6 L116.0 268.8 L116.5 266.5 L117.1 263.0 L117.6 258.7 L118.1 254.1 L118.7 249.8 L119.2 246.3 L119.7 244.0 L120.3 243.2 L120.8 244.0 L121.3 246.2 L121.9 249.6 L122.4 253.8 L122.9 258.2 L123.5 262.4 L124.0 265.8 L124.5 268.0 L125.1 268.8 L125.6 267.7 L126.2 264.6 L126.7 259.9 L127.2 254.4 L127.8 248.9 L128.3 244.2 L128.9 241.1 L129.4 240.0 L129.9 241.0 L130.5 243.7 L131.0 248.0 L131.5 253.2 L132.1 258.8 L132.6 264.0 L133.1 268.3 L133.7 271.0 L134.2 272.0 L134.7 271.2 L135.3 268.7 L135.8 265.0 L136.3 260.4 L136.9 255.6 L137.4 251.0 L137.9 247.3 L138.5 244.8 L139.0 244.0 L139.5 244.6 L140.1 246.2 L140.6 248.8 L141.1 252.0 L141.6 255.6 L142.2 259.2 L142.7 262.4 L143.2 265.0 L143.8 266.6 L144.3 267.2 L144.8 266.6 L145.4 264.7 L145.9 262.0 L146.4 258.8 L147.0 255.6 L147.5 252.9 L148.1 251.0 L148.6 250.4 L149.1 250.6 L149.6 251.2 L150.1 252.2 L150.6 253.4 L151.1 254.9 L151.7 256.3 L152.2 257.8 L152.7 259.0 L153.2 260.0 L153.7 260.6 L154.2 260.8 L154.8 260.4 L155.3 259.3 L155.9 257.6 L156.4 255.6 L157.0 253.6 L157.6 251.9 L158.1 250.8 L158.7 250.4 L159.2 250.7 L159.7 251.6 L160.2 253.0 L160.7 254.8 L161.2 256.8 L161.8 258.8 L162.3 260.6 L162.8 262.0 L163.3 262.9 L163.8 263.2 L164.4 262.6 L164.9 260.7 L165.5 258.0 L166.0 254.8 L166.6 251.6 L167.2 248.9 L167.7 247.0 L168.3 246.4 L168.8 247.4 L169.4 250.1 L169.9 254.3 L170.4 259.2 L171.0 264.1 L171.5 268.3 L172.1 271.0 L172.6 272.0 L173.1 270.5 L173.7 266.4 L174.2 260.1 L174.8 252.8 L175.3 245.5 L175.8 239.2 L176.4 235.1 L176.9 233.6 L177.4 235.5 L178.0 240.7 L178.5 248.7 L179.0 258.0 L179.5 267.3 L180.0 275.3 L180.6 280.5 L181.1 282.4 L181.6 280.7 L182.1 275.9 L182.7 268.6 L183.2 259.6 L183.7 250.0 L184.2 241.0 L184.8 233.7 L185.3 228.9 L185.8 227.2 L186.4 229.2 L186.9 234.8 L187.5 243.3 L188.0 253.2 L188.6 263.1 L189.2 271.6 L189.7 277.2 L190.3 279.2 L190.8 277.6 L191.4 273.2 L191.9 266.6 L192.4 258.8 L193.0 251.0 L193.5 244.4 L194.1 240.0 L194.6 238.4 L195.1 239.5 L195.6 242.6 L196.1 247.3 L196.6 252.8 L197.1 258.3 L197.6 263.0 L198.1 266.1 L198.6 267.2 L199.1 266.3 L199.6 263.8 L200.1 260.0 L200.6 255.6 L201.1 251.2 L201.6 247.4 L202.1 244.9 L202.6 244.0 L203.1 245.1 L203.6 248.3 L204.1 253.1 L204.6 258.8 L205.1 264.5 L205.6 269.3 L206.1 272.5 L206.6 273.6 L207.2 271.9 L207.7 267.0 L208.3 259.8 L208.8 251.2 L209.4 242.6 L210.0 235.4 L210.5 230.5 L211.1 228.8 L211.6 231.1 L212.1 237.7 L212.6 247.6 L213.1 259.2 L213.6 270.8 L214.1 280.7 L214.6 287.3 L215.1 289.6 L215.6 287.0 L216.1 279.4 L216.6 268.1 L217.1 254.8 L217.6 241.5 L218.1 230.2 L218.6 222.6 L219.1 220.0 L219.6 222.8 L220.1 230.7 L220.6 242.5 L221.1 256.4 L221.6 270.3 L222.1 282.1 L222.6 290.0 L223.1 292.8 L223.6 290.2 L224.1 282.7 L224.6 271.6 L225.1 258.4 L225.6 245.2 L226.1 234.1 L226.6 226.6 L227.1 224.0 L227.6 226.7 L228.2 234.4 L228.7 245.5 L229.3 257.7 L229.8 268.8 L230.4 276.5 L230.9 279.2 L231.4 277.3 L232.0 272.0 L232.5 264.3 L233.0 255.7 L233.5 248.0 L234.1 242.7 L234.6 240.8 L235.1 242.6 L235.7 247.6 L236.2 254.4 L236.7 261.2 L237.3 266.2 L237.8 268.0 L238.3 267.0 L238.8 264.0 L239.3 259.6 L239.8 254.4 L240.3 249.2 L240.8 244.8 L241.3 241.8 L241.8 240.8 L242.3 242.0 L242.8 245.3 L243.3 250.2 L243.8 256.0 L244.3 261.8 L244.8 266.7 L245.3 270.0 L245.8 271.2 L246.3 269.9 L246.8 266.2 L247.3 260.6 L247.8 254.0 L248.3 247.4 L248.8 241.8 L249.3 238.1 L249.8 236.8 L250.3 238.1 L250.9 241.7 L251.4 247.2 L252.0 253.6 L252.5 260.0 L253.0 265.5 L253.6 269.1 L254.1 270.4 L254.7 269.5 L255.2 266.9 L255.8 263.0 L256.4 258.4 L256.9 253.8 L257.5 249.9 L258.0 247.3 L258.6 246.4 L259.1 246.8 L259.6 248.0 L260.2 249.9 L260.7 252.2 L261.2 254.8 L261.7 257.4 L262.2 259.7 L262.8 261.6 L263.3 262.8 L263.8 263.2 L264.3 262.8 L264.9 261.5 L265.4 259.6 L265.9 257.3 L266.5 254.7 L267.0 252.4 L267.5 250.5 L268.1 249.2 L268.6 248.8 L269.1 249.3 L269.6 250.8 L270.1 253.0 L270.6 255.6 L271.1 258.2 L271.6 260.4 L272.1 261.9 L272.6 262.4 L273.1 261.6 L273.7 259.4 L274.2 256.2 L274.7 252.6 L275.2 249.4 L275.8 247.2 L276.3 246.4 L276.8 246.8 L277.4 248.1 L277.9 250.1 L278.4 252.7 L279.0 255.7 L279.5 258.7 L280.0 261.7 L280.6 264.3 L281.1 266.3 L281.7 267.6 L282.2 268.0 L282.7 267.1 L283.3 264.4 L283.8 260.3 L284.4 255.6 L284.9 250.9 L285.4 246.8 L286.0 244.1 L286.5 243.2 L287.0 244.3 L287.6 247.3 L288.1 251.8 L288.6 257.2 L289.1 262.6 L289.6 267.1 L290.2 270.1 L290.7 271.2 L291.2 269.5 L291.8 264.9 L292.3 258.1 L292.9 250.7 L293.4 243.9 L294.0 239.3 L294.5 237.6 L295.0 239.2 L295.6 243.7 L296.1 250.4 L296.6 258.4 L297.1 266.4 L297.6 273.1 L298.2 277.6 L298.7 279.2 L299.2 277.7 L299.7 273.3 L300.3 266.6 L300.8 258.4 L301.3 249.6 L301.9 241.4 L302.4 234.7 L302.9 230.3 L303.5 228.8 L304.0 230.6 L304.5 235.6 L305.1 243.4 L305.6 252.9 L306.1 263.1 L306.7 272.6 L307.2 280.4 L307.7 285.4 L308.3 287.2 L308.8 284.8 L309.4 277.8 L309.9 267.4 L310.4 255.2 L311.0 243.0 L311.5 232.6 L312.1 225.6 L312.6 223.2 L313.1 225.7 L313.7 232.7 L314.2 243.2 L314.8 255.6 L315.3 268.0 L315.8 278.5 L316.4 285.5 L316.9 288.0 L317.4 285.7 L318.0 279.3 L318.5 269.7 L319.0 258.4 L319.5 247.1 L320.0 237.5 L320.6 231.1 L321.1 228.8 L321.6 230.7 L322.2 235.9 L322.7 243.9 L323.2 253.2 L323.8 262.5 L324.3 270.5 L324.9 275.7 L325.4 277.6 L325.9 276.0 L326.5 271.6 L327.0 265.0 L327.6 257.2 L328.1 249.4 L328.6 242.8 L329.2 238.4 L329.7 236.8 L330.3 238.1 L330.8 242.0 L331.4 247.7 L332.0 254.4 L332.5 261.1 L333.1 266.8 L333.6 270.7 L334.2 272.0 L334.8 270.9 L335.3 267.7 L335.9 262.9 L336.4 257.2 L336.9 251.5 L337.5 246.7 L338.1 243.5 L338.6 242.4 L339.2 243.4 L339.7 246.3 L340.3 250.5 L340.8 255.6 L341.4 260.7 L342.0 264.9 L342.5 267.8 L343.1 268.8 L343.6 268.4 L344.1 267.4 L344.6 265.7 L345.1 263.5 L345.6 260.9 L346.1 257.9 L346.6 254.8 L347.1 251.7 L347.6 248.7 L348.1 246.1 L348.6 243.9 L349.1 242.2 L349.6 241.2 L350.1 240.8 L350.6 242.0 L351.2 245.5 L351.7 250.7 L352.2 256.8 L352.7 262.9 L353.2 268.1 L353.8 271.6 L354.3 272.8 L354.8 271.5 L355.4 267.6 L355.9 261.9 L356.4 255.2 L357.0 248.5 L357.5 242.8 L358.1 238.9 L358.6 237.6 L359.1 238.7 L359.7 241.8 L360.2 246.6 L360.7 252.5 L361.3 258.7 L361.8 264.6 L362.3 269.4 L362.9 272.5 L363.4 273.6 L363.9 272.6 L364.5 269.9 L365.0 265.6 L365.5 260.4 L366.1 254.8 L366.6 249.6 L367.1 245.3 L367.7 242.6 L368.2 241.6 L368.7 242.4 L369.3 244.7 L369.8 248.2 L370.3 252.5 L370.9 257.1 L371.4 261.4 L371.9 264.9 L372.5 267.2 L373.0 268.0 L373.5 267.5 L374.1 266.0 L374.6 263.6 L375.2 260.5 L375.7 257.0 L376.2 253.4 L376.8 249.9 L377.3 246.8 L377.8 244.4 L378.4 242.9 L378.9 242.4 L379.5 243.3 L380.0 246.0 L380.5 250.0 L381.1 255.0 L381.6 260.2 L382.1 265.2 L382.7 269.2 L383.2 271.9 L383.7 272.8 L384.3 271.8 L384.8 269.1 L385.3 264.8 L385.9 259.6 L386.4 254.0 L386.9 248.8 L387.5 244.5 L388.0 241.8 L388.5 240.8 L389.1 241.6 L389.6 244.0 L390.1 247.6 L390.7 252.0 L391.2 256.8 L391.7 261.2 L392.3 264.8 L392.8 267.2 L393.3 268.0 L393.9 266.8 L394.4 263.5 L395.0 258.6 L395.6 252.8 L396.1 247.0 L396.7 242.1 L397.2 238.8 L397.8 237.6 L398.4 239.1 L398.9 243.3 L399.5 249.7 L400.0 257.2 L400.6 264.7 L401.2 271.1 L401.7 275.3 L402.3 276.8 L402.8 275.3 L403.4 271.2 L403.9 264.9 L404.4 257.6 L405.0 250.3 L405.5 244.0 L406.1 239.9 L406.6 238.4 L407.1 239.7 L407.6 243.3 L408.1 248.8 L408.6 255.2 L409.1 261.6 L409.6 267.1 L410.1 270.7 L410.6 272.0 L411.1 270.9 L411.6 267.7 L412.1 262.9 L412.6 257.2 L413.1 251.5 L413.6 246.7 L414.1 243.5 L414.6 242.4 L415.2 244.3 L415.8 249.6 L416.3 256.8 L416.9 264.0 L417.5 269.3 L418.1 271.2 L418.6 269.9 L419.2 266.2 L419.7 260.6 L420.2 254.0 L420.8 247.4 L421.3 241.8 L421.9 238.1 L422.4 236.8 L422.9 238.3 L423.4 242.4 L423.9 248.7 L424.4 256.0 L424.9 263.3 L425.4 269.6 L425.9 273.7 L426.4 275.2 L426.9 273.9 L427.4 270.2 L427.9 264.6 L428.4 258.0 L428.9 251.4 L429.4 245.8 L429.9 242.1 L430.4 240.8 L430.9 241.5 L431.5 243.6 L432.0 246.8 L432.5 250.7 L433.1 254.9 L433.6 258.8 L434.1 262.0 L434.7 264.1 L435.2 264.8 L435.7 264.5 L436.3 263.7 L436.8 262.4 L437.3 260.8 L437.9 259.2 L438.4 257.6 L438.9 256.3 L439.5 255.5 L440.0 255.2 L440.5 255.3 L441.0 255.7 L441.6 256.0 L442.1 256.2 L442.6 255.5 L443.2 253.9 L443.7 251.9 L444.3 250.2 L444.8 249.6 L445.3 250.4 L445.9 252.5 L446.4 255.8 L447.0 259.6 L447.5 263.4 L448.0 266.7 L448.6 268.8 L449.1 269.6 L449.6 268.1 L450.2 263.9 L450.7 257.8 L451.2 251.0 L451.7 244.9 L452.3 240.7 L452.8 239.2 L453.3 240.3 L453.9 243.3 L454.4 247.8 L455.0 253.2 L455.5 258.6 L456.0 263.1 L456.6 266.1 L457.1 267.2 L457.7 266.6 L458.2 265.0 L458.8 262.5 L459.4 259.6 L459.9 256.7 L460.5 254.2 L461.0 252.6 L461.6 252.0 L462.2 252.7 L462.8 254.4 L463.4 256.1 L464.0 256.8 L464.6 256.0 L465.2 253.8 L465.7 251.0 L466.3 248.8 L466.9 248.0 L467.4 249.2 L468.0 252.7 L468.5 257.6 L469.1 263.2 L469.6 268.1 L470.2 271.6 L470.7 272.8 L471.3 271.4 L471.8 267.4 L472.3 261.4 L472.9 254.4 L473.4 247.4 L474.0 241.4 L474.5 237.4 L475.0 236.0" stroke="#00f" stroke-width="1.1" opacity="0.45"/>
<path d="M27.2 242.4 L27.8 244.4 L28.3 249.9 L28.9 257.9 L29.4 266.9 L30.0 274.9 L30.5 280.4 L31.1 282.4 L31.6 280.5 L32.1 275.0 L32.6 266.6 L33.1 256.3 L33.7 245.3 L34.2 235.0 L34.7 226.6 L35.2 221.1 L35.7 219.2 L36.2 222.1 L36.7 230.3 L37.2 242.7 L37.7 257.2 L38.2 271.7 L38.7 284.1 L39.2 292.3 L39.7 295.2 L40.3 292.5 L40.8 284.9 L41.4 273.5 L42.0 260.0 L42.5 246.5 L43.1 235.1 L43.6 227.5 L44.2 224.8 L44.8 226.6 L45.3 231.8 L45.9 239.6 L46.4 248.8 L47.0 258.0 L47.6 265.8 L48.1 271.0 L48.7 272.8 L49.2 271.5 L49.8 268.0 L50.3 262.8 L50.9 257.2 L51.4 252.0 L52.0 248.5 L52.5 247.2 L53.1 248.6 L53.7 252.2 L54.2 256.6 L54.8 260.2 L55.4 261.6 L55.9 260.9 L56.4 259.0 L56.9 256.3 L57.4 253.3 L57.9 250.6 L58.4 248.7 L58.9 248.0 L59.5 248.9 L60.0 251.3 L60.6 254.9 L61.2 259.2 L61.7 263.5 L62.3 267.1 L62.8 269.5 L63.4 270.4 L63.9 269.5 L64.5 266.8 L65.0 262.8 L65.5 257.8 L66.1 252.6 L66.6 247.6 L67.1 243.6 L67.7 240.9 L68.2 240.0 L68.8 241.1 L69.3 244.1 L69.9 248.6 L70.4 254.0 L71.0 259.4 L71.6 263.9 L72.1 266.9 L72.7 268.0 L73.2 267.2 L73.8 264.8 L74.3 261.3 L74.8 257.2 L75.4 253.1 L75.9 249.6 L76.5 247.2 L77.0 246.4 L77.5 247.1 L78.0 249.0 L78.5 251.8 L79.0 255.2 L79.5 258.6 L80.0 261.4 L80.5 263.3 L81.0 264.0 L81.5 263.3 L82.0 261.4 L82.5 258.6 L83.0 255.2 L83.5 251.8 L84.0 249.0 L84.5 247.1 L85.0 246.4 L85.5 247.1 L86.1 249.2 L86.6 252.4 L87.1 256.3 L87.7 260.5 L88.2 264.4 L88.7 267.6 L89.3 269.7 L89.8 270.4 L90.3 269.3 L90.9 266.3 L91.4 262.0 L91.9 257.2 L92.4 252.9 L93.0 249.9 L93.5 248.8 L94.0 252.2 L94.6 260.4 L95.2 268.6 L95.7 272.0 L96.2 270.6 L96.8 266.6 L97.3 260.8 L97.8 254.4 L98.3 248.6 L98.9 244.6 L99.4 243.2 L99.9 243.5 L100.4 244.5 L101.0 246.0 L101.5 248.0 L102.0 250.4 L102.5 253.0 L103.1 255.8 L103.6 258.4 L104.1 260.8 L104.6 262.8 L105.2 264.3 L105.7 265.3 L106.2 265.6 L106.7 264.9 L107.3 262.8 L107.8 259.6 L108.3 255.7 L108.9 251.5 L109.4 247.6 L109.9 244.4 L110.5 242.3 L111.0 241.6 L111.6 242.7 L112.1 245.7 L112.7 250.2 L113.2 255.6 L113.8 261.0 L114.4 265.5 L114.9 268.5 L115.5 269.6 L116.0 268.8 L116.5 266.5 L117.1 263.0 L117.6 258.7 L118.1 254.1 L118.7 249.8 L119.2 246.3 L119.7 244.0 L120.3 243.2 L120.8 244.0 L121.3 246.2 L121.9 249.6 L122.4 253.8 L122.9 258.2 L123.5 262.4 L124.0 265.8 L124.5 268.0 L125.1 268.8 L125.6 267.7 L126.2 264.6 L126.7 259.9 L127.2 254.4 L127.8 248.9 L128.3 244.2 L128.9 241.1 L129.4 240.0 L129.9 241.0 L130.5 243.7 L131.0 248.0 L131.5 253.2 L132.1 258.8 L132.6 264.0 L133.1 268.3 L133.7 271.0 L134.2 272.0 L134.7 271.2 L135.3 268.7 L135.8 265.0 L136.3 260.4 L136.9 255.6 L137.4 251.0 L137.9 247.3 L138.5 244.8 L139.0 244.0 L139.5 244.6 L140.1 246.2 L140.6 248.8 L141.1 252.0 L141.6 255.6 L142.2 259.2 L142.7 262.4 L143.2 265.0 L143.8 266.6 L144.3 267.2 L144.8 266.6 L145.4 264.7 L145.9 262.0 L146.4 258.8 L147.0 255.6 L147.5 252.9 L148.1 251.0 L148.6 250.4 L149.1 250.6 L149.6 251.2 L150.1 252.2 L150.6 253.4 L151.1 254.9 L151.7 256.3 L152.2 257.8 L152.7 259.0 L153.2 260.0 L153.7 260.6 L154.2 260.8 L154.8 260.4 L155.3 259.3 L155.9 257.6 L156.4 255.6 L157.0 253.6 L157.6 251.9 L158.1 250.8 L158.7 250.4 L159.2 250.7 L159.7 251.6 L160.2 253.0 L160.7 254.8 L161.2 256.8 L161.8 258.8 L162.3 260.6 L162.8 262.0 L163.3 262.9 L163.8 263.2 L164.4 262.6 L164.9 260.7 L165.5 258.0 L166.0 254.8 L166.6 251.6 L167.2 248.9 L167.7 247.0 L168.3 246.4 L168.8 247.4 L169.4 250.1 L169.9 254.3 L170.4 259.2 L171.0 264.1 L171.5 268.3 L172.1 271.0 L172.6 272.0 L173.1 270.5 L173.7 266.4 L174.2 260.1 L174.8 252.8 L175.3 245.5 L175.8 239.2 L176.4 235.1 L176.9 233.6 L177.4 235.5 L178.0 240.7 L178.5 248.7 L179.0 258.0 L179.5 267.3 L180.0 275.3 L180.6 280.5 L181.1 282.4 L181.6 280.7 L182.1 275.9 L182.7 268.6 L183.2 259.6 L183.7 250.0 L184.2 241.0 L184.8 233.7 L185.3 228.9 L185.8 227.2 L186.4 229.2 L186.9 234.8 L187.5 243.3 L188.0 253.2 L188.6 263.1 L189.2 271.6 L189.7 277.2 L190.3 279.2 L190.8 277.6 L191.4 273.2 L191.9 266.6 L192.4 258.8 L193.0 251.0 L193.5 244.4 L194.1 240.0 L194.6 238.4 L195.1 239.5 L195.6 242.6 L196.1 247.3 L196.6 252.8 L197.1 258.3 L197.6 263.0 L198.1 266.1 L198.6 267.2 L199.1 266.3 L199.6 263.8 L200.1 260.0 L200.6 255.6 L201.1 251.2 L201.6 247.4 L202.1 244.9 L202.6 244.0 L203.1 245.1 L203.6 248.3 L204.1 253.1 L204.6 258.8 L205.1 264.5 L205.6 269.3 L206.1 272.5 L206.6 273.6 L207.2 271.9 L207.7 267.0 L208.3 259.8 L208.8 251.2 L209.4 242.6 L210.0 235.4 L210.5 230.5 L211.1 228.8 L211.6 231.1 L212.1 237.7 L212.6 247.6 L213.1 259.2 L213.6 270.8 L214.1 280.7 L214.6 287.3 L215.1 289.6 L215.6 287.0 L216.1 279.4 L216.6 268.1 L217.1 254.8 L217.6 241.5 L218.1 230.2 L218.6 222.6 L219.1 220.0 L219.6 222.8 L220.1 230.7 L220.6 242.5 L221.1 256.4 L221.6 270.3 L222.1 282.1 L222.6 290.0 L223.1 292.8 L223.6 290.2 L224.1 282.7 L224.6 271.6 L225.1 258.4 L225.6 245.2 L226.1 234.1 L226.6 226.6 L227.1 224.0 L227.6 226.7 L228.2 234.4 L228.7 245.5 L229.3 257.7 L229.8 268.8 L230.4 276.5 L230.9 279.2 L231.4 277.3 L232.0 272.0 L232.5 264.3 L233.0 255.7 L233.5 248.0 L234.1 242.7 L234.6 240.8 L235.1 242.6 L235.7 247.6 L236.2 254.4 L236.7 261.2 L237.3 266.2 L237.8 268.0 L238.3 267.0 L238.8 264.0 L239.3 259.6 L239.8 254.4 L240.3 249.2 L240.8 244.8 L241.3 241.8 L241.8 240.8 L242.3 242.0 L242.8 245.3 L243.3 250.2 L243.8 256.0 L244.3 261.8 L244.8 266.7 L245.3 270.0 L245.8 271.2 L246.3 269.9 L246.8 266.2 L247.3 260.6 L247.8 254.0 L248.3 247.4 L248.8 241.8 L249.3 238.1 L249.8 236.8 L250.3 238.1 L250.9 241.7 L251.4 247.2 L252.0 253.6 L252.5 260.0 L253.0 265.5 L253.6 269.1 L254.1 270.4 L254.7 269.5 L255.2 266.9 L255.8 263.0 L256.4 258.4 L256.9 253.8 L257.5 249.9 L258.0 247.3 L258.6 246.4 L259.1 246.8 L259.6 248.0 L260.2 249.9 L260.7 252.2 L261.2 254.8 L261.7 257.4 L262.2 259.7 L262.8 261.6 L263.3 262.8 L263.8 263.2 L264.3 262.8 L264.9 261.5 L265.4 259.6 L265.9 257.3 L266.5 254.7 L267.0 252.4 L267.5 250.5 L268.1 249.2 L268.6 248.8 L269.1 249.3 L269.6 250.8 L270.1 253.0 L270.6 255.6 L271.1 258.2 L271.6 260.4 L272.1 261.9 L272.6 262.4 L273.1 261.6 L273.7 259.4 L274.2 256.2 L274.7 252.6 L275.2 249.4 L275.8 247.2 L276.3 246.4 L276.8 246.8 L277.4 248.1 L277.9 250.1 L278.4 252.7 L279.0 255.7 L279.5 258.7 L280.0 261.7 L280.6 264.3 L281.1 266.3 L281.7 267.6 L282.2 268.0 L282.7 267.1 L283.3 264.4 L283.8 260.3 L284.4 255.6 L284.9 250.9 L285.4 246.8 L286.0 244.1 L286.5 243.2 L287.0 244.3 L287.6 247.3 L288.1 251.8 L288.6 257.2 L289.1 262.6 L289.6 267.1 L290.2 270.1 L290.7 271.2 L291.2 269.5 L291.8 264.9 L292.3 258.1 L292.9 250.7 L293.4 243.9 L294.0 239.3 L294.5 237.6 L295.0 239.2 L295.6 243.7 L296.1 250.4 L296.6 258.4 L297.1 266.4 L297.6 273.1 L298.2 277.6 L298.7 279.2 L299.2 277.7 L299.7 273.3 L300.3 266.6 L300.8 258.4 L301.3 249.6 L301.9 241.4 L302.4 234.7 L302.9 230.3 L303.5 228.8 L304.0 230.6 L304.5 235.6 L305.1 243.4 L305.6 252.9 L306.1 263.1 L306.7 272.6 L307.2 280.4 L307.7 285.4 L308.3 287.2 L308.8 284.8 L309.4 277.8 L309.9 267.4 L310.4 255.2 L311.0 243.0 L311.5 232.6 L312.1 225.6 L312.6 223.2 L313.1 225.7 L313.7 232.7 L314.2 243.2 L314.8 255.6 L315.3 268.0 L315.8 278.5 L316.4 285.5 L316.9 288.0 L317.4 285.7 L318.0 279.3 L318.5 269.7 L319.0 258.4 L319.5 247.1 L320.0 237.5 L320.6 231.1 L321.1 228.8 L321.6 230.7 L322.2 235.9 L322.7 243.9 L323.2 253.2 L323.8 262.5 L324.3 270.5 L324.9 275.7 L325.4 277.6 L325.9 276.0 L326.5 271.6 L327.0 265.0 L327.6 257.2 L328.1 249.4 L328.6 242.8 L329.2 238.4 L329.7 236.8 L330.3 238.1 L330.8 242.0 L331.4 247.7 L332.0 254.4 L332.5 261.1 L333.1 266.8 L333.6 270.7 L334.2 272.0 L334.8 270.9 L335.3 267.7 L335.9 262.9 L336.4 257.2 L336.9 251.5 L337.5 246.7 L338.1 243.5 L338.6 242.4 L339.2 243.4 L339.7 246.3 L340.3 250.5 L340.8 255.6 L341.4 260.7 L342.0 264.9 L342.5 267.8 L343.1 268.8 L343.6 268.4 L344.1 267.4 L344.6 265.7 L345.1 263.5 L345.6 260.9 L346.1 257.9 L346.6 254.8 L347.1 251.7 L347.6 248.7 L348.1 246.1 L348.6 243.9 L349.1 242.2 L349.6 241.2 L350.1 240.8 L350.6 242.0 L351.2 245.5 L351.7 250.7 L352.2 256.8 L352.7 262.9 L353.2 268.1 L353.8 271.6 L354.3 272.8 L354.8 271.5 L355.4 267.6 L355.9 261.9 L356.4 255.2 L357.0 248.5 L357.5 242.8 L358.1 238.9 L358.6 237.6 L359.1 238.7 L359.7 241.8 L360.2 246.6 L360.7 252.5 L361.3 258.7 L361.8 264.6 L362.3 269.4 L362.9 272.5 L363.4 273.6 L363.9 272.6 L364.5 269.9 L365.0 265.6 L365.5 260.4 L366.1 254.8 L366.6 249.6 L367.1 245.3 L367.7 242.6 L368.2 241.6 L368.7 242.4 L369.3 244.7 L369.8 248.2 L370.3 252.5 L370.9 257.1 L371.4 261.4 L371.9 264.9 L372.5 267.2 L373.0 268.0 L373.5 267.5 L374.1 266.0 L374.6 263.6 L375.2 260.5 L375.7 257.0 L376.2 253.4 L376.8 249.9 L377.3 246.8 L377.8 244.4 L378.4 242.9 L378.9 242.4 L379.5 243.3 L380.0 246.0 L380.5 250.0 L381.1 255.0 L381.6 260.2 L382.1 265.2 L382.7 269.2 L383.2 271.9 L383.7 272.8 L384.3 271.8 L384.8 269.1 L385.3 264.8 L385.9 259.6 L386.4 254.0 L386.9 248.8 L387.5 244.5 L388.0 241.8 L388.5 240.8 L389.1 241.6 L389.6 244.0 L390.1 247.6 L390.7 252.0 L391.2 256.8 L391.7 261.2 L392.3 264.8 L392.8 267.2 L393.3 268.0 L393.9 266.8 L394.4 263.5 L395.0 258.6 L395.6 252.8 L396.1 247.0 L396.7 242.1 L397.2 238.8 L397.8 237.6 L398.4 239.1 L398.9 243.3 L399.5 249.7 L400.0 257.2 L400.6 264.7 L401.2 271.1 L401.7 275.3 L402.3 276.8 L402.8 275.3 L403.4 271.2 L403.9 264.9 L404.4 257.6 L405.0 250.3 L405.5 244.0 L406.1 239.9 L406.6 238.4 L407.1 239.7 L407.6 243.3 L408.1 248.8 L408.6 255.2 L409.1 261.6 L409.6 267.1 L410.1 270.7 L410.6 272.0 L411.1 270.9 L411.6 267.7 L412.1 262.9 L412.6 257.2 L413.1 251.5 L413.6 246.7 L414.1 243.5 L414.6 242.4 L415.2 244.3 L415.8 249.6 L416.3 256.8 L416.9 264.0 L417.5 269.3 L418.1 271.2 L418.6 269.9 L419.2 266.2 L419.7 260.6 L420.2 254.0 L420.8 247.4 L421.3 241.8 L421.9 238.1 L422.4 236.8 L422.9 238.3 L423.4 242.4 L423.9 248.7 L424.4 256.0 L424.9 263.3 L425.4 269.6 L425.9 273.7 L426.4 275.2 L426.9 273.9 L427.4 270.2 L427.9 264.6 L428.4 258.0 L428.9 251.4 L429.4 245.8 L429.9 242.1 L430.4 240.8 L430.9 241.5 L431.5 243.6 L432.0 246.8 L432.5 250.7 L433.1 254.9 L433.6 258.8 L434.1 262.0 L434.7 264.1 L435.2 264.8 L435.7 264.5 L436.3 263.7 L436.8 262.4 L437.3 260.8 L437.9 259.2 L438.4 257.6 L438.9 256.3 L439.5 255.5 L440.0 255.2 L440.5 255.3 L441.0 255.7 L441.6 256.0 L442.1 256.2 L442.6 255.5 L443.2 253.9 L443.7 251.9 L444.3 250.2 L444.8 249.6 L445.3 250.4 L445.9 252.5 L446.4 255.8 L447.0 259.6 L447.5 263.4 L448.0 266.7 L448.6 268.8 L449.1 269.6 L449.6 268.1 L450.2 263.9 L450.7 257.8 L451.2 251.0 L451.7 244.9 L452.3 240.7 L452.8 239.2 L453.3 240.3 L453.9 243.3 L454.4 247.8 L455.0 253.2 L455.5 258.6 L456.0 263.1 L456.6 266.1 L457.1 267.2 L457.7 266.6 L458.2 265.0 L458.8 262.5 L459.4 259.6 L459.9 256.7 L460.5 254.2 L461.0 252.6 L461.6 252.0 L462.2 252.7 L462.8 254.4 L463.4 256.1 L464.0 256.8 L464.6 256.0 L465.2 253.8 L465.7 251.0 L466.3 248.8 L466.9 248.0 L467.4 249.2 L468.0 252.7 L468.5 257.6 L469.1 263.2 L469.6 268.1 L470.2 271.6 L470.7 272.8 L471.3 271.4 L471.8 267.4 L472.3 261.4 L472.9 254.4 L473.4 247.4 L474.0 241.4 L474.5 237.4 L475.0 236.0" stroke="#00f" stroke-width="1.1" stroke-dasharray="3.8 1.1"/>
</g>
<path d="M26.9 193.1V319.1H475.3" fill="none" stroke="#333" stroke-width="0.95"/>
<path d="M26.9 193.4H475.3V319.1" fill="none" stroke="#333" stroke-width="0.7"/>
<text x="11.4" y="321.15" class="tk" textLength="11.9" lengthAdjust="spacingAndGlyphs">−10</text>
<text x="15.5" y="289.73" class="tk" textLength="7.8" lengthAdjust="spacingAndGlyphs">−5</text>
<text x="19.2" y="258.3" class="tk" textLength="4.1" lengthAdjust="spacingAndGlyphs">0</text>
<text x="19.2" y="226.88" class="tk" textLength="4.1" lengthAdjust="spacingAndGlyphs">5</text>
<text x="15.1" y="195.45" class="tk" textLength="8.2" lengthAdjust="spacingAndGlyphs">10</text>
<text x="26.9" y="327" text-anchor="middle" class="tk" textLength="16.2" lengthAdjust="spacingAndGlyphs">2500</text>
<text x="116.58" y="327" text-anchor="middle" class="tk" textLength="16.2" lengthAdjust="spacingAndGlyphs">2600</text>
<text x="206.26" y="327" text-anchor="middle" class="tk" textLength="16.2" lengthAdjust="spacingAndGlyphs">2700</text>
<text x="295.94" y="327" text-anchor="middle" class="tk" textLength="16.2" lengthAdjust="spacingAndGlyphs">2800</text>
<text x="385.62" y="327" text-anchor="middle" class="tk" textLength="16.2" lengthAdjust="spacingAndGlyphs">2900</text>
<text x="475.3" y="327" text-anchor="middle" class="tk" textLength="16.2" lengthAdjust="spacingAndGlyphs">3000</text>
<path d="M26.9 319.1 h3.0M26.9 287.68 h3.0M26.9 256.25 h3.0M26.9 224.83 h3.0M26.9 193.4 h3.0M26.9 303.39 h1.7M26.9 271.96 h1.7M26.9 240.54 h1.7M26.9 209.11 h1.7M26.9 319.1 v-2.6M71.74 319.1 v-1.6M116.58 319.1 v-2.6M161.42 319.1 v-1.6M206.26 319.1 v-2.6M251.1 319.1 v-1.6M295.94 319.1 v-2.6M340.78 319.1 v-1.6M385.62 319.1 v-2.6M430.46 319.1 v-1.6M475.3 319.1 v-2.6" stroke="#333" stroke-width="0.7" fill="none"/>
<text x="247.2" y="333.7" class="al" textLength="8.6" lengthAdjust="spacingAndGlyphs">t/s</text>
<text transform="translate(12.7 255) rotate(-90) scale(1 1.25)" text-anchor="middle" class="al">ξ<tspan dy="1.3" font-size="4.6px">4</tspan><tspan dy="-1.3">/°</tspan></text>
<rect x="379.5" y="193.4" width="95.8" height="25.5" fill="#fff" stroke="#333" stroke-width="0.9"/>
<path d="M380.2 197.8 H397.7" stroke="#111" stroke-width="0.8"/>
<text x="402.5" y="200.3" class="lg" font-size="6.71px" textLength="45.0" lengthAdjust="spacingAndGlyphs">ITTC spectra</text>
<path d="M380.2 206.2 H397.7" stroke="#f00" stroke-width="0.8" stroke-dasharray="3.67 4.55 3.67 4.46 1.14 30"/>
<text x="402.5" y="208.7" class="lg" font-size="6.71px" textLength="65.4" lengthAdjust="spacingAndGlyphs">JONSWAP spectra</text>
<path d="M380.2 214.3 H397.7" stroke="#00f" stroke-width="0.8" stroke-dasharray="3.67 4.55 3.67 4.46 1.14 30"/>
<text x="402.5" y="216.8" class="lg" font-size="6.71px" textLength="70.6" lengthAdjust="spacingAndGlyphs">Ochi-Hubble spectra</text>
<text x="236.6" y="355.8" class="cap" textLength="16.6" lengthAdjust="spacingAndGlyphs">(b)</text>
<g fill="none" stroke-linejoin="round">
<path d="M29.8 439.8 L30.3 440.3 L30.9 441.6 L31.5 443.5 L32.0 445.6 L32.6 447.6 L33.2 448.9 L33.7 449.4 L34.3 449.1 L34.8 448.3 L35.3 447.1 L35.9 445.5 L36.4 443.7 L36.9 441.7 L37.4 439.7 L38.0 437.9 L38.5 436.3 L39.0 435.1 L39.6 434.3 L40.1 434.1 L40.6 434.5 L41.1 435.5 L41.6 437.2 L42.1 439.4 L42.6 441.7 L43.1 444.1 L43.7 446.2 L44.2 447.9 L44.7 449.0 L45.2 449.4 L45.7 448.9 L46.2 447.8 L46.7 445.9 L47.2 443.6 L47.7 441.1 L48.2 438.5 L48.7 436.2 L49.2 434.4 L49.8 433.2 L50.3 432.8 L50.8 433.7 L51.4 436.3 L51.9 440.3 L52.5 444.9 L53.0 449.5 L53.6 453.4 L54.2 456.1 L54.7 457.0 L55.3 456.1 L55.8 453.5 L56.3 449.5 L56.9 444.6 L57.4 439.4 L57.9 434.6 L58.5 430.6 L59.0 428.0 L59.5 427.1 L60.1 428.0 L60.6 430.7 L61.1 434.7 L61.6 439.7 L62.2 445.0 L62.7 450.0 L63.2 454.0 L63.7 456.7 L64.3 457.6 L64.8 456.8 L65.3 454.3 L65.8 450.5 L66.4 445.8 L66.9 440.8 L67.4 436.1 L67.9 432.3 L68.4 429.9 L69.0 429.0 L69.5 429.8 L70.0 432.3 L70.6 436.0 L71.1 440.6 L71.7 445.4 L72.2 450.0 L72.7 453.7 L73.3 456.1 L73.8 457.0 L74.4 456.0 L74.9 453.3 L75.5 449.1 L76.0 444.3 L76.6 439.4 L77.1 435.3 L77.7 432.5 L78.2 431.5 L78.8 432.2 L79.4 434.2 L79.9 437.2 L80.5 440.8 L81.0 444.3 L81.6 447.3 L82.2 449.3 L82.7 450.0 L83.3 449.3 L83.8 447.5 L84.3 444.8 L84.9 441.8 L85.4 439.1 L86.0 437.3 L86.5 436.6 L87.0 437.4 L87.5 439.4 L88.1 442.5 L88.6 446.2 L89.1 449.8 L89.6 452.9 L90.1 455.0 L90.6 455.7 L91.2 454.2 L91.7 450.0 L92.3 443.8 L92.8 437.0 L93.4 430.9 L93.9 426.7 L94.5 425.2 L95.0 427.0 L95.5 432.0 L96.1 439.3 L96.6 447.3 L97.2 454.6 L97.7 459.6 L98.3 461.4 L98.8 460.2 L99.3 456.6 L99.8 451.2 L100.4 444.9 L100.9 438.6 L101.4 433.2 L101.9 429.6 L102.5 428.4 L103.0 429.8 L103.6 433.7 L104.1 439.5 L104.6 445.9 L105.2 451.6 L105.7 455.6 L106.3 457.0 L106.8 456.0 L107.3 453.3 L107.8 449.3 L108.3 444.6 L108.8 439.8 L109.3 435.8 L109.8 433.1 L110.4 432.2 L110.9 432.9 L111.4 435.0 L112.0 438.1 L112.5 441.5 L113.1 444.6 L113.6 446.7 L114.2 447.4 L114.7 447.1 L115.2 446.2 L115.7 444.7 L116.2 442.8 L116.7 440.8 L117.2 438.7 L117.7 436.8 L118.2 435.4 L118.8 434.4 L119.3 434.1 L119.8 434.7 L120.3 436.4 L120.8 439.0 L121.3 442.0 L121.8 445.1 L122.3 447.7 L122.8 449.4 L123.3 450.0 L123.9 449.5 L124.4 448.2 L124.9 446.3 L125.4 443.9 L126.0 441.6 L126.5 439.7 L127.0 438.4 L127.5 437.9 L128.1 438.3 L128.6 439.5 L129.2 441.1 L129.7 443.0 L130.3 444.6 L130.8 445.8 L131.3 446.2 L131.9 445.7 L132.4 444.5 L133.0 442.7 L133.5 440.7 L134.1 438.9 L134.6 437.7 L135.2 437.3 L135.7 437.7 L136.3 439.1 L136.8 441.0 L137.3 443.1 L137.9 445.0 L138.4 446.3 L139.0 446.8 L139.5 446.1 L140.0 444.1 L140.6 441.4 L141.1 438.7 L141.6 436.7 L142.2 436.0 L142.7 436.6 L143.3 438.4 L143.8 440.9 L144.3 443.8 L144.9 446.3 L145.4 448.1 L146.0 448.7 L146.5 448.3 L147.0 447.3 L147.6 445.9 L148.1 444.4 L148.6 443.4 L149.2 443.0 L149.7 442.8 L150.2 442.3 L150.8 441.4 L151.3 440.4 L151.8 439.2 L152.4 438.0 L152.9 436.9 L153.5 436.1 L154.0 435.5 L154.5 435.4 L155.1 436.4 L155.6 439.3 L156.1 443.3 L156.7 447.3 L157.2 450.2 L157.7 451.3 L158.3 450.4 L158.8 447.9 L159.4 444.3 L159.9 440.4 L160.5 436.8 L161.0 434.3 L161.5 433.4 L162.1 434.1 L162.6 436.1 L163.2 438.9 L163.7 442.0 L164.3 444.8 L164.8 446.7 L165.4 447.4 L165.9 447.0 L166.5 445.6 L167.0 443.5 L167.6 441.1 L168.1 438.6 L168.7 436.6 L169.3 435.2 L169.8 434.7 L170.4 435.6 L170.9 438.2 L171.5 442.0 L172.0 446.5 L172.6 451.0 L173.1 454.8 L173.7 457.4 L174.3 458.2 L174.8 456.9 L175.3 453.2 L175.8 447.6 L176.4 441.1 L176.9 434.5 L177.4 428.9 L177.9 425.2 L178.5 423.9 L179.0 425.4 L179.5 429.6 L180.0 435.9 L180.5 443.3 L181.0 450.7 L181.5 457.0 L182.0 461.2 L182.5 462.7 L183.0 461.4 L183.6 457.5 L184.1 451.7 L184.6 444.9 L185.1 438.1 L185.6 432.3 L186.1 428.4 L186.6 427.1 L187.1 428.2 L187.7 431.6 L188.2 436.5 L188.7 442.3 L189.2 448.2 L189.8 453.1 L190.3 456.5 L190.8 457.6 L191.3 457.0 L191.8 455.1 L192.4 452.1 L192.9 448.3 L193.4 444.0 L193.9 439.5 L194.4 435.1 L195.0 431.3 L195.5 428.3 L196.0 426.5 L196.5 425.8 L197.1 427.3 L197.6 431.4 L198.2 437.4 L198.7 444.1 L199.3 450.1 L199.8 454.2 L200.3 455.7 L200.9 454.9 L201.4 452.6 L201.9 449.2 L202.4 445.2 L202.9 441.2 L203.4 437.8 L203.9 435.5 L204.4 434.7 L205.0 435.8 L205.5 438.7 L206.1 442.9 L206.6 447.6 L207.1 451.8 L207.7 454.7 L208.2 455.7 L208.7 454.6 L209.2 451.5 L209.8 446.8 L210.3 441.0 L210.8 434.8 L211.3 429.0 L211.8 424.3 L212.3 421.2 L212.8 420.1 L213.4 422.7 L214.0 430.0 L214.5 440.6 L215.1 452.4 L215.7 463.0 L216.2 470.3 L216.8 472.9 L217.3 471.2 L217.8 466.2 L218.3 458.6 L218.8 449.2 L219.3 439.3 L219.9 429.9 L220.4 422.3 L220.9 417.4 L221.4 415.6 L221.9 417.8 L222.5 423.8 L223.0 432.4 L223.6 442.1 L224.1 450.7 L224.7 456.7 L225.2 458.9 L225.8 457.4 L226.3 453.3 L226.9 447.8 L227.5 442.2 L228.1 438.1 L228.6 436.6 L229.2 437.4 L229.7 439.6 L230.2 442.7 L230.8 445.7 L231.3 447.9 L231.8 448.7 L232.3 447.6 L232.9 444.7 L233.4 440.8 L233.9 436.8 L234.5 433.9 L235.0 432.8 L235.5 433.6 L236.1 435.8 L236.7 439.1 L237.2 443.0 L237.8 446.9 L238.3 450.2 L238.9 452.4 L239.4 453.2 L240.0 452.5 L240.6 450.6 L241.1 447.7 L241.7 444.3 L242.2 440.9 L242.8 438.0 L243.3 436.0 L243.9 435.4 L244.4 436.0 L245.0 437.9 L245.5 440.5 L246.1 443.5 L246.6 446.2 L247.2 448.0 L247.7 448.7 L248.2 447.9 L248.8 445.8 L249.3 443.0 L249.8 440.1 L250.4 438.0 L250.9 437.3 L251.4 437.8 L252.0 439.2 L252.5 441.2 L253.1 443.5 L253.6 445.5 L254.2 446.9 L254.7 447.4 L255.2 446.9 L255.8 445.5 L256.3 443.6 L256.8 441.7 L257.4 440.3 L257.9 439.8 L258.5 440.3 L259.0 441.6 L259.6 443.3 L260.2 445.1 L260.8 446.3 L261.3 446.8 L261.8 446.2 L262.3 444.6 L262.9 442.3 L263.4 439.8 L263.9 437.5 L264.4 435.9 L264.9 435.4 L265.4 435.8 L266.0 437.1 L266.5 439.1 L267.1 441.2 L267.6 443.1 L268.2 444.4 L268.7 444.9 L269.3 444.5 L269.8 443.2 L270.3 441.4 L270.9 439.5 L271.4 437.7 L272.0 436.4 L272.5 436.0 L273.1 437.0 L273.7 439.6 L274.3 443.3 L274.8 447.0 L275.4 449.6 L276.0 450.6 L276.5 449.8 L277.1 447.6 L277.6 444.6 L278.1 441.6 L278.6 439.3 L279.2 438.5 L279.7 439.0 L280.2 440.1 L280.8 441.7 L281.3 443.3 L281.8 444.5 L282.4 444.9 L282.9 444.6 L283.4 443.8 L283.9 442.8 L284.4 442.0 L284.9 441.7 L285.4 442.2 L286.0 443.5 L286.5 445.2 L287.0 447.0 L287.6 448.2 L288.1 448.7 L288.6 448.2 L289.2 446.7 L289.8 444.4 L290.3 441.7 L290.9 439.0 L291.4 436.8 L292.0 435.3 L292.5 434.7 L293.1 435.5 L293.7 437.8 L294.2 441.2 L294.8 445.2 L295.3 449.2 L295.9 452.6 L296.4 454.9 L297.0 455.7 L297.5 454.6 L298.1 451.6 L298.7 447.1 L299.2 441.7 L299.8 436.4 L300.3 431.8 L300.9 428.8 L301.4 427.7 L302.0 428.9 L302.5 432.2 L303.0 437.1 L303.5 443.0 L304.0 448.8 L304.5 453.8 L305.0 457.1 L305.5 458.2 L306.1 456.7 L306.6 452.3 L307.2 445.9 L307.7 438.8 L308.2 432.4 L308.8 428.0 L309.3 426.4 L309.8 428.2 L310.3 433.3 L310.9 440.5 L311.4 448.6 L311.9 455.9 L312.4 460.9 L312.9 462.7 L313.4 460.7 L314.0 454.9 L314.5 446.6 L315.1 437.4 L315.6 429.1 L316.2 423.4 L316.7 421.4 L317.3 423.3 L317.8 428.8 L318.3 436.7 L318.9 445.5 L319.4 453.4 L320.0 458.8 L320.5 460.8 L321.1 459.3 L321.6 455.1 L322.2 448.9 L322.7 442.1 L323.3 436.0 L323.8 431.8 L324.4 430.3 L324.9 431.5 L325.4 434.9 L325.9 439.5 L326.5 444.1 L327.0 447.5 L327.5 448.7 L328.1 447.8 L328.6 445.4 L329.1 442.0 L329.6 438.7 L330.2 436.2 L330.7 435.4 L331.2 436.4 L331.7 439.4 L332.2 443.8 L332.7 448.6 L333.3 452.9 L333.8 455.9 L334.3 457.0 L334.8 455.4 L335.4 450.9 L336.0 444.9 L336.6 438.9 L337.1 434.4 L337.7 432.8 L338.2 433.4 L338.7 435.0 L339.2 437.3 L339.8 440.1 L340.3 442.9 L340.8 445.3 L341.3 446.9 L341.8 447.4 L342.3 447.1 L342.8 446.1 L343.3 444.9 L343.9 444.0 L344.4 443.6 L344.9 444.1 L345.4 445.4 L345.9 447.0 L346.4 448.2 L346.9 448.7 L347.5 447.9 L348.0 445.5 L348.6 442.0 L349.1 437.9 L349.7 433.8 L350.2 430.2 L350.8 427.9 L351.4 427.1 L351.9 428.6 L352.4 432.8 L352.9 439.1 L353.5 446.5 L354.0 453.9 L354.5 460.2 L355.0 464.4 L355.6 465.9 L356.1 464.2 L356.6 459.3 L357.1 451.9 L357.6 443.3 L358.1 434.7 L358.6 427.3 L359.1 422.4 L359.6 420.7 L360.2 422.2 L360.7 426.6 L361.3 433.1 L361.9 440.8 L362.4 448.4 L363.0 454.9 L363.5 459.3 L364.1 460.8 L364.6 459.6 L365.1 456.1 L365.7 451.0 L366.2 444.9 L366.7 438.8 L367.2 433.6 L367.8 430.2 L368.3 429.0 L368.8 429.9 L369.3 432.6 L369.8 436.8 L370.4 441.9 L370.9 447.3 L371.4 452.4 L371.9 456.5 L372.5 459.2 L373.0 460.2 L373.5 458.8 L374.0 454.8 L374.6 449.0 L375.1 442.0 L375.6 435.1 L376.1 429.2 L376.7 425.3 L377.2 423.9 L377.7 425.1 L378.2 428.4 L378.7 433.3 L379.2 439.2 L379.7 445.0 L380.2 450.0 L380.8 453.3 L381.3 454.4 L381.8 454.2 L382.3 453.5 L382.8 452.4 L383.3 451.0 L383.8 449.2 L384.3 447.2 L384.8 445.0 L385.3 442.8 L385.8 440.7 L386.3 438.7 L386.9 436.9 L387.4 435.5 L387.9 434.4 L388.4 433.7 L388.9 433.4 L389.4 434.6 L390.0 437.6 L390.5 442.1 L391.1 447.1 L391.6 451.5 L392.2 454.6 L392.7 455.7 L393.3 454.5 L393.8 451.2 L394.3 446.3 L394.9 440.9 L395.4 436.1 L396.0 432.7 L396.5 431.5 L397.1 432.9 L397.7 436.6 L398.3 441.7 L398.8 446.8 L399.4 450.5 L400.0 451.9 L400.5 451.0 L401.1 448.4 L401.6 444.9 L402.1 441.4 L402.6 438.8 L403.2 437.9 L403.7 439.1 L404.2 442.1 L404.7 445.8 L405.2 448.8 L405.7 450.0 L406.3 448.8 L406.9 445.7 L407.4 441.4 L408.0 437.1 L408.6 434.0 L409.2 432.8 L409.7 433.7 L410.2 436.1 L410.7 439.7 L411.3 443.9 L411.8 448.2 L412.3 451.8 L412.8 454.2 L413.4 455.1 L413.9 454.6 L414.4 453.2 L414.9 451.0 L415.4 448.3 L415.9 445.2 L416.4 442.2 L416.9 439.4 L417.4 437.2 L417.9 435.8 L418.4 435.4 L419.0 435.7 L419.5 436.7 L420.0 438.3 L420.6 440.4 L421.1 442.9 L421.6 445.5 L422.2 448.2 L422.7 450.6 L423.2 452.7 L423.8 454.3 L424.3 455.4 L424.8 455.7 L425.3 454.9 L425.9 452.5 L426.4 448.9 L426.9 444.4 L427.4 439.7 L427.9 435.2 L428.5 431.6 L429.0 429.2 L429.5 428.4 L430.0 429.2 L430.5 431.7 L431.0 435.5 L431.6 440.2 L432.1 445.2 L432.6 449.8 L433.1 453.6 L433.6 456.1 L434.1 457.0 L434.6 456.0 L435.1 453.1 L435.6 448.7 L436.1 443.6 L436.6 438.5 L437.2 434.2 L437.7 431.3 L438.2 430.3 L438.7 431.1 L439.3 433.4 L439.8 436.9 L440.4 441.1 L441.0 445.2 L441.5 448.7 L442.1 451.1 L442.6 451.9 L443.2 451.4 L443.7 450.1 L444.3 448.2 L444.8 446.1 L445.3 444.1 L445.9 442.8 L446.4 442.4 L446.9 442.6 L447.5 443.2 L448.0 444.0 L448.5 444.7 L449.0 444.9 L449.6 444.4 L450.2 443.1 L450.7 441.6 L451.3 440.3 L451.9 439.8 L452.5 440.3 L453.0 441.7 L453.5 443.8 L454.1 446.0 L454.6 448.1 L455.2 449.5 L455.7 450.0 L456.2 449.3 L456.7 447.2 L457.3 444.1 L457.8 440.4 L458.3 436.8 L458.8 433.7 L459.3 431.6 L459.8 430.9 L460.3 431.4 L460.8 432.9 L461.3 435.3 L461.8 438.4 L462.3 442.0 L462.9 445.8 L463.4 449.7 L463.9 453.3 L464.4 456.4 L464.9 458.8 L465.4 460.3 L465.9 460.8 L466.4 459.3 L466.9 454.8 L467.4 448.2 L467.9 440.4 L468.5 432.7 L469.0 426.1 L469.5 421.6 L470.0 420.1 L470.5 421.7 L471.1 426.3 L471.7 433.2 L472.2 441.4 L472.8 449.6 L473.3 456.5 L473.9 461.1 L474.4 462.7" stroke="#1a1a1a" stroke-width="1.3"/>
<path d="M29.8 438.5 L30.3 439.8 L30.8 443.1 L31.4 447.3 L31.9 450.6 L32.5 451.9 L33.0 451.6 L33.5 450.6 L34.0 449.0 L34.5 446.9 L35.0 444.3 L35.6 441.5 L36.1 438.5 L36.6 435.6 L37.1 432.7 L37.6 430.2 L38.1 428.1 L38.7 426.5 L39.2 425.5 L39.7 425.2 L40.2 426.6 L40.8 430.7 L41.3 436.8 L41.8 443.9 L42.3 451.1 L42.9 457.2 L43.4 461.3 L43.9 462.7 L44.4 461.4 L45.0 457.7 L45.5 452.1 L46.0 445.5 L46.5 439.0 L47.0 433.4 L47.6 429.7 L48.1 428.4 L48.6 429.1 L49.1 431.2 L49.7 434.4 L50.2 438.3 L50.7 442.5 L51.2 446.5 L51.8 449.7 L52.3 451.8 L52.8 452.5 L53.3 452.1 L53.9 450.7 L54.4 448.5 L54.9 445.6 L55.4 442.4 L55.9 439.1 L56.5 435.9 L57.0 433.1 L57.5 430.9 L58.0 429.5 L58.5 429.0 L59.0 429.8 L59.5 432.3 L60.1 436.2 L60.6 441.1 L61.1 446.5 L61.6 451.9 L62.1 456.8 L62.6 460.6 L63.1 463.1 L63.6 464.0 L64.2 462.1 L64.7 456.9 L65.3 449.1 L65.8 439.8 L66.4 430.6 L67.0 422.7 L67.5 417.5 L68.1 415.6 L68.6 417.7 L69.2 423.7 L69.7 432.7 L70.3 443.3 L70.9 453.9 L71.4 462.9 L72.0 468.9 L72.5 471.0 L73.1 469.4 L73.6 465.0 L74.1 458.3 L74.7 450.0 L75.2 441.1 L75.8 432.8 L76.3 426.0 L76.8 421.6 L77.4 420.1 L77.9 421.1 L78.4 424.1 L78.9 428.7 L79.5 434.3 L80.0 440.2 L80.5 445.9 L81.0 450.4 L81.5 453.4 L82.1 454.4 L82.6 454.2 L83.1 453.3 L83.6 452.0 L84.1 450.2 L84.7 448.1 L85.2 445.8 L85.7 443.4 L86.2 441.1 L86.7 439.0 L87.3 437.2 L87.8 435.8 L88.3 435.0 L88.8 434.7 L89.3 435.1 L89.8 436.4 L90.3 438.3 L90.8 440.7 L91.3 443.3 L91.8 446.0 L92.3 448.4 L92.8 450.3 L93.3 451.5 L93.8 451.9 L94.3 451.1 L94.8 448.9 L95.3 445.6 L95.9 441.7 L96.4 437.8 L96.9 434.5 L97.4 432.3 L97.9 431.5 L98.4 432.5 L98.9 435.3 L99.5 439.4 L100.0 444.3 L100.5 449.1 L101.0 453.3 L101.6 456.0 L102.1 457.0 L102.6 456.0 L103.1 453.1 L103.7 448.7 L104.2 443.6 L104.7 438.5 L105.2 434.2 L105.8 431.3 L106.3 430.3 L106.8 430.7 L107.3 432.1 L107.9 434.3 L108.4 437.1 L109.0 440.1 L109.5 443.2 L110.0 445.9 L110.6 448.1 L111.1 449.5 L111.6 450.0 L112.2 449.7 L112.7 448.9 L113.2 447.6 L113.7 445.9 L114.3 443.9 L114.8 441.6 L115.3 439.2 L115.8 436.8 L116.4 434.5 L116.9 432.4 L117.4 430.7 L118.0 429.4 L118.5 428.6 L119.0 428.4 L119.6 430.0 L120.1 434.6 L120.6 441.2 L121.2 448.6 L121.7 455.2 L122.3 459.8 L122.8 461.4 L123.3 460.2 L123.8 456.7 L124.3 451.4 L124.9 445.2 L125.4 439.0 L125.9 433.7 L126.4 430.2 L126.9 429.0 L127.4 429.4 L128.0 430.4 L128.5 432.2 L129.0 434.4 L129.6 437.0 L130.1 439.8 L130.6 442.6 L131.1 445.2 L131.7 447.5 L132.2 449.2 L132.7 450.3 L133.3 450.6 L133.8 450.2 L134.3 448.8 L134.8 446.7 L135.3 443.9 L135.9 440.8 L136.4 437.5 L136.9 434.4 L137.4 431.7 L137.9 429.5 L138.5 428.2 L139.0 427.7 L139.5 429.4 L140.1 434.2 L140.6 441.1 L141.2 448.7 L141.7 455.6 L142.3 460.4 L142.8 462.1 L143.3 460.6 L143.8 456.4 L144.3 450.1 L144.8 442.7 L145.3 435.2 L145.9 429.0 L146.4 424.7 L146.9 423.3 L147.4 424.7 L147.9 428.9 L148.4 435.1 L149.0 442.4 L149.5 449.7 L150.0 455.9 L150.5 460.0 L151.1 461.4 L151.6 459.6 L152.1 454.5 L152.7 447.1 L153.2 438.9 L153.7 431.5 L154.3 426.4 L154.8 424.5 L155.3 426.4 L155.8 431.7 L156.3 439.4 L156.8 447.9 L157.3 455.5 L157.9 460.8 L158.4 462.7 L158.9 460.8 L159.4 455.4 L159.9 447.6 L160.4 439.0 L160.9 431.2 L161.4 425.8 L161.9 423.9 L162.5 425.7 L163.0 430.6 L163.6 437.8 L164.1 445.7 L164.6 452.8 L165.2 457.8 L165.7 459.5 L166.3 458.1 L166.8 454.0 L167.4 448.2 L167.9 441.6 L168.5 435.8 L169.0 431.7 L169.6 430.3 L170.1 431.2 L170.7 433.9 L171.3 437.6 L171.8 441.2 L172.4 443.9 L173.0 444.9 L173.5 444.6 L174.1 443.7 L174.7 442.3 L175.2 440.8 L175.8 439.2 L176.3 437.8 L176.9 436.9 L177.4 436.6 L178.0 437.1 L178.5 438.5 L179.0 440.4 L179.6 442.4 L180.1 443.7 L180.6 444.3 L181.2 443.5 L181.8 441.6 L182.4 439.3 L183.0 437.4 L183.6 436.6 L184.1 437.8 L184.7 440.8 L185.2 444.5 L185.8 447.6 L186.3 448.7 L186.9 448.0 L187.4 446.1 L188.0 443.3 L188.5 440.2 L189.1 437.4 L189.6 435.4 L190.2 434.7 L190.7 435.2 L191.2 436.4 L191.7 438.4 L192.2 440.9 L192.7 443.6 L193.2 446.4 L193.7 448.9 L194.2 450.8 L194.8 452.1 L195.3 452.5 L195.8 452.0 L196.3 450.5 L196.9 448.2 L197.4 445.4 L197.9 442.4 L198.5 439.6 L199.0 437.4 L199.6 435.9 L200.1 435.4 L200.6 435.7 L201.1 436.7 L201.7 438.2 L202.2 440.1 L202.7 442.1 L203.2 443.9 L203.8 445.5 L204.3 446.5 L204.8 446.8 L205.3 446.7 L205.8 446.3 L206.4 445.7 L206.9 444.8 L207.4 443.8 L207.9 442.7 L208.4 441.4 L208.9 440.1 L209.5 438.8 L210.0 437.6 L210.5 436.4 L211.0 435.4 L211.5 434.6 L212.0 434.0 L212.6 433.6 L213.1 433.4 L213.6 434.8 L214.2 438.3 L214.8 442.6 L215.3 446.1 L215.9 447.4 L216.5 446.2 L217.2 443.6 L217.8 442.4 L218.3 443.3 L218.8 445.9 L219.3 449.0 L219.9 451.6 L220.4 452.5 L220.9 451.5 L221.5 448.4 L222.0 443.9 L222.6 438.5 L223.1 433.2 L223.7 428.6 L224.3 425.6 L224.8 424.5 L225.4 426.0 L225.9 430.1 L226.5 436.3 L227.0 443.6 L227.6 450.9 L228.2 457.1 L228.7 461.3 L229.3 462.7 L229.8 461.4 L230.4 457.5 L230.9 451.7 L231.5 444.9 L232.1 438.1 L232.6 432.3 L233.2 428.4 L233.7 427.1 L234.2 427.8 L234.7 429.8 L235.2 433.0 L235.8 437.0 L236.3 441.4 L236.8 445.8 L237.3 449.8 L237.8 453.0 L238.3 455.0 L238.8 455.7 L239.4 454.7 L239.9 451.7 L240.5 447.3 L241.0 442.0 L241.6 436.8 L242.1 432.4 L242.7 429.4 L243.3 428.4 L243.8 429.4 L244.3 432.5 L244.8 437.0 L245.3 442.4 L245.8 447.7 L246.3 452.3 L246.8 455.3 L247.3 456.4 L247.8 455.4 L248.4 452.6 L248.9 448.7 L249.4 444.3 L249.9 440.3 L250.4 437.6 L250.9 436.6 L251.4 437.2 L252.0 438.7 L252.5 440.8 L253.1 443.2 L253.6 445.4 L254.2 446.9 L254.7 447.4 L255.2 447.1 L255.8 446.0 L256.3 444.6 L256.8 443.2 L257.4 442.1 L257.9 441.7 L258.4 442.6 L258.9 444.8 L259.4 447.5 L259.9 449.8 L260.4 450.6 L261.0 448.4 L261.6 442.7 L262.2 435.6 L262.8 429.9 L263.4 427.7 L263.9 428.9 L264.4 432.4 L264.9 437.5 L265.4 443.6 L265.9 449.7 L266.4 454.9 L266.9 458.3 L267.4 459.5 L268.0 458.0 L268.5 453.9 L269.1 447.9 L269.6 441.3 L270.2 435.3 L270.7 431.1 L271.2 429.6 L271.8 430.6 L272.3 433.5 L272.9 437.5 L273.4 442.1 L274.0 446.1 L274.5 449.0 L275.1 450.0 L275.6 448.8 L276.2 445.6 L276.8 441.7 L277.3 438.5 L277.9 437.3 L278.4 438.3 L279.0 441.1 L279.5 444.9 L280.0 448.7 L280.6 451.5 L281.1 452.5 L281.6 451.7 L282.1 449.4 L282.6 445.9 L283.1 441.7 L283.6 437.6 L284.1 434.1 L284.7 431.7 L285.2 430.9 L285.7 431.7 L286.2 434.2 L286.7 437.8 L287.3 442.0 L287.8 446.3 L288.3 449.9 L288.8 452.3 L289.4 453.2 L289.9 452.5 L290.5 450.7 L291.0 448.0 L291.5 445.0 L292.1 442.3 L292.6 440.5 L293.2 439.8 L293.8 441.1 L294.4 443.6 L295.1 444.9 L295.6 444.4 L296.1 443.1 L296.7 441.4 L297.2 439.6 L297.7 438.4 L298.3 437.9 L298.8 438.6 L299.4 440.5 L299.9 443.3 L300.4 446.5 L301.0 449.3 L301.5 451.2 L302.1 451.9 L302.6 451.2 L303.2 449.1 L303.7 446.0 L304.3 442.4 L304.9 438.7 L305.4 435.6 L306.0 433.5 L306.5 432.8 L307.0 433.7 L307.6 436.3 L308.1 440.0 L308.6 444.1 L309.1 447.8 L309.6 450.3 L310.1 451.3 L310.6 450.3 L311.2 447.8 L311.7 444.1 L312.3 440.0 L312.8 436.3 L313.4 433.7 L313.9 432.8 L314.4 433.5 L314.9 435.5 L315.4 438.5 L315.9 442.0 L316.5 445.6 L317.0 448.6 L317.5 450.6 L318.0 451.3 L318.5 450.2 L319.1 447.3 L319.7 442.8 L320.2 437.6 L320.8 432.3 L321.3 427.9 L321.9 424.9 L322.4 423.9 L323.0 425.8 L323.5 431.0 L324.1 438.5 L324.6 446.8 L325.2 454.4 L325.7 459.6 L326.2 461.4 L326.8 460.2 L327.3 456.6 L327.8 451.2 L328.4 444.9 L328.9 438.6 L329.4 433.2 L329.9 429.6 L330.4 428.4 L331.0 429.2 L331.5 431.7 L332.0 435.4 L332.5 439.8 L333.0 444.2 L333.5 447.9 L334.0 450.4 L334.5 451.3 L335.1 450.5 L335.6 448.4 L336.1 445.4 L336.7 442.1 L337.2 439.1 L337.7 437.0 L338.2 436.2 L338.8 437.9 L339.4 441.8 L340.0 445.8 L340.5 447.4 L341.1 446.8 L341.6 445.2 L342.1 443.0 L342.7 440.8 L343.2 439.1 L343.7 438.5 L344.3 439.2 L344.8 440.9 L345.4 443.5 L345.9 446.3 L346.5 448.9 L347.0 450.6 L347.5 451.3 L348.1 450.5 L348.6 448.3 L349.2 445.1 L349.7 441.5 L350.3 438.3 L350.8 436.1 L351.4 435.4 L351.9 436.4 L352.4 439.3 L353.0 443.3 L353.5 447.3 L354.0 450.2 L354.5 451.3 L355.1 450.1 L355.6 446.8 L356.2 442.1 L356.7 436.9 L357.3 432.2 L357.8 428.9 L358.4 427.7 L358.9 429.0 L359.5 432.5 L360.0 437.7 L360.6 443.9 L361.1 450.1 L361.7 455.4 L362.3 458.9 L362.8 460.2 L363.3 458.9 L363.9 455.5 L364.4 450.3 L364.9 444.3 L365.4 438.2 L366.0 433.0 L366.5 429.6 L367.0 428.4 L367.6 429.4 L368.1 432.3 L368.6 436.6 L369.2 441.7 L369.7 446.8 L370.2 451.2 L370.8 454.1 L371.3 455.1 L371.9 454.4 L372.4 452.3 L372.9 449.2 L373.5 445.3 L374.0 441.3 L374.6 437.4 L375.1 434.3 L375.6 432.2 L376.2 431.5 L376.7 432.4 L377.3 434.9 L377.8 438.6 L378.4 443.0 L379.0 447.4 L379.5 451.1 L380.1 453.6 L380.6 454.4 L381.1 453.6 L381.7 451.1 L382.2 447.4 L382.7 443.0 L383.2 438.6 L383.8 434.9 L384.3 432.4 L384.8 431.5 L385.4 432.6 L385.9 435.6 L386.5 439.9 L387.0 444.8 L387.5 449.1 L388.1 452.1 L388.6 453.2 L389.1 452.5 L389.7 450.6 L390.2 447.7 L390.7 444.3 L391.2 440.9 L391.7 438.0 L392.2 436.0 L392.7 435.4 L393.3 436.1 L393.8 438.1 L394.3 441.0 L394.9 444.3 L395.4 447.2 L396.0 449.3 L396.5 450.0 L397.0 449.2 L397.6 446.9 L398.1 443.3 L398.6 438.9 L399.2 434.3 L399.7 429.9 L400.2 426.4 L400.7 424.1 L401.3 423.3 L401.8 424.8 L402.3 429.2 L402.8 435.8 L403.3 443.6 L403.8 451.4 L404.3 458.0 L404.8 462.4 L405.3 464.0 L405.9 461.9 L406.4 456.1 L406.9 447.3 L407.4 436.9 L408.0 426.6 L408.5 417.8 L409.0 412.0 L409.5 409.9 L410.1 413.0 L410.6 421.5 L411.2 433.9 L411.7 447.6 L412.3 460.0 L412.8 468.6 L413.4 471.6 L413.9 468.1 L414.5 458.4 L415.1 445.2 L415.6 432.0 L416.2 422.3 L416.8 418.8 L417.3 421.3 L417.9 428.3 L418.4 438.3 L419.0 449.5 L419.5 459.6 L420.1 466.6 L420.6 469.1 L421.2 466.5 L421.7 459.4 L422.2 449.0 L422.8 437.6 L423.3 427.2 L423.9 420.1 L424.4 417.5 L424.9 418.8 L425.4 422.5 L426.0 428.0 L426.5 434.9 L427.0 442.2 L427.5 449.0 L428.0 454.6 L428.5 458.3 L429.0 459.5 L429.5 458.7 L430.1 456.2 L430.6 452.3 L431.1 447.4 L431.7 442.0 L432.2 436.6 L432.7 431.8 L433.3 427.9 L433.8 425.4 L434.4 424.5 L434.9 426.0 L435.5 430.2 L436.0 436.5 L436.6 443.9 L437.1 451.4 L437.7 457.7 L438.2 461.9 L438.8 463.3 L439.3 462.2 L439.8 458.7 L440.4 453.5 L440.9 447.0 L441.4 440.2 L441.9 433.8 L442.5 428.5 L443.0 425.1 L443.5 423.9 L444.0 425.3 L444.6 429.1 L445.1 434.9 L445.6 441.7 L446.1 448.5 L446.7 454.3 L447.2 458.2 L447.7 459.5 L448.2 458.3 L448.8 454.9 L449.3 449.7 L449.8 443.6 L450.3 437.5 L450.9 432.4 L451.4 428.9 L451.9 427.7 L452.4 428.6 L453.0 431.3 L453.5 435.4 L454.0 440.3 L454.5 445.6 L455.1 450.6 L455.6 454.7 L456.1 457.3 L456.6 458.2 L457.2 457.1 L457.7 453.7 L458.3 448.6 L458.8 442.7 L459.4 436.7 L460.0 431.6 L460.5 428.3 L461.1 427.1 L461.6 428.6 L462.2 432.8 L462.7 439.0 L463.3 445.7 L463.8 451.9 L464.4 456.1 L464.9 457.6 L465.4 456.6 L465.9 453.6 L466.4 449.2 L466.9 443.9 L467.4 438.7 L468.0 434.3 L468.5 431.3 L469.0 430.3 L469.5 430.6 L470.0 431.7 L470.6 433.4 L471.1 435.7 L471.6 438.2 L472.2 440.8 L472.7 443.3 L473.2 445.5 L473.8 447.2 L474.3 448.3 L474.8 448.7" stroke="#f00" stroke-width="1.1" opacity="0.45"/>
<path d="M29.8 438.5 L30.3 439.8 L30.8 443.1 L31.4 447.3 L31.9 450.6 L32.5 451.9 L33.0 451.6 L33.5 450.6 L34.0 449.0 L34.5 446.9 L35.0 444.3 L35.6 441.5 L36.1 438.5 L36.6 435.6 L37.1 432.7 L37.6 430.2 L38.1 428.1 L38.7 426.5 L39.2 425.5 L39.7 425.2 L40.2 426.6 L40.8 430.7 L41.3 436.8 L41.8 443.9 L42.3 451.1 L42.9 457.2 L43.4 461.3 L43.9 462.7 L44.4 461.4 L45.0 457.7 L45.5 452.1 L46.0 445.5 L46.5 439.0 L47.0 433.4 L47.6 429.7 L48.1 428.4 L48.6 429.1 L49.1 431.2 L49.7 434.4 L50.2 438.3 L50.7 442.5 L51.2 446.5 L51.8 449.7 L52.3 451.8 L52.8 452.5 L53.3 452.1 L53.9 450.7 L54.4 448.5 L54.9 445.6 L55.4 442.4 L55.9 439.1 L56.5 435.9 L57.0 433.1 L57.5 430.9 L58.0 429.5 L58.5 429.0 L59.0 429.8 L59.5 432.3 L60.1 436.2 L60.6 441.1 L61.1 446.5 L61.6 451.9 L62.1 456.8 L62.6 460.6 L63.1 463.1 L63.6 464.0 L64.2 462.1 L64.7 456.9 L65.3 449.1 L65.8 439.8 L66.4 430.6 L67.0 422.7 L67.5 417.5 L68.1 415.6 L68.6 417.7 L69.2 423.7 L69.7 432.7 L70.3 443.3 L70.9 453.9 L71.4 462.9 L72.0 468.9 L72.5 471.0 L73.1 469.4 L73.6 465.0 L74.1 458.3 L74.7 450.0 L75.2 441.1 L75.8 432.8 L76.3 426.0 L76.8 421.6 L77.4 420.1 L77.9 421.1 L78.4 424.1 L78.9 428.7 L79.5 434.3 L80.0 440.2 L80.5 445.9 L81.0 450.4 L81.5 453.4 L82.1 454.4 L82.6 454.2 L83.1 453.3 L83.6 452.0 L84.1 450.2 L84.7 448.1 L85.2 445.8 L85.7 443.4 L86.2 441.1 L86.7 439.0 L87.3 437.2 L87.8 435.8 L88.3 435.0 L88.8 434.7 L89.3 435.1 L89.8 436.4 L90.3 438.3 L90.8 440.7 L91.3 443.3 L91.8 446.0 L92.3 448.4 L92.8 450.3 L93.3 451.5 L93.8 451.9 L94.3 451.1 L94.8 448.9 L95.3 445.6 L95.9 441.7 L96.4 437.8 L96.9 434.5 L97.4 432.3 L97.9 431.5 L98.4 432.5 L98.9 435.3 L99.5 439.4 L100.0 444.3 L100.5 449.1 L101.0 453.3 L101.6 456.0 L102.1 457.0 L102.6 456.0 L103.1 453.1 L103.7 448.7 L104.2 443.6 L104.7 438.5 L105.2 434.2 L105.8 431.3 L106.3 430.3 L106.8 430.7 L107.3 432.1 L107.9 434.3 L108.4 437.1 L109.0 440.1 L109.5 443.2 L110.0 445.9 L110.6 448.1 L111.1 449.5 L111.6 450.0 L112.2 449.7 L112.7 448.9 L113.2 447.6 L113.7 445.9 L114.3 443.9 L114.8 441.6 L115.3 439.2 L115.8 436.8 L116.4 434.5 L116.9 432.4 L117.4 430.7 L118.0 429.4 L118.5 428.6 L119.0 428.4 L119.6 430.0 L120.1 434.6 L120.6 441.2 L121.2 448.6 L121.7 455.2 L122.3 459.8 L122.8 461.4 L123.3 460.2 L123.8 456.7 L124.3 451.4 L124.9 445.2 L125.4 439.0 L125.9 433.7 L126.4 430.2 L126.9 429.0 L127.4 429.4 L128.0 430.4 L128.5 432.2 L129.0 434.4 L129.6 437.0 L130.1 439.8 L130.6 442.6 L131.1 445.2 L131.7 447.5 L132.2 449.2 L132.7 450.3 L133.3 450.6 L133.8 450.2 L134.3 448.8 L134.8 446.7 L135.3 443.9 L135.9 440.8 L136.4 437.5 L136.9 434.4 L137.4 431.7 L137.9 429.5 L138.5 428.2 L139.0 427.7 L139.5 429.4 L140.1 434.2 L140.6 441.1 L141.2 448.7 L141.7 455.6 L142.3 460.4 L142.8 462.1 L143.3 460.6 L143.8 456.4 L144.3 450.1 L144.8 442.7 L145.3 435.2 L145.9 429.0 L146.4 424.7 L146.9 423.3 L147.4 424.7 L147.9 428.9 L148.4 435.1 L149.0 442.4 L149.5 449.7 L150.0 455.9 L150.5 460.0 L151.1 461.4 L151.6 459.6 L152.1 454.5 L152.7 447.1 L153.2 438.9 L153.7 431.5 L154.3 426.4 L154.8 424.5 L155.3 426.4 L155.8 431.7 L156.3 439.4 L156.8 447.9 L157.3 455.5 L157.9 460.8 L158.4 462.7 L158.9 460.8 L159.4 455.4 L159.9 447.6 L160.4 439.0 L160.9 431.2 L161.4 425.8 L161.9 423.9 L162.5 425.7 L163.0 430.6 L163.6 437.8 L164.1 445.7 L164.6 452.8 L165.2 457.8 L165.7 459.5 L166.3 458.1 L166.8 454.0 L167.4 448.2 L167.9 441.6 L168.5 435.8 L169.0 431.7 L169.6 430.3 L170.1 431.2 L170.7 433.9 L171.3 437.6 L171.8 441.2 L172.4 443.9 L173.0 444.9 L173.5 444.6 L174.1 443.7 L174.7 442.3 L175.2 440.8 L175.8 439.2 L176.3 437.8 L176.9 436.9 L177.4 436.6 L178.0 437.1 L178.5 438.5 L179.0 440.4 L179.6 442.4 L180.1 443.7 L180.6 444.3 L181.2 443.5 L181.8 441.6 L182.4 439.3 L183.0 437.4 L183.6 436.6 L184.1 437.8 L184.7 440.8 L185.2 444.5 L185.8 447.6 L186.3 448.7 L186.9 448.0 L187.4 446.1 L188.0 443.3 L188.5 440.2 L189.1 437.4 L189.6 435.4 L190.2 434.7 L190.7 435.2 L191.2 436.4 L191.7 438.4 L192.2 440.9 L192.7 443.6 L193.2 446.4 L193.7 448.9 L194.2 450.8 L194.8 452.1 L195.3 452.5 L195.8 452.0 L196.3 450.5 L196.9 448.2 L197.4 445.4 L197.9 442.4 L198.5 439.6 L199.0 437.4 L199.6 435.9 L200.1 435.4 L200.6 435.7 L201.1 436.7 L201.7 438.2 L202.2 440.1 L202.7 442.1 L203.2 443.9 L203.8 445.5 L204.3 446.5 L204.8 446.8 L205.3 446.7 L205.8 446.3 L206.4 445.7 L206.9 444.8 L207.4 443.8 L207.9 442.7 L208.4 441.4 L208.9 440.1 L209.5 438.8 L210.0 437.6 L210.5 436.4 L211.0 435.4 L211.5 434.6 L212.0 434.0 L212.6 433.6 L213.1 433.4 L213.6 434.8 L214.2 438.3 L214.8 442.6 L215.3 446.1 L215.9 447.4 L216.5 446.2 L217.2 443.6 L217.8 442.4 L218.3 443.3 L218.8 445.9 L219.3 449.0 L219.9 451.6 L220.4 452.5 L220.9 451.5 L221.5 448.4 L222.0 443.9 L222.6 438.5 L223.1 433.2 L223.7 428.6 L224.3 425.6 L224.8 424.5 L225.4 426.0 L225.9 430.1 L226.5 436.3 L227.0 443.6 L227.6 450.9 L228.2 457.1 L228.7 461.3 L229.3 462.7 L229.8 461.4 L230.4 457.5 L230.9 451.7 L231.5 444.9 L232.1 438.1 L232.6 432.3 L233.2 428.4 L233.7 427.1 L234.2 427.8 L234.7 429.8 L235.2 433.0 L235.8 437.0 L236.3 441.4 L236.8 445.8 L237.3 449.8 L237.8 453.0 L238.3 455.0 L238.8 455.7 L239.4 454.7 L239.9 451.7 L240.5 447.3 L241.0 442.0 L241.6 436.8 L242.1 432.4 L242.7 429.4 L243.3 428.4 L243.8 429.4 L244.3 432.5 L244.8 437.0 L245.3 442.4 L245.8 447.7 L246.3 452.3 L246.8 455.3 L247.3 456.4 L247.8 455.4 L248.4 452.6 L248.9 448.7 L249.4 444.3 L249.9 440.3 L250.4 437.6 L250.9 436.6 L251.4 437.2 L252.0 438.7 L252.5 440.8 L253.1 443.2 L253.6 445.4 L254.2 446.9 L254.7 447.4 L255.2 447.1 L255.8 446.0 L256.3 444.6 L256.8 443.2 L257.4 442.1 L257.9 441.7 L258.4 442.6 L258.9 444.8 L259.4 447.5 L259.9 449.8 L260.4 450.6 L261.0 448.4 L261.6 442.7 L262.2 435.6 L262.8 429.9 L263.4 427.7 L263.9 428.9 L264.4 432.4 L264.9 437.5 L265.4 443.6 L265.9 449.7 L266.4 454.9 L266.9 458.3 L267.4 459.5 L268.0 458.0 L268.5 453.9 L269.1 447.9 L269.6 441.3 L270.2 435.3 L270.7 431.1 L271.2 429.6 L271.8 430.6 L272.3 433.5 L272.9 437.5 L273.4 442.1 L274.0 446.1 L274.5 449.0 L275.1 450.0 L275.6 448.8 L276.2 445.6 L276.8 441.7 L277.3 438.5 L277.9 437.3 L278.4 438.3 L279.0 441.1 L279.5 444.9 L280.0 448.7 L280.6 451.5 L281.1 452.5 L281.6 451.7 L282.1 449.4 L282.6 445.9 L283.1 441.7 L283.6 437.6 L284.1 434.1 L284.7 431.7 L285.2 430.9 L285.7 431.7 L286.2 434.2 L286.7 437.8 L287.3 442.0 L287.8 446.3 L288.3 449.9 L288.8 452.3 L289.4 453.2 L289.9 452.5 L290.5 450.7 L291.0 448.0 L291.5 445.0 L292.1 442.3 L292.6 440.5 L293.2 439.8 L293.8 441.1 L294.4 443.6 L295.1 444.9 L295.6 444.4 L296.1 443.1 L296.7 441.4 L297.2 439.6 L297.7 438.4 L298.3 437.9 L298.8 438.6 L299.4 440.5 L299.9 443.3 L300.4 446.5 L301.0 449.3 L301.5 451.2 L302.1 451.9 L302.6 451.2 L303.2 449.1 L303.7 446.0 L304.3 442.4 L304.9 438.7 L305.4 435.6 L306.0 433.5 L306.5 432.8 L307.0 433.7 L307.6 436.3 L308.1 440.0 L308.6 444.1 L309.1 447.8 L309.6 450.3 L310.1 451.3 L310.6 450.3 L311.2 447.8 L311.7 444.1 L312.3 440.0 L312.8 436.3 L313.4 433.7 L313.9 432.8 L314.4 433.5 L314.9 435.5 L315.4 438.5 L315.9 442.0 L316.5 445.6 L317.0 448.6 L317.5 450.6 L318.0 451.3 L318.5 450.2 L319.1 447.3 L319.7 442.8 L320.2 437.6 L320.8 432.3 L321.3 427.9 L321.9 424.9 L322.4 423.9 L323.0 425.8 L323.5 431.0 L324.1 438.5 L324.6 446.8 L325.2 454.4 L325.7 459.6 L326.2 461.4 L326.8 460.2 L327.3 456.6 L327.8 451.2 L328.4 444.9 L328.9 438.6 L329.4 433.2 L329.9 429.6 L330.4 428.4 L331.0 429.2 L331.5 431.7 L332.0 435.4 L332.5 439.8 L333.0 444.2 L333.5 447.9 L334.0 450.4 L334.5 451.3 L335.1 450.5 L335.6 448.4 L336.1 445.4 L336.7 442.1 L337.2 439.1 L337.7 437.0 L338.2 436.2 L338.8 437.9 L339.4 441.8 L340.0 445.8 L340.5 447.4 L341.1 446.8 L341.6 445.2 L342.1 443.0 L342.7 440.8 L343.2 439.1 L343.7 438.5 L344.3 439.2 L344.8 440.9 L345.4 443.5 L345.9 446.3 L346.5 448.9 L347.0 450.6 L347.5 451.3 L348.1 450.5 L348.6 448.3 L349.2 445.1 L349.7 441.5 L350.3 438.3 L350.8 436.1 L351.4 435.4 L351.9 436.4 L352.4 439.3 L353.0 443.3 L353.5 447.3 L354.0 450.2 L354.5 451.3 L355.1 450.1 L355.6 446.8 L356.2 442.1 L356.7 436.9 L357.3 432.2 L357.8 428.9 L358.4 427.7 L358.9 429.0 L359.5 432.5 L360.0 437.7 L360.6 443.9 L361.1 450.1 L361.7 455.4 L362.3 458.9 L362.8 460.2 L363.3 458.9 L363.9 455.5 L364.4 450.3 L364.9 444.3 L365.4 438.2 L366.0 433.0 L366.5 429.6 L367.0 428.4 L367.6 429.4 L368.1 432.3 L368.6 436.6 L369.2 441.7 L369.7 446.8 L370.2 451.2 L370.8 454.1 L371.3 455.1 L371.9 454.4 L372.4 452.3 L372.9 449.2 L373.5 445.3 L374.0 441.3 L374.6 437.4 L375.1 434.3 L375.6 432.2 L376.2 431.5 L376.7 432.4 L377.3 434.9 L377.8 438.6 L378.4 443.0 L379.0 447.4 L379.5 451.1 L380.1 453.6 L380.6 454.4 L381.1 453.6 L381.7 451.1 L382.2 447.4 L382.7 443.0 L383.2 438.6 L383.8 434.9 L384.3 432.4 L384.8 431.5 L385.4 432.6 L385.9 435.6 L386.5 439.9 L387.0 444.8 L387.5 449.1 L388.1 452.1 L388.6 453.2 L389.1 452.5 L389.7 450.6 L390.2 447.7 L390.7 444.3 L391.2 440.9 L391.7 438.0 L392.2 436.0 L392.7 435.4 L393.3 436.1 L393.8 438.1 L394.3 441.0 L394.9 444.3 L395.4 447.2 L396.0 449.3 L396.5 450.0 L397.0 449.2 L397.6 446.9 L398.1 443.3 L398.6 438.9 L399.2 434.3 L399.7 429.9 L400.2 426.4 L400.7 424.1 L401.3 423.3 L401.8 424.8 L402.3 429.2 L402.8 435.8 L403.3 443.6 L403.8 451.4 L404.3 458.0 L404.8 462.4 L405.3 464.0 L405.9 461.9 L406.4 456.1 L406.9 447.3 L407.4 436.9 L408.0 426.6 L408.5 417.8 L409.0 412.0 L409.5 409.9 L410.1 413.0 L410.6 421.5 L411.2 433.9 L411.7 447.6 L412.3 460.0 L412.8 468.6 L413.4 471.6 L413.9 468.1 L414.5 458.4 L415.1 445.2 L415.6 432.0 L416.2 422.3 L416.8 418.8 L417.3 421.3 L417.9 428.3 L418.4 438.3 L419.0 449.5 L419.5 459.6 L420.1 466.6 L420.6 469.1 L421.2 466.5 L421.7 459.4 L422.2 449.0 L422.8 437.6 L423.3 427.2 L423.9 420.1 L424.4 417.5 L424.9 418.8 L425.4 422.5 L426.0 428.0 L426.5 434.9 L427.0 442.2 L427.5 449.0 L428.0 454.6 L428.5 458.3 L429.0 459.5 L429.5 458.7 L430.1 456.2 L430.6 452.3 L431.1 447.4 L431.7 442.0 L432.2 436.6 L432.7 431.8 L433.3 427.9 L433.8 425.4 L434.4 424.5 L434.9 426.0 L435.5 430.2 L436.0 436.5 L436.6 443.9 L437.1 451.4 L437.7 457.7 L438.2 461.9 L438.8 463.3 L439.3 462.2 L439.8 458.7 L440.4 453.5 L440.9 447.0 L441.4 440.2 L441.9 433.8 L442.5 428.5 L443.0 425.1 L443.5 423.9 L444.0 425.3 L444.6 429.1 L445.1 434.9 L445.6 441.7 L446.1 448.5 L446.7 454.3 L447.2 458.2 L447.7 459.5 L448.2 458.3 L448.8 454.9 L449.3 449.7 L449.8 443.6 L450.3 437.5 L450.9 432.4 L451.4 428.9 L451.9 427.7 L452.4 428.6 L453.0 431.3 L453.5 435.4 L454.0 440.3 L454.5 445.6 L455.1 450.6 L455.6 454.7 L456.1 457.3 L456.6 458.2 L457.2 457.1 L457.7 453.7 L458.3 448.6 L458.8 442.7 L459.4 436.7 L460.0 431.6 L460.5 428.3 L461.1 427.1 L461.6 428.6 L462.2 432.8 L462.7 439.0 L463.3 445.7 L463.8 451.9 L464.4 456.1 L464.9 457.6 L465.4 456.6 L465.9 453.6 L466.4 449.2 L466.9 443.9 L467.4 438.7 L468.0 434.3 L468.5 431.3 L469.0 430.3 L469.5 430.6 L470.0 431.7 L470.6 433.4 L471.1 435.7 L471.6 438.2 L472.2 440.8 L472.7 443.3 L473.2 445.5 L473.8 447.2 L474.3 448.3 L474.8 448.7" stroke="#f00" stroke-width="1.1" stroke-dasharray="1.5 0.5"/>
<path d="M29.8 446.2 L30.3 445.7 L30.9 444.4 L31.5 442.5 L32.0 440.3 L32.6 438.4 L33.2 437.1 L33.7 436.6 L34.3 437.3 L34.8 439.1 L35.4 441.7 L36.0 444.9 L36.5 448.1 L37.1 450.7 L37.6 452.5 L38.2 453.2 L38.7 452.3 L39.3 449.8 L39.8 446.2 L40.4 442.3 L40.9 438.7 L41.4 436.2 L42.0 435.4 L42.5 435.9 L43.1 437.3 L43.6 439.3 L44.2 441.6 L44.7 443.6 L45.3 445.0 L45.8 445.5 L46.3 445.2 L46.8 444.2 L47.3 443.0 L47.9 442.1 L48.4 441.7 L48.9 442.8 L49.4 445.5 L49.9 448.8 L50.4 451.5 L50.9 452.5 L51.4 451.6 L51.9 448.9 L52.4 444.9 L52.9 440.1 L53.4 435.4 L54.0 431.4 L54.5 428.7 L55.0 427.7 L55.5 428.8 L56.0 432.0 L56.5 436.8 L57.1 442.4 L57.6 447.9 L58.1 452.7 L58.6 455.9 L59.2 457.0 L59.7 456.3 L60.2 454.4 L60.7 451.3 L61.2 447.5 L61.7 443.3 L62.2 439.1 L62.7 435.3 L63.2 432.2 L63.8 430.3 L64.3 429.6 L64.8 430.6 L65.4 433.5 L65.9 437.9 L66.5 443.0 L67.0 448.1 L67.6 452.4 L68.2 455.3 L68.7 456.4 L69.2 455.5 L69.7 452.9 L70.2 449.1 L70.7 444.6 L71.3 440.1 L71.8 436.3 L72.3 433.7 L72.8 432.8 L73.3 433.4 L73.8 435.2 L74.4 437.9 L74.9 441.1 L75.4 444.2 L75.9 446.9 L76.5 448.7 L77.0 449.4 L77.5 448.8 L78.1 447.2 L78.6 444.9 L79.2 442.4 L79.7 440.1 L80.3 438.5 L80.8 437.9 L81.3 438.3 L81.9 439.6 L82.4 441.4 L83.0 443.3 L83.5 445.1 L84.1 446.4 L84.6 446.8 L85.2 446.6 L85.7 445.9 L86.3 444.8 L86.8 443.6 L87.4 442.4 L88.0 441.4 L88.5 440.7 L89.1 440.4 L89.6 440.8 L90.2 441.9 L90.8 443.3 L91.4 444.7 L92.0 445.8 L92.5 446.2 L93.1 445.8 L93.6 444.6 L94.2 443.0 L94.7 441.1 L95.3 439.5 L95.8 438.3 L96.4 437.9 L96.9 438.5 L97.5 440.0 L98.0 442.4 L98.6 445.2 L99.1 448.0 L99.7 450.4 L100.3 452.0 L100.8 452.5 L101.4 451.1 L102.0 447.1 L102.5 441.7 L103.1 436.3 L103.7 432.3 L104.2 430.9 L104.8 432.2 L105.3 435.8 L105.9 441.0 L106.4 446.8 L107.0 452.1 L107.5 455.7 L108.1 457.0 L108.6 455.8 L109.1 452.6 L109.6 447.8 L110.2 442.0 L110.7 436.3 L111.2 431.5 L111.7 428.2 L112.3 427.1 L112.8 428.6 L113.4 432.7 L113.9 438.7 L114.4 445.4 L115.0 451.4 L115.5 455.5 L116.1 457.0 L116.6 455.8 L117.2 452.6 L117.7 447.8 L118.3 442.6 L118.8 437.9 L119.4 434.6 L119.9 433.4 L120.4 434.3 L121.0 436.6 L121.5 439.9 L122.1 443.6 L122.6 446.9 L123.2 449.2 L123.7 450.0 L124.2 449.2 L124.8 447.1 L125.3 444.3 L125.8 441.4 L126.4 439.3 L126.9 438.5 L127.4 439.1 L128.0 440.6 L128.5 442.7 L129.1 445.1 L129.6 447.3 L130.2 448.8 L130.7 449.4 L131.3 448.7 L131.8 446.8 L132.4 444.0 L132.9 440.8 L133.5 437.5 L134.1 434.7 L134.6 432.8 L135.2 432.2 L135.7 433.0 L136.2 435.4 L136.7 439.0 L137.3 443.3 L137.8 447.6 L138.3 451.2 L138.8 453.6 L139.4 454.4 L139.9 453.7 L140.4 451.8 L140.9 448.7 L141.5 445.0 L142.0 441.0 L142.5 437.3 L143.0 434.2 L143.5 432.2 L144.1 431.5 L144.6 432.1 L145.1 433.8 L145.6 436.3 L146.2 439.4 L146.7 442.7 L147.2 445.9 L147.7 448.4 L148.3 450.0 L148.8 450.6 L149.3 450.3 L149.8 449.2 L150.4 447.5 L150.9 445.2 L151.4 442.6 L152.0 439.8 L152.5 437.0 L153.0 434.4 L153.6 432.2 L154.1 430.4 L154.6 429.4 L155.2 429.0 L155.7 430.3 L156.2 433.9 L156.8 439.4 L157.3 445.8 L157.8 452.3 L158.3 457.8 L158.9 461.4 L159.4 462.7 L159.9 461.3 L160.4 457.4 L160.9 451.5 L161.4 444.6 L161.9 437.6 L162.4 431.8 L162.9 427.8 L163.4 426.4 L164.0 427.5 L164.5 430.5 L165.0 434.9 L165.5 440.1 L166.0 445.4 L166.5 449.8 L167.0 452.8 L167.5 453.8 L168.0 453.0 L168.5 450.9 L169.0 447.9 L169.6 444.5 L170.1 441.4 L170.6 439.3 L171.1 438.5 L171.6 438.6 L172.1 438.8 L172.6 439.1 L173.1 439.6 L173.6 440.2 L174.1 440.8 L174.6 441.6 L175.1 442.4 L175.6 443.2 L176.1 444.0 L176.6 444.9 L177.1 445.7 L177.6 446.4 L178.1 447.1 L178.6 447.6 L179.1 448.1 L179.6 448.4 L180.1 448.6 L180.6 448.7 L181.2 448.1 L181.7 446.2 L182.2 443.4 L182.7 440.1 L183.2 436.8 L183.8 434.1 L184.3 432.2 L184.8 431.5 L185.3 432.6 L185.8 435.6 L186.3 440.2 L186.9 445.5 L187.4 450.9 L187.9 455.4 L188.4 458.5 L188.9 459.5 L189.4 458.3 L189.9 454.7 L190.4 449.3 L190.9 443.0 L191.4 436.7 L192.0 431.3 L192.5 427.7 L193.0 426.4 L193.5 427.5 L194.0 430.6 L194.5 435.3 L195.1 440.8 L195.6 446.2 L196.1 450.9 L196.6 454.0 L197.2 455.1 L197.7 454.3 L198.3 452.1 L198.8 448.9 L199.3 445.4 L199.9 442.2 L200.4 440.0 L201.0 439.2 L201.5 439.7 L202.0 441.1 L202.5 442.9 L203.0 444.4 L203.5 444.9 L204.1 444.1 L204.7 442.0 L205.3 439.5 L205.9 437.4 L206.4 436.6 L207.0 437.4 L207.5 439.7 L208.1 443.1 L208.6 446.7 L209.2 450.1 L209.7 452.4 L210.3 453.2 L210.8 452.2 L211.3 449.5 L211.9 445.5 L212.4 441.1 L212.9 437.2 L213.5 434.4 L214.0 433.4 L214.6 434.0 L215.1 435.4 L215.7 437.6 L216.2 440.1 L216.8 442.7 L217.3 444.8 L217.9 446.3 L218.4 446.8 L219.0 446.7 L219.5 446.6 L220.0 446.3 L220.5 446.0 L221.0 445.5 L221.6 445.0 L222.1 444.5 L222.6 443.9 L223.1 443.4 L223.6 442.8 L224.1 442.4 L224.7 441.9 L225.2 441.6 L225.7 441.3 L226.2 441.1 L226.7 441.1 L227.2 441.3 L227.7 441.7 L228.2 442.5 L228.8 443.5 L229.3 444.6 L229.8 445.7 L230.3 446.6 L230.8 447.4 L231.3 447.9 L231.8 448.1 L232.4 447.4 L232.9 445.7 L233.4 443.1 L234.0 440.3 L234.5 437.7 L235.1 436.0 L235.6 435.4 L236.2 436.0 L236.7 437.9 L237.3 440.7 L237.9 443.9 L238.4 447.2 L239.0 450.0 L239.5 451.9 L240.1 452.5 L240.6 451.6 L241.2 448.9 L241.7 445.1 L242.3 440.9 L242.8 437.0 L243.4 434.4 L243.9 433.4 L244.5 434.6 L245.0 437.6 L245.6 441.7 L246.2 445.8 L246.8 448.9 L247.3 450.0 L247.9 449.0 L248.4 446.2 L249.0 442.4 L249.5 438.5 L250.1 435.7 L250.6 434.7 L251.2 435.5 L251.7 437.7 L252.3 440.9 L252.8 444.4 L253.4 447.6 L253.9 449.8 L254.5 450.6 L255.0 449.8 L255.6 447.4 L256.2 444.3 L256.7 441.1 L257.3 438.8 L257.9 437.9 L258.4 438.3 L259.0 439.3 L259.5 440.9 L260.1 442.6 L260.6 444.1 L261.2 445.2 L261.7 445.5 L262.2 445.5 L262.7 445.3 L263.2 445.0 L263.7 444.6 L264.3 444.0 L264.8 443.4 L265.3 442.8 L265.8 442.0 L266.3 441.2 L266.8 440.4 L267.3 439.6 L267.8 438.9 L268.3 438.1 L268.8 437.4 L269.3 436.8 L269.9 436.3 L270.4 435.9 L270.9 435.6 L271.4 435.4 L271.9 435.4 L272.4 436.4 L273.0 439.4 L273.5 443.8 L274.1 448.6 L274.6 452.9 L275.2 455.9 L275.7 457.0 L276.2 456.1 L276.8 453.6 L277.3 449.7 L277.8 444.9 L278.3 439.8 L278.9 435.0 L279.4 431.1 L279.9 428.6 L280.4 427.7 L281.0 428.8 L281.5 432.0 L282.0 436.8 L282.5 442.4 L283.1 447.9 L283.6 452.7 L284.1 455.9 L284.6 457.0 L285.2 456.1 L285.7 453.7 L286.2 450.1 L286.7 445.9 L287.2 441.6 L287.7 438.0 L288.2 435.6 L288.7 434.7 L289.2 434.8 L289.8 435.2 L290.3 435.7 L290.8 436.4 L291.3 437.3 L291.8 438.3 L292.3 439.3 L292.9 440.4 L293.4 441.6 L293.9 442.6 L294.4 443.6 L294.9 444.5 L295.4 445.2 L296.0 445.7 L296.5 446.1 L297.0 446.2 L297.5 446.0 L298.1 445.6 L298.6 444.9 L299.1 443.9 L299.6 442.9 L300.2 441.7 L300.7 440.6 L301.2 439.5 L301.8 438.6 L302.3 437.9 L302.8 437.4 L303.4 437.3 L303.9 437.9 L304.4 439.7 L305.0 442.2 L305.5 445.0 L306.1 447.6 L306.6 449.4 L307.2 450.0 L307.7 449.2 L308.2 447.1 L308.7 443.9 L309.3 440.1 L309.8 436.3 L310.3 433.1 L310.8 431.0 L311.4 430.3 L311.9 431.1 L312.4 433.5 L312.9 437.1 L313.4 441.4 L313.9 445.7 L314.4 449.3 L314.9 451.7 L315.4 452.5 L316.0 452.0 L316.6 450.5 L317.1 448.2 L317.7 445.5 L318.2 442.9 L318.8 440.6 L319.3 439.1 L319.9 438.5 L320.4 438.7 L320.9 439.1 L321.4 439.8 L321.9 440.7 L322.4 441.7 L322.9 442.7 L323.5 443.6 L324.0 444.3 L324.5 444.7 L325.0 444.9 L325.5 444.8 L326.0 444.5 L326.5 444.0 L327.0 443.4 L327.5 442.7 L328.0 442.0 L328.5 441.4 L329.1 440.9 L329.6 440.5 L330.1 440.4 L330.6 440.9 L331.1 442.2 L331.7 443.9 L332.2 445.7 L332.7 447.0 L333.2 447.4 L333.8 447.0 L334.4 445.7 L334.9 443.7 L335.5 441.4 L336.0 439.1 L336.6 437.1 L337.1 435.8 L337.7 435.4 L338.3 438.0 L338.8 444.3 L339.4 450.6 L339.9 453.2 L340.5 452.2 L341.0 449.5 L341.5 445.5 L342.1 441.1 L342.6 437.2 L343.2 434.4 L343.7 433.4 L344.3 434.1 L344.8 435.8 L345.4 438.4 L345.9 441.2 L346.5 443.8 L347.0 445.5 L347.5 446.2 L348.1 446.0 L348.7 445.5 L349.3 444.9 L349.9 444.4 L350.5 444.3 L351.0 444.5 L351.6 445.1 L352.1 445.9 L352.7 446.6 L353.3 446.8 L353.8 446.1 L354.3 444.3 L354.8 441.6 L355.3 438.6 L355.8 436.0 L356.3 434.1 L356.8 433.4 L357.3 434.2 L357.8 436.3 L358.4 439.5 L358.9 443.3 L359.4 447.1 L359.9 450.3 L360.4 452.4 L360.9 453.2 L361.5 452.4 L362.0 450.1 L362.6 446.7 L363.1 442.7 L363.7 438.7 L364.2 435.2 L364.8 433.0 L365.4 432.2 L365.9 433.0 L366.5 435.5 L367.0 439.2 L367.6 443.6 L368.1 448.0 L368.7 451.7 L369.3 454.2 L369.8 455.1 L370.3 454.3 L370.8 452.1 L371.3 448.8 L371.8 444.9 L372.4 441.0 L372.9 437.7 L373.4 435.5 L373.9 434.7 L374.4 435.4 L374.9 437.4 L375.4 440.2 L375.9 443.3 L376.4 446.1 L376.9 448.0 L377.4 448.7 L378.0 447.7 L378.6 445.2 L379.1 442.0 L379.7 439.5 L380.2 438.5 L380.8 439.6 L381.4 442.5 L382.0 446.0 L382.6 448.9 L383.2 450.0 L383.7 449.4 L384.3 447.7 L384.8 445.3 L385.3 442.6 L385.9 440.2 L386.4 438.5 L387.0 437.9 L387.5 438.8 L388.0 441.1 L388.6 444.3 L389.1 447.4 L389.6 449.8 L390.2 450.6 L390.7 449.8 L391.2 447.5 L391.7 444.2 L392.2 440.5 L392.7 437.2 L393.2 434.9 L393.7 434.1 L394.3 435.1 L394.8 438.0 L395.4 442.2 L395.9 446.9 L396.5 451.1 L397.0 454.0 L397.5 455.1 L398.1 453.2 L398.7 448.1 L399.3 441.1 L399.9 434.1 L400.4 429.0 L401.0 427.1 L401.6 428.7 L402.1 433.3 L402.7 439.9 L403.2 447.3 L403.7 453.9 L404.3 458.5 L404.8 460.2 L405.3 458.9 L405.9 455.4 L406.4 450.1 L406.9 443.9 L407.4 437.7 L407.9 432.5 L408.4 429.0 L408.9 427.7 L409.4 428.8 L409.9 431.8 L410.4 436.4 L410.9 441.7 L411.5 447.1 L412.0 451.6 L412.5 454.6 L413.0 455.7 L413.5 454.5 L414.0 451.2 L414.5 446.3 L415.0 440.9 L415.5 436.1 L416.0 432.7 L416.5 431.5 L417.0 432.6 L417.6 435.7 L418.1 440.2 L418.6 445.1 L419.1 449.6 L419.6 452.7 L420.1 453.8 L420.6 452.5 L421.2 449.0 L421.7 443.9 L422.3 438.2 L422.8 433.1 L423.4 429.6 L423.9 428.4 L424.4 429.4 L424.9 432.6 L425.4 437.2 L426.0 442.7 L426.5 448.1 L427.0 452.8 L427.5 455.9 L428.0 457.0 L428.5 456.1 L429.0 453.5 L429.5 449.7 L430.0 445.2 L430.5 440.7 L431.0 436.9 L431.6 434.3 L432.1 433.4 L432.6 434.1 L433.1 435.8 L433.6 438.4 L434.2 441.4 L434.7 444.4 L435.2 447.0 L435.7 448.7 L436.3 449.4 L436.8 448.9 L437.3 447.6 L437.8 445.6 L438.4 443.3 L438.9 441.0 L439.4 439.0 L439.9 437.7 L440.5 437.3 L441.0 438.0 L441.6 440.1 L442.2 443.0 L442.7 445.8 L443.3 447.9 L443.9 448.7 L444.4 448.3 L445.0 447.2 L445.5 445.5 L446.1 443.7 L446.6 442.0 L447.2 440.8 L447.7 440.4 L448.2 440.7 L448.7 441.3 L449.2 442.1 L449.7 442.7 L450.2 443.0 L450.9 442.0 L451.5 440.1 L452.2 439.2 L452.7 439.8 L453.3 441.4 L453.8 443.9 L454.3 446.6 L454.9 449.0 L455.4 450.7 L456.0 451.3 L456.5 450.4 L457.1 448.1 L457.6 444.6 L458.2 440.4 L458.8 436.3 L459.3 432.8 L459.9 430.5 L460.4 429.6 L461.0 431.0 L461.5 434.7 L462.1 440.0 L462.6 446.0 L463.2 451.3 L463.7 455.0 L464.3 456.4 L464.8 455.3 L465.3 452.3 L465.8 447.9 L466.4 442.7 L466.9 437.4 L467.4 433.0 L467.9 430.0 L468.5 429.0 L469.0 429.7 L469.5 431.9 L470.0 435.2 L470.6 439.2 L471.1 443.5 L471.6 447.6 L472.1 450.9 L472.6 453.1 L473.2 453.8 L473.8 451.9 L474.4 448.1 L475.1 446.2" stroke="#00f" stroke-width="1.1" opacity="0.45"/>
<path d="M29.8 446.2 L30.3 445.7 L30.9 444.4 L31.5 442.5 L32.0 440.3 L32.6 438.4 L33.2 437.1 L33.7 436.6 L34.3 437.3 L34.8 439.1 L35.4 441.7 L36.0 444.9 L36.5 448.1 L37.1 450.7 L37.6 452.5 L38.2 453.2 L38.7 452.3 L39.3 449.8 L39.8 446.2 L40.4 442.3 L40.9 438.7 L41.4 436.2 L42.0 435.4 L42.5 435.9 L43.1 437.3 L43.6 439.3 L44.2 441.6 L44.7 443.6 L45.3 445.0 L45.8 445.5 L46.3 445.2 L46.8 444.2 L47.3 443.0 L47.9 442.1 L48.4 441.7 L48.9 442.8 L49.4 445.5 L49.9 448.8 L50.4 451.5 L50.9 452.5 L51.4 451.6 L51.9 448.9 L52.4 444.9 L52.9 440.1 L53.4 435.4 L54.0 431.4 L54.5 428.7 L55.0 427.7 L55.5 428.8 L56.0 432.0 L56.5 436.8 L57.1 442.4 L57.6 447.9 L58.1 452.7 L58.6 455.9 L59.2 457.0 L59.7 456.3 L60.2 454.4 L60.7 451.3 L61.2 447.5 L61.7 443.3 L62.2 439.1 L62.7 435.3 L63.2 432.2 L63.8 430.3 L64.3 429.6 L64.8 430.6 L65.4 433.5 L65.9 437.9 L66.5 443.0 L67.0 448.1 L67.6 452.4 L68.2 455.3 L68.7 456.4 L69.2 455.5 L69.7 452.9 L70.2 449.1 L70.7 444.6 L71.3 440.1 L71.8 436.3 L72.3 433.7 L72.8 432.8 L73.3 433.4 L73.8 435.2 L74.4 437.9 L74.9 441.1 L75.4 444.2 L75.9 446.9 L76.5 448.7 L77.0 449.4 L77.5 448.8 L78.1 447.2 L78.6 444.9 L79.2 442.4 L79.7 440.1 L80.3 438.5 L80.8 437.9 L81.3 438.3 L81.9 439.6 L82.4 441.4 L83.0 443.3 L83.5 445.1 L84.1 446.4 L84.6 446.8 L85.2 446.6 L85.7 445.9 L86.3 444.8 L86.8 443.6 L87.4 442.4 L88.0 441.4 L88.5 440.7 L89.1 440.4 L89.6 440.8 L90.2 441.9 L90.8 443.3 L91.4 444.7 L92.0 445.8 L92.5 446.2 L93.1 445.8 L93.6 444.6 L94.2 443.0 L94.7 441.1 L95.3 439.5 L95.8 438.3 L96.4 437.9 L96.9 438.5 L97.5 440.0 L98.0 442.4 L98.6 445.2 L99.1 448.0 L99.7 450.4 L100.3 452.0 L100.8 452.5 L101.4 451.1 L102.0 447.1 L102.5 441.7 L103.1 436.3 L103.7 432.3 L104.2 430.9 L104.8 432.2 L105.3 435.8 L105.9 441.0 L106.4 446.8 L107.0 452.1 L107.5 455.7 L108.1 457.0 L108.6 455.8 L109.1 452.6 L109.6 447.8 L110.2 442.0 L110.7 436.3 L111.2 431.5 L111.7 428.2 L112.3 427.1 L112.8 428.6 L113.4 432.7 L113.9 438.7 L114.4 445.4 L115.0 451.4 L115.5 455.5 L116.1 457.0 L116.6 455.8 L117.2 452.6 L117.7 447.8 L118.3 442.6 L118.8 437.9 L119.4 434.6 L119.9 433.4 L120.4 434.3 L121.0 436.6 L121.5 439.9 L122.1 443.6 L122.6 446.9 L123.2 449.2 L123.7 450.0 L124.2 449.2 L124.8 447.1 L125.3 444.3 L125.8 441.4 L126.4 439.3 L126.9 438.5 L127.4 439.1 L128.0 440.6 L128.5 442.7 L129.1 445.1 L129.6 447.3 L130.2 448.8 L130.7 449.4 L131.3 448.7 L131.8 446.8 L132.4 444.0 L132.9 440.8 L133.5 437.5 L134.1 434.7 L134.6 432.8 L135.2 432.2 L135.7 433.0 L136.2 435.4 L136.7 439.0 L137.3 443.3 L137.8 447.6 L138.3 451.2 L138.8 453.6 L139.4 454.4 L139.9 453.7 L140.4 451.8 L140.9 448.7 L141.5 445.0 L142.0 441.0 L142.5 437.3 L143.0 434.2 L143.5 432.2 L144.1 431.5 L144.6 432.1 L145.1 433.8 L145.6 436.3 L146.2 439.4 L146.7 442.7 L147.2 445.9 L147.7 448.4 L148.3 450.0 L148.8 450.6 L149.3 450.3 L149.8 449.2 L150.4 447.5 L150.9 445.2 L151.4 442.6 L152.0 439.8 L152.5 437.0 L153.0 434.4 L153.6 432.2 L154.1 430.4 L154.6 429.4 L155.2 429.0 L155.7 430.3 L156.2 433.9 L156.8 439.4 L157.3 445.8 L157.8 452.3 L158.3 457.8 L158.9 461.4 L159.4 462.7 L159.9 461.3 L160.4 457.4 L160.9 451.5 L161.4 444.6 L161.9 437.6 L162.4 431.8 L162.9 427.8 L163.4 426.4 L164.0 427.5 L164.5 430.5 L165.0 434.9 L165.5 440.1 L166.0 445.4 L166.5 449.8 L167.0 452.8 L167.5 453.8 L168.0 453.0 L168.5 450.9 L169.0 447.9 L169.6 444.5 L170.1 441.4 L170.6 439.3 L171.1 438.5 L171.6 438.6 L172.1 438.8 L172.6 439.1 L173.1 439.6 L173.6 440.2 L174.1 440.8 L174.6 441.6 L175.1 442.4 L175.6 443.2 L176.1 444.0 L176.6 444.9 L177.1 445.7 L177.6 446.4 L178.1 447.1 L178.6 447.6 L179.1 448.1 L179.6 448.4 L180.1 448.6 L180.6 448.7 L181.2 448.1 L181.7 446.2 L182.2 443.4 L182.7 440.1 L183.2 436.8 L183.8 434.1 L184.3 432.2 L184.8 431.5 L185.3 432.6 L185.8 435.6 L186.3 440.2 L186.9 445.5 L187.4 450.9 L187.9 455.4 L188.4 458.5 L188.9 459.5 L189.4 458.3 L189.9 454.7 L190.4 449.3 L190.9 443.0 L191.4 436.7 L192.0 431.3 L192.5 427.7 L193.0 426.4 L193.5 427.5 L194.0 430.6 L194.5 435.3 L195.1 440.8 L195.6 446.2 L196.1 450.9 L196.6 454.0 L197.2 455.1 L197.7 454.3 L198.3 452.1 L198.8 448.9 L199.3 445.4 L199.9 442.2 L200.4 440.0 L201.0 439.2 L201.5 439.7 L202.0 441.1 L202.5 442.9 L203.0 444.4 L203.5 444.9 L204.1 444.1 L204.7 442.0 L205.3 439.5 L205.9 437.4 L206.4 436.6 L207.0 437.4 L207.5 439.7 L208.1 443.1 L208.6 446.7 L209.2 450.1 L209.7 452.4 L210.3 453.2 L210.8 452.2 L211.3 449.5 L211.9 445.5 L212.4 441.1 L212.9 437.2 L213.5 434.4 L214.0 433.4 L214.6 434.0 L215.1 435.4 L215.7 437.6 L216.2 440.1 L216.8 442.7 L217.3 444.8 L217.9 446.3 L218.4 446.8 L219.0 446.7 L219.5 446.6 L220.0 446.3 L220.5 446.0 L221.0 445.5 L221.6 445.0 L222.1 444.5 L222.6 443.9 L223.1 443.4 L223.6 442.8 L224.1 442.4 L224.7 441.9 L225.2 441.6 L225.7 441.3 L226.2 441.1 L226.7 441.1 L227.2 441.3 L227.7 441.7 L228.2 442.5 L228.8 443.5 L229.3 444.6 L229.8 445.7 L230.3 446.6 L230.8 447.4 L231.3 447.9 L231.8 448.1 L232.4 447.4 L232.9 445.7 L233.4 443.1 L234.0 440.3 L234.5 437.7 L235.1 436.0 L235.6 435.4 L236.2 436.0 L236.7 437.9 L237.3 440.7 L237.9 443.9 L238.4 447.2 L239.0 450.0 L239.5 451.9 L240.1 452.5 L240.6 451.6 L241.2 448.9 L241.7 445.1 L242.3 440.9 L242.8 437.0 L243.4 434.4 L243.9 433.4 L244.5 434.6 L245.0 437.6 L245.6 441.7 L246.2 445.8 L246.8 448.9 L247.3 450.0 L247.9 449.0 L248.4 446.2 L249.0 442.4 L249.5 438.5 L250.1 435.7 L250.6 434.7 L251.2 435.5 L251.7 437.7 L252.3 440.9 L252.8 444.4 L253.4 447.6 L253.9 449.8 L254.5 450.6 L255.0 449.8 L255.6 447.4 L256.2 444.3 L256.7 441.1 L257.3 438.8 L257.9 437.9 L258.4 438.3 L259.0 439.3 L259.5 440.9 L260.1 442.6 L260.6 444.1 L261.2 445.2 L261.7 445.5 L262.2 445.5 L262.7 445.3 L263.2 445.0 L263.7 444.6 L264.3 444.0 L264.8 443.4 L265.3 442.8 L265.8 442.0 L266.3 441.2 L266.8 440.4 L267.3 439.6 L267.8 438.9 L268.3 438.1 L268.8 437.4 L269.3 436.8 L269.9 436.3 L270.4 435.9 L270.9 435.6 L271.4 435.4 L271.9 435.4 L272.4 436.4 L273.0 439.4 L273.5 443.8 L274.1 448.6 L274.6 452.9 L275.2 455.9 L275.7 457.0 L276.2 456.1 L276.8 453.6 L277.3 449.7 L277.8 444.9 L278.3 439.8 L278.9 435.0 L279.4 431.1 L279.9 428.6 L280.4 427.7 L281.0 428.8 L281.5 432.0 L282.0 436.8 L282.5 442.4 L283.1 447.9 L283.6 452.7 L284.1 455.9 L284.6 457.0 L285.2 456.1 L285.7 453.7 L286.2 450.1 L286.7 445.9 L287.2 441.6 L287.7 438.0 L288.2 435.6 L288.7 434.7 L289.2 434.8 L289.8 435.2 L290.3 435.7 L290.8 436.4 L291.3 437.3 L291.8 438.3 L292.3 439.3 L292.9 440.4 L293.4 441.6 L293.9 442.6 L294.4 443.6 L294.9 444.5 L295.4 445.2 L296.0 445.7 L296.5 446.1 L297.0 446.2 L297.5 446.0 L298.1 445.6 L298.6 444.9 L299.1 443.9 L299.6 442.9 L300.2 441.7 L300.7 440.6 L301.2 439.5 L301.8 438.6 L302.3 437.9 L302.8 437.4 L303.4 437.3 L303.9 437.9 L304.4 439.7 L305.0 442.2 L305.5 445.0 L306.1 447.6 L306.6 449.4 L307.2 450.0 L307.7 449.2 L308.2 447.1 L308.7 443.9 L309.3 440.1 L309.8 436.3 L310.3 433.1 L310.8 431.0 L311.4 430.3 L311.9 431.1 L312.4 433.5 L312.9 437.1 L313.4 441.4 L313.9 445.7 L314.4 449.3 L314.9 451.7 L315.4 452.5 L316.0 452.0 L316.6 450.5 L317.1 448.2 L317.7 445.5 L318.2 442.9 L318.8 440.6 L319.3 439.1 L319.9 438.5 L320.4 438.7 L320.9 439.1 L321.4 439.8 L321.9 440.7 L322.4 441.7 L322.9 442.7 L323.5 443.6 L324.0 444.3 L324.5 444.7 L325.0 444.9 L325.5 444.8 L326.0 444.5 L326.5 444.0 L327.0 443.4 L327.5 442.7 L328.0 442.0 L328.5 441.4 L329.1 440.9 L329.6 440.5 L330.1 440.4 L330.6 440.9 L331.1 442.2 L331.7 443.9 L332.2 445.7 L332.7 447.0 L333.2 447.4 L333.8 447.0 L334.4 445.7 L334.9 443.7 L335.5 441.4 L336.0 439.1 L336.6 437.1 L337.1 435.8 L337.7 435.4 L338.3 438.0 L338.8 444.3 L339.4 450.6 L339.9 453.2 L340.5 452.2 L341.0 449.5 L341.5 445.5 L342.1 441.1 L342.6 437.2 L343.2 434.4 L343.7 433.4 L344.3 434.1 L344.8 435.8 L345.4 438.4 L345.9 441.2 L346.5 443.8 L347.0 445.5 L347.5 446.2 L348.1 446.0 L348.7 445.5 L349.3 444.9 L349.9 444.4 L350.5 444.3 L351.0 444.5 L351.6 445.1 L352.1 445.9 L352.7 446.6 L353.3 446.8 L353.8 446.1 L354.3 444.3 L354.8 441.6 L355.3 438.6 L355.8 436.0 L356.3 434.1 L356.8 433.4 L357.3 434.2 L357.8 436.3 L358.4 439.5 L358.9 443.3 L359.4 447.1 L359.9 450.3 L360.4 452.4 L360.9 453.2 L361.5 452.4 L362.0 450.1 L362.6 446.7 L363.1 442.7 L363.7 438.7 L364.2 435.2 L364.8 433.0 L365.4 432.2 L365.9 433.0 L366.5 435.5 L367.0 439.2 L367.6 443.6 L368.1 448.0 L368.7 451.7 L369.3 454.2 L369.8 455.1 L370.3 454.3 L370.8 452.1 L371.3 448.8 L371.8 444.9 L372.4 441.0 L372.9 437.7 L373.4 435.5 L373.9 434.7 L374.4 435.4 L374.9 437.4 L375.4 440.2 L375.9 443.3 L376.4 446.1 L376.9 448.0 L377.4 448.7 L378.0 447.7 L378.6 445.2 L379.1 442.0 L379.7 439.5 L380.2 438.5 L380.8 439.6 L381.4 442.5 L382.0 446.0 L382.6 448.9 L383.2 450.0 L383.7 449.4 L384.3 447.7 L384.8 445.3 L385.3 442.6 L385.9 440.2 L386.4 438.5 L387.0 437.9 L387.5 438.8 L388.0 441.1 L388.6 444.3 L389.1 447.4 L389.6 449.8 L390.2 450.6 L390.7 449.8 L391.2 447.5 L391.7 444.2 L392.2 440.5 L392.7 437.2 L393.2 434.9 L393.7 434.1 L394.3 435.1 L394.8 438.0 L395.4 442.2 L395.9 446.9 L396.5 451.1 L397.0 454.0 L397.5 455.1 L398.1 453.2 L398.7 448.1 L399.3 441.1 L399.9 434.1 L400.4 429.0 L401.0 427.1 L401.6 428.7 L402.1 433.3 L402.7 439.9 L403.2 447.3 L403.7 453.9 L404.3 458.5 L404.8 460.2 L405.3 458.9 L405.9 455.4 L406.4 450.1 L406.9 443.9 L407.4 437.7 L407.9 432.5 L408.4 429.0 L408.9 427.7 L409.4 428.8 L409.9 431.8 L410.4 436.4 L410.9 441.7 L411.5 447.1 L412.0 451.6 L412.5 454.6 L413.0 455.7 L413.5 454.5 L414.0 451.2 L414.5 446.3 L415.0 440.9 L415.5 436.1 L416.0 432.7 L416.5 431.5 L417.0 432.6 L417.6 435.7 L418.1 440.2 L418.6 445.1 L419.1 449.6 L419.6 452.7 L420.1 453.8 L420.6 452.5 L421.2 449.0 L421.7 443.9 L422.3 438.2 L422.8 433.1 L423.4 429.6 L423.9 428.4 L424.4 429.4 L424.9 432.6 L425.4 437.2 L426.0 442.7 L426.5 448.1 L427.0 452.8 L427.5 455.9 L428.0 457.0 L428.5 456.1 L429.0 453.5 L429.5 449.7 L430.0 445.2 L430.5 440.7 L431.0 436.9 L431.6 434.3 L432.1 433.4 L432.6 434.1 L433.1 435.8 L433.6 438.4 L434.2 441.4 L434.7 444.4 L435.2 447.0 L435.7 448.7 L436.3 449.4 L436.8 448.9 L437.3 447.6 L437.8 445.6 L438.4 443.3 L438.9 441.0 L439.4 439.0 L439.9 437.7 L440.5 437.3 L441.0 438.0 L441.6 440.1 L442.2 443.0 L442.7 445.8 L443.3 447.9 L443.9 448.7 L444.4 448.3 L445.0 447.2 L445.5 445.5 L446.1 443.7 L446.6 442.0 L447.2 440.8 L447.7 440.4 L448.2 440.7 L448.7 441.3 L449.2 442.1 L449.7 442.7 L450.2 443.0 L450.9 442.0 L451.5 440.1 L452.2 439.2 L452.7 439.8 L453.3 441.4 L453.8 443.9 L454.3 446.6 L454.9 449.0 L455.4 450.7 L456.0 451.3 L456.5 450.4 L457.1 448.1 L457.6 444.6 L458.2 440.4 L458.8 436.3 L459.3 432.8 L459.9 430.5 L460.4 429.6 L461.0 431.0 L461.5 434.7 L462.1 440.0 L462.6 446.0 L463.2 451.3 L463.7 455.0 L464.3 456.4 L464.8 455.3 L465.3 452.3 L465.8 447.9 L466.4 442.7 L466.9 437.4 L467.4 433.0 L467.9 430.0 L468.5 429.0 L469.0 429.7 L469.5 431.9 L470.0 435.2 L470.6 439.2 L471.1 443.5 L471.6 447.6 L472.1 450.9 L472.6 453.1 L473.2 453.8 L473.8 451.9 L474.4 448.1 L475.1 446.2" stroke="#00f" stroke-width="1.1" stroke-dasharray="3.8 1.1"/>
</g>
<path d="M29.6 380.2V505.7H475.3" fill="none" stroke="#333" stroke-width="0.95"/>
<path d="M29.6 380.5H475.3V505.7" fill="none" stroke="#333" stroke-width="0.7"/>
<text x="14.1" y="507.75" class="tk" textLength="11.9" lengthAdjust="spacingAndGlyphs">−10</text>
<text x="18.2" y="495.23" class="tk" textLength="7.8" lengthAdjust="spacingAndGlyphs">−8</text>
<text x="18.2" y="482.71" class="tk" textLength="7.8" lengthAdjust="spacingAndGlyphs">−6</text>
<text x="18.2" y="470.19" class="tk" textLength="7.8" lengthAdjust="spacingAndGlyphs">−4</text>
<text x="18.2" y="457.67" class="tk" textLength="7.8" lengthAdjust="spacingAndGlyphs">−2</text>
<text x="21.9" y="445.15" class="tk" textLength="4.1" lengthAdjust="spacingAndGlyphs">0</text>
<text x="21.9" y="432.63" class="tk" textLength="4.1" lengthAdjust="spacingAndGlyphs">2</text>
<text x="21.9" y="420.11" class="tk" textLength="4.1" lengthAdjust="spacingAndGlyphs">4</text>
<text x="21.9" y="407.59" class="tk" textLength="4.1" lengthAdjust="spacingAndGlyphs">6</text>
<text x="21.9" y="395.07" class="tk" textLength="4.1" lengthAdjust="spacingAndGlyphs">8</text>
<text x="17.8" y="382.55" class="tk" textLength="8.2" lengthAdjust="spacingAndGlyphs">10</text>
<text x="29.6" y="513.6" text-anchor="middle" class="tk" textLength="16.2" lengthAdjust="spacingAndGlyphs">2500</text>
<text x="118.74" y="513.6" text-anchor="middle" class="tk" textLength="16.2" lengthAdjust="spacingAndGlyphs">2600</text>
<text x="207.88" y="513.6" text-anchor="middle" class="tk" textLength="16.2" lengthAdjust="spacingAndGlyphs">2700</text>
<text x="297.02" y="513.6" text-anchor="middle" class="tk" textLength="16.2" lengthAdjust="spacingAndGlyphs">2800</text>
<text x="386.16" y="513.6" text-anchor="middle" class="tk" textLength="16.2" lengthAdjust="spacingAndGlyphs">2900</text>
<text x="475.3" y="513.6" text-anchor="middle" class="tk" textLength="16.2" lengthAdjust="spacingAndGlyphs">3000</text>
<path d="M29.6 505.7 h3.0M29.6 493.18 h3.0M29.6 480.66 h3.0M29.6 468.14 h3.0M29.6 455.62 h3.0M29.6 443.1 h3.0M29.6 430.58 h3.0M29.6 418.06 h3.0M29.6 405.54 h3.0M29.6 393.02 h3.0M29.6 380.5 h3.0M29.6 499.44 h1.7M29.6 486.92 h1.7M29.6 474.4 h1.7M29.6 461.88 h1.7M29.6 449.36 h1.7M29.6 436.84 h1.7M29.6 424.32 h1.7M29.6 411.8 h1.7M29.6 399.28 h1.7M29.6 386.76 h1.7M29.6 505.7 v-2.6M74.17 505.7 v-1.6M118.74 505.7 v-2.6M163.31 505.7 v-1.6M207.88 505.7 v-2.6M252.45 505.7 v-1.6M297.02 505.7 v-2.6M341.59 505.7 v-1.6M386.16 505.7 v-2.6M430.73 505.7 v-1.6M475.3 505.7 v-2.6" stroke="#333" stroke-width="0.7" fill="none"/>
<text x="248.55" y="520.3" class="al" textLength="8.6" lengthAdjust="spacingAndGlyphs">t/s</text>
<text transform="translate(13 443.9) rotate(-90) scale(1 1.25)" text-anchor="middle" class="al">ξ<tspan dy="1.3" font-size="4.6px">5</tspan><tspan dy="-1.3">/°</tspan></text>
<rect x="374.2" y="380.5" width="101.1" height="24.7" fill="#fff" stroke="#333" stroke-width="0.9"/>
<path d="M375.1 384.5 H393.5" stroke="#111" stroke-width="0.8"/>
<text x="398.3" y="387" class="lg" font-size="7.07px" textLength="47.4" lengthAdjust="spacingAndGlyphs">ITTC spectra</text>
<path d="M375.1 392.5 H393.5" stroke="#f00" stroke-width="0.8" stroke-dasharray="3.86 4.78 3.86 4.69 1.20 30"/>
<text x="398.3" y="395" class="lg" font-size="7.07px" textLength="68.9" lengthAdjust="spacingAndGlyphs">JONSWAP spectra</text>
<path d="M375.1 400.7 H393.5" stroke="#00f" stroke-width="0.8" stroke-dasharray="3.86 4.78 3.86 4.69 1.20 30"/>
<text x="398.3" y="403.2" class="lg" font-size="7.07px" textLength="74.3" lengthAdjust="spacingAndGlyphs">Ochi-Hubble spectra</text>
<text x="237.8" y="542.5" class="cap" textLength="14.2" lengthAdjust="spacingAndGlyphs">(c)</text>
</svg>
</body></html>
